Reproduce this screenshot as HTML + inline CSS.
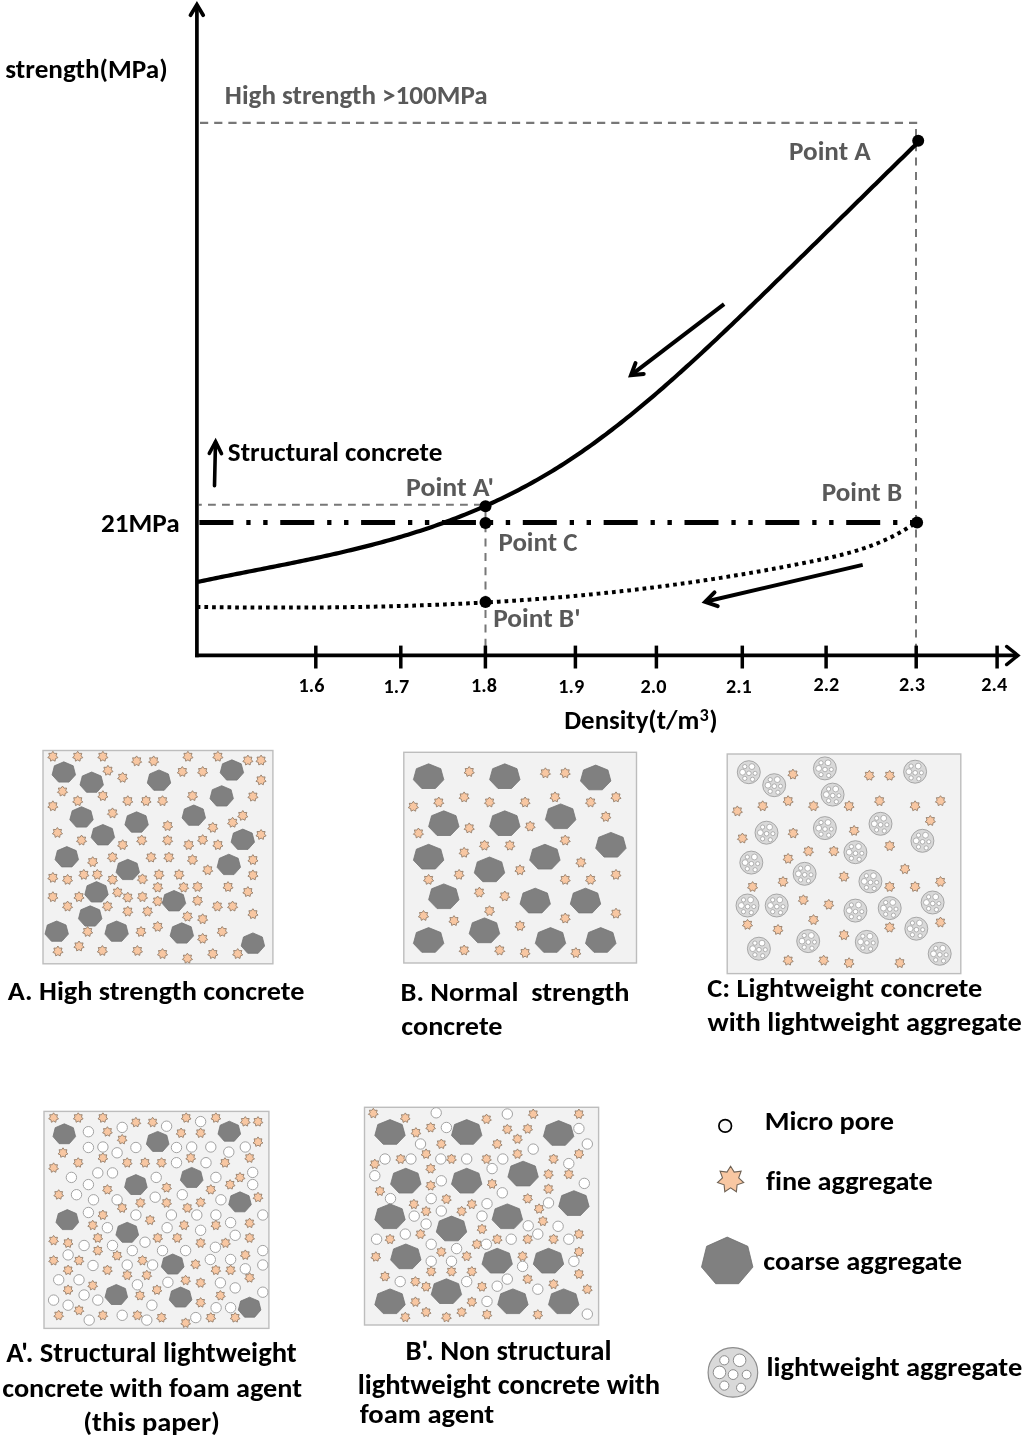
<!DOCTYPE html>
<html><head><meta charset="utf-8"><title>Strength vs density of concrete</title>
<style>
html,body{margin:0;padding:0;background:#fff;}
body{width:1024px;height:1437px;overflow:hidden;}
svg{display:block;}
text{font-variant-ligatures:none;font-feature-settings:'liga' 0,'clig' 0;}
</style></head>
<body>
<svg width="1024" height="1437" viewBox="0 0 1024 1437">
<rect width="1024" height="1437" fill="#fff"/>
<g id="chart">
<line x1="200" y1="122.8" x2="917.5" y2="122.8" stroke="#777777" stroke-width="2.2" stroke-dasharray="8.2 5.98"/>
<line x1="916" y1="129" x2="916" y2="654" stroke="#777777" stroke-width="2" stroke-dasharray="8 6.3"/>
<line x1="485.5" y1="510" x2="485.5" y2="654" stroke="#777777" stroke-width="2" stroke-dasharray="8 6.3"/>
<line x1="198.7" y1="504.7" x2="485" y2="504.7" stroke="#777777" stroke-width="1.9" stroke-dasharray="7.8 6.2" stroke-dashoffset="4.7"/>
<line x1="199.4" y1="522.5" x2="917" y2="522.5" stroke="#000" stroke-width="4.8" stroke-dasharray="34 12.9 4.3 12.6 4.4 12.65"/>
<path d="M197.90,581.84 L200.90,581.21 L203.90,580.58 L206.90,579.96 L209.90,579.34 L212.90,578.73 L215.90,578.12 L218.90,577.51 L221.90,576.91 L224.90,576.30 L227.90,575.70 L230.90,575.11 L233.90,574.51 L236.90,573.92 L239.90,573.33 L242.90,572.74 L245.90,572.15 L248.90,571.56 L251.90,570.97 L254.90,570.38 L257.90,569.79 L260.90,569.20 L263.90,568.61 L266.90,568.02 L269.90,567.43 L272.90,566.83 L275.90,566.24 L278.90,565.64 L281.90,565.04 L284.90,564.44 L287.90,563.84 L290.90,563.23 L293.90,562.62 L296.90,562.01 L299.90,561.39 L302.90,560.77 L305.90,560.14 L308.90,559.52 L311.90,558.88 L314.90,558.24 L317.90,557.60 L320.90,556.95 L323.90,556.30 L326.90,555.64 L329.90,554.97 L332.90,554.30 L335.90,553.62 L338.90,552.93 L341.90,552.24 L344.90,551.54 L347.90,550.83 L350.90,550.11 L353.90,549.39 L356.90,548.65 L359.90,547.91 L362.90,547.16 L365.90,546.40 L368.90,545.64 L371.90,544.86 L374.90,544.07 L377.90,543.27 L380.90,542.46 L383.90,541.64 L386.90,540.81 L389.90,539.97 L392.90,539.12 L395.90,538.26 L398.90,537.38 L401.90,536.49 L404.90,535.59 L407.90,534.68 L410.90,533.76 L413.90,532.82 L416.90,531.87 L419.90,530.90 L422.90,529.92 L425.90,528.93 L428.90,527.92 L431.90,526.90 L434.90,525.86 L437.90,524.81 L440.90,523.74 L443.90,522.66 L446.90,521.56 L449.90,520.44 L452.90,519.31 L455.90,518.16 L458.90,517.00 L461.90,515.82 L464.90,514.62 L467.90,513.40 L470.90,512.17 L473.90,510.91 L476.90,509.64 L479.90,508.35 L482.90,507.04 L485.90,505.72 L488.90,504.37 L491.90,503.00 L494.90,501.62 L497.90,500.21 L500.90,498.78 L503.90,497.34 L506.90,495.87 L509.90,494.38 L512.90,492.87 L515.90,491.34 L518.90,489.78 L521.90,488.21 L524.90,486.61 L527.90,484.99 L530.90,483.35 L533.90,481.68 L536.90,479.99 L539.90,478.28 L542.90,476.54 L545.90,474.78 L548.90,472.99 L551.90,471.18 L554.90,469.35 L557.90,467.49 L560.90,465.60 L563.90,463.69 L566.90,461.75 L569.90,459.79 L572.90,457.80 L575.90,455.79 L578.90,453.75 L581.90,451.68 L584.90,449.59 L587.90,447.48 L590.90,445.34 L593.90,443.18 L596.90,441.00 L599.90,438.79 L602.90,436.56 L605.90,434.31 L608.90,432.03 L611.90,429.74 L614.90,427.42 L617.90,425.09 L620.90,422.73 L623.90,420.35 L626.90,417.95 L629.90,415.54 L632.90,413.10 L635.90,410.65 L638.90,408.18 L641.90,405.69 L644.90,403.18 L647.90,400.66 L650.90,398.11 L653.90,395.56 L656.90,392.98 L659.90,390.39 L662.90,387.79 L665.90,385.17 L668.90,382.53 L671.90,379.88 L674.90,377.22 L677.90,374.54 L680.90,371.85 L683.90,369.15 L686.90,366.43 L689.90,363.71 L692.90,360.97 L695.90,358.21 L698.90,355.45 L701.90,352.68 L704.90,349.89 L707.90,347.10 L710.90,344.30 L713.90,341.48 L716.90,338.66 L719.90,335.83 L722.90,332.99 L725.90,330.14 L728.90,327.29 L731.90,324.42 L734.90,321.56 L737.90,318.68 L740.90,315.80 L743.90,312.91 L746.90,310.02 L749.90,307.12 L752.90,304.21 L755.90,301.30 L758.90,298.39 L761.90,295.48 L764.90,292.56 L767.90,289.63 L770.90,286.71 L773.90,283.78 L776.90,280.85 L779.90,277.92 L782.90,274.99 L785.90,272.05 L788.90,269.12 L791.90,266.18 L794.90,263.24 L797.90,260.30 L800.90,257.36 L803.90,254.42 L806.90,251.48 L809.90,248.53 L812.90,245.59 L815.90,242.64 L818.90,239.70 L821.90,236.75 L824.90,233.81 L827.90,230.86 L830.90,227.91 L833.90,224.96 L836.90,222.01 L839.90,219.06 L842.90,216.11 L845.90,213.16 L848.90,210.21 L851.90,207.26 L854.90,204.31 L857.90,201.36 L860.90,198.41 L863.90,195.46 L866.90,192.51 L869.90,189.56 L872.90,186.61 L875.90,183.66 L878.90,180.71 L881.90,177.77 L884.90,174.82 L887.90,171.87 L890.90,168.93 L893.90,165.98 L896.90,163.04 L899.90,160.09 L902.90,157.15 L905.90,154.21 L908.90,151.27 L911.90,148.33 L914.90,145.39 L917.90,142.45 L918.00,142.35" fill="none" stroke="#000" stroke-width="4.2" stroke-linejoin="round"/>
<path d="M196.70,606.95 L198.70,606.98 L200.70,607.00 L202.70,607.03 L204.70,607.06 L206.70,607.08 L208.70,607.11 L210.70,607.13 L212.70,607.16 L214.70,607.18 L216.70,607.21 L218.70,607.23 L220.70,607.25 L222.70,607.27 L224.70,607.29 L226.70,607.31 L228.70,607.33 L230.70,607.35 L232.70,607.37 L234.70,607.39 L236.70,607.41 L238.70,607.42 L240.70,607.44 L242.70,607.45 L244.70,607.47 L246.70,607.48 L248.70,607.49 L250.70,607.51 L252.70,607.52 L254.70,607.53 L256.70,607.54 L258.70,607.55 L260.70,607.56 L262.70,607.56 L264.70,607.57 L266.70,607.58 L268.70,607.58 L270.70,607.59 L272.70,607.59 L274.70,607.60 L276.70,607.60 L278.70,607.60 L280.70,607.60 L282.70,607.60 L284.70,607.60 L286.70,607.60 L288.70,607.60 L290.70,607.60 L292.70,607.59 L294.70,607.59 L296.70,607.58 L298.70,607.57 L300.70,607.57 L302.70,607.56 L304.70,607.55 L306.70,607.54 L308.70,607.53 L310.70,607.52 L312.70,607.51 L314.70,607.49 L316.70,607.48 L318.70,607.46 L320.70,607.45 L322.70,607.43 L324.70,607.41 L326.70,607.40 L328.70,607.38 L330.70,607.35 L332.70,607.33 L334.70,607.31 L336.70,607.29 L338.70,607.26 L340.70,607.24 L342.70,607.21 L344.70,607.18 L346.70,607.16 L348.70,607.13 L350.70,607.10 L352.70,607.06 L354.70,607.03 L356.70,607.00 L358.70,606.96 L360.70,606.93 L362.70,606.89 L364.70,606.86 L366.70,606.82 L368.70,606.78 L370.70,606.74 L372.70,606.70 L374.70,606.65 L376.70,606.61 L378.70,606.56 L380.70,606.52 L382.70,606.47 L384.70,606.42 L386.70,606.37 L388.70,606.32 L390.70,606.27 L392.70,606.22 L394.70,606.16 L396.70,606.11 L398.70,606.05 L400.70,606.00 L402.70,605.94 L404.70,605.88 L406.70,605.82 L408.70,605.76 L410.70,605.69 L412.70,605.63 L414.70,605.56 L416.70,605.50 L418.70,605.43 L420.70,605.36 L422.70,605.29 L424.70,605.22 L426.70,605.14 L428.70,605.07 L430.70,605.00 L432.70,604.92 L434.70,604.84 L436.70,604.76 L438.70,604.68 L440.70,604.60 L442.70,604.52 L444.70,604.43 L446.70,604.35 L448.70,604.26 L450.70,604.17 L452.70,604.08 L454.70,603.99 L456.70,603.90 L458.70,603.81 L460.70,603.71 L462.70,603.62 L464.70,603.52 L466.70,603.42 L468.70,603.32 L470.70,603.22 L472.70,603.12 L474.70,603.01 L476.70,602.91 L478.70,602.80 L480.70,602.69 L482.70,602.58 L484.70,602.47 L486.70,602.36 L488.70,602.25 L490.70,602.13 L492.70,602.01 L494.70,601.90 L496.70,601.78 L498.70,601.66 L500.70,601.53 L502.70,601.41 L504.70,601.28 L506.70,601.16 L508.70,601.03 L510.70,600.90 L512.70,600.77 L514.70,600.64 L516.70,600.50 L518.70,600.37 L520.70,600.23 L522.70,600.09 L524.70,599.95 L526.70,599.81 L528.70,599.66 L530.70,599.52 L532.70,599.37 L534.70,599.22 L536.70,599.07 L538.70,598.92 L540.70,598.77 L542.70,598.62 L544.70,598.46 L546.70,598.30 L548.70,598.14 L550.70,597.98 L552.70,597.82 L554.70,597.66 L556.70,597.49 L558.70,597.32 L560.70,597.15 L562.70,596.98 L564.70,596.81 L566.70,596.64 L568.70,596.46 L570.70,596.29 L572.70,596.11 L574.70,595.93 L576.70,595.74 L578.70,595.56 L580.70,595.38 L582.70,595.19 L584.70,595.00 L586.70,594.81 L588.70,594.62 L590.70,594.42 L592.70,594.23 L594.70,594.03 L596.70,593.83 L598.70,593.63 L600.70,593.43 L602.70,593.22 L604.70,593.01 L606.70,592.81 L608.70,592.60 L610.70,592.39 L612.70,592.17 L614.70,591.96 L616.70,591.74 L618.70,591.52 L620.70,591.30 L622.70,591.08 L624.70,590.85 L626.70,590.63 L628.70,590.40 L630.70,590.17 L632.70,589.94 L634.70,589.70 L636.70,589.47 L638.70,589.23 L640.70,588.99 L642.70,588.75 L644.70,588.51 L646.70,588.26 L648.70,588.02 L650.70,587.77 L652.70,587.52 L654.70,587.27 L656.70,587.01 L658.70,586.76 L660.70,586.50 L662.70,586.24 L664.70,585.98 L666.70,585.71 L668.70,585.45 L670.70,585.18 L672.70,584.91 L674.70,584.64 L676.70,584.36 L678.70,584.09 L680.70,583.81 L682.70,583.53 L684.70,583.25 L686.70,582.97 L688.70,582.68 L690.70,582.39 L692.70,582.10 L694.70,581.81 L696.70,581.52 L698.70,581.23 L700.70,580.93 L702.70,580.63 L704.70,580.33 L706.70,580.03 L708.70,579.72 L710.70,579.42 L712.70,579.11 L714.70,578.80 L716.70,578.49 L718.70,578.17 L720.70,577.86 L722.70,577.54 L724.70,577.22 L726.70,576.90 L728.70,576.57 L730.70,576.25 L732.70,575.92 L734.70,575.59 L736.70,575.26 L738.70,574.93 L740.70,574.59 L742.70,574.25 L744.70,573.91 L746.70,573.57 L748.70,573.23 L750.70,572.88 L752.70,572.54 L754.70,572.19 L756.70,571.84 L758.70,571.48 L760.70,571.13 L762.70,570.77 L764.70,570.41 L766.70,570.05 L768.70,569.69 L770.70,569.33 L772.70,568.96 L774.70,568.59 L776.70,568.22 L778.70,567.85 L780.70,567.48 L782.70,567.10 L784.70,566.72 L786.70,566.34 L788.70,565.96 L790.70,565.58 L792.70,565.19 L794.70,564.80 L796.70,564.41 L798.70,564.02 L800.70,563.63 L802.70,563.23 L804.70,562.83 L806.70,562.44 L808.70,562.03 L810.70,561.63 L812.70,561.23 L814.70,560.82 L816.70,560.41 L818.70,559.99 L820.70,559.58 L822.70,559.15 L824.70,558.72 L826.70,558.29 L828.70,557.85 L830.70,557.40 L832.70,556.95 L834.70,556.48 L836.70,556.01 L838.70,555.52 L840.70,555.03 L842.70,554.52 L844.70,554.00 L846.70,553.47 L848.70,552.93 L850.70,552.37 L852.70,551.80 L854.70,551.22 L856.70,550.61 L858.70,549.99 L860.70,549.36 L862.70,548.70 L864.70,548.03 L866.70,547.34 L868.70,546.63 L870.70,545.90 L872.70,545.15 L874.70,544.37 L876.70,543.58 L878.70,542.76 L880.70,541.92 L882.70,541.05 L884.70,540.16 L886.70,539.24 L888.70,538.30 L890.70,537.33 L892.70,536.34 L894.70,535.31 L896.70,534.26 L898.70,533.17 L900.70,532.06 L902.70,530.92 L904.70,529.74 L906.70,528.54 L908.70,527.30 L910.70,526.03 L912.70,524.72 L914.70,523.38 L916.00,522.49" fill="none" stroke="#000" stroke-width="4" stroke-dasharray="3.7 4"/>
<line x1="196.9" y1="657.2" x2="196.9" y2="5" stroke="#000" stroke-width="3.7"/>
<polyline points="190.5,15.2 196.9,4.6 203.2,15.2" fill="none" stroke="#000" stroke-width="3.8" stroke-linecap="round" stroke-linejoin="miter"/>
<line x1="195.2" y1="655.4" x2="1017" y2="655.4" stroke="#000" stroke-width="3.7"/>
<polyline points="1006.6,646.4 1018,655.4 1006.6,664.6" fill="none" stroke="#000" stroke-width="3.3" stroke-linecap="round"/>
<line x1="315.8" y1="645.6" x2="315.8" y2="668.5" stroke="#000" stroke-width="3.5"/>
<line x1="400.8" y1="645.6" x2="400.8" y2="668.5" stroke="#000" stroke-width="3.5"/>
<line x1="485.4" y1="645.6" x2="485.4" y2="668.5" stroke="#000" stroke-width="3.5"/>
<line x1="575.4" y1="645.6" x2="575.4" y2="668.5" stroke="#000" stroke-width="3.5"/>
<line x1="656.4" y1="645.6" x2="656.4" y2="668.5" stroke="#000" stroke-width="3.5"/>
<line x1="742.3" y1="645.6" x2="742.3" y2="668.5" stroke="#000" stroke-width="3.5"/>
<line x1="826.1" y1="645.6" x2="826.1" y2="668.5" stroke="#000" stroke-width="3.5"/>
<line x1="916.2" y1="645.6" x2="916.2" y2="668.5" stroke="#000" stroke-width="3.5"/>
<line x1="997.1" y1="645.6" x2="997.1" y2="668.5" stroke="#000" stroke-width="3.5"/>
<circle cx="918.2" cy="140.8" r="6" fill="#000"/>
<circle cx="485.5" cy="506.3" r="6" fill="#000"/>
<circle cx="485.5" cy="523.0" r="6" fill="#000"/>
<circle cx="917.1" cy="522.6" r="6" fill="#000"/>
<circle cx="485.5" cy="602.0" r="6" fill="#000"/>
<line x1="724.1" y1="304.2" x2="631.0" y2="375.1" stroke="#000" stroke-width="4.0"/><polyline points="635.5,363.1 631.0,375.1 643.7,373.9" fill="none" stroke="#000" stroke-width="4.0" stroke-linecap="round" stroke-linejoin="miter"/>
<line x1="862.7" y1="564.9" x2="705.2" y2="601.8" stroke="#000" stroke-width="4.0"/><polyline points="714.5,592.4 705.2,601.8 717.7,606.1" fill="none" stroke="#000" stroke-width="4.0" stroke-linecap="round" stroke-linejoin="miter"/>
<line x1="214.5" y1="485.8" x2="215.5" y2="442" stroke="#000" stroke-width="3.6" stroke-linecap="round"/>
<polyline points="209.3,453.4 215.6,441.6 221.5,453.6" fill="none" stroke="#000" stroke-width="3.6" stroke-linecap="round" stroke-linejoin="miter"/>
</g>
<g id="panels">
<rect x="43.0" y="750.5" width="229.9" height="213.3" fill="#f2f2f2" stroke="#bdbdbd" stroke-width="1.4"/>
<polygon points="52.9,751.3 54.3,753.4 56.9,753.3 56.2,755.7 57.9,757.7 55.5,758.6 55.1,761.2 52.9,759.9 50.6,761.2 50.2,758.6 47.8,757.7 49.5,755.7 48.8,753.3 51.4,753.4" fill="#f8c7a2" stroke="#8a735f" stroke-width="0.8"/>
<polygon points="77.7,751.3 79.2,753.4 81.8,753.3 81.1,755.7 82.8,757.7 80.4,758.6 80.0,761.2 77.7,759.9 75.5,761.2 75.1,758.6 72.7,757.7 74.4,755.7 73.7,753.3 76.2,753.4" fill="#f8c7a2" stroke="#8a735f" stroke-width="0.8"/>
<polygon points="102.9,751.3 104.4,753.4 106.9,753.3 106.2,755.7 107.9,757.7 105.6,758.6 105.1,761.2 102.9,759.9 100.6,761.2 100.2,758.6 97.8,757.7 99.5,755.7 98.8,753.3 101.4,753.4" fill="#f8c7a2" stroke="#8a735f" stroke-width="0.8"/>
<polygon points="136.6,755.9 138.1,758.0 140.7,757.8 140.0,760.3 141.7,762.2 139.3,763.2 138.9,765.8 136.6,764.5 134.4,765.8 134.0,763.2 131.6,762.2 133.3,760.3 132.6,757.8 135.2,758.0" fill="#f8c7a2" stroke="#8a735f" stroke-width="0.8"/>
<polygon points="153.7,755.9 155.1,758.0 157.7,757.8 157.0,760.3 158.7,762.2 156.3,763.2 155.9,765.8 153.7,764.5 151.4,765.8 151.0,763.2 148.6,762.2 150.3,760.3 149.6,757.8 152.2,758.0" fill="#f8c7a2" stroke="#8a735f" stroke-width="0.8"/>
<polygon points="187.9,751.3 189.4,753.4 192.0,753.3 191.3,755.7 193.0,757.7 190.6,758.6 190.2,761.2 187.9,759.9 185.7,761.2 185.2,758.6 182.9,757.7 184.6,755.7 183.9,753.3 186.4,753.4" fill="#f8c7a2" stroke="#8a735f" stroke-width="0.8"/>
<polygon points="217.9,751.3 219.4,753.4 222.0,753.3 221.2,755.7 223.0,757.7 220.6,758.6 220.1,761.2 217.9,759.9 215.6,761.2 215.2,758.6 212.8,757.7 214.5,755.7 213.8,753.3 216.4,753.4" fill="#f8c7a2" stroke="#8a735f" stroke-width="0.8"/>
<polygon points="247.9,755.1 249.3,757.2 251.9,757.1 251.2,759.5 252.9,761.5 250.5,762.5 250.1,765.0 247.9,763.7 245.6,765.0 245.2,762.5 242.8,761.5 244.5,759.5 243.8,757.1 246.4,757.2" fill="#f8c7a2" stroke="#8a735f" stroke-width="0.8"/>
<polygon points="261.1,755.1 262.5,757.2 265.1,757.1 264.4,759.5 266.1,761.5 263.7,762.5 263.3,765.0 261.1,763.7 258.8,765.0 258.4,762.5 256.0,761.5 257.7,759.5 257.0,757.1 259.6,757.2" fill="#f8c7a2" stroke="#8a735f" stroke-width="0.8"/>
<polygon points="107.9,765.3 109.4,767.4 112.0,767.2 111.3,769.7 113.0,771.6 110.6,772.6 110.2,775.2 107.9,773.9 105.7,775.2 105.3,772.6 102.9,771.6 104.6,769.7 103.9,767.2 106.5,767.4" fill="#f8c7a2" stroke="#8a735f" stroke-width="0.8"/>
<polygon points="122.7,772.4 124.2,774.5 126.7,774.3 126.0,776.8 127.7,778.7 125.4,779.7 124.9,782.3 122.7,781.0 120.4,782.3 120.0,779.7 117.6,778.7 119.3,776.8 118.6,774.3 121.2,774.5" fill="#f8c7a2" stroke="#8a735f" stroke-width="0.8"/>
<polygon points="182.3,766.5 183.8,768.6 186.4,768.5 185.7,771.0 187.4,772.9 185.0,773.9 184.6,776.4 182.3,775.2 180.1,776.4 179.7,773.9 177.3,772.9 179.0,771.0 178.3,768.5 180.9,768.6" fill="#f8c7a2" stroke="#8a735f" stroke-width="0.8"/>
<polygon points="202.7,766.5 204.1,768.6 206.7,768.5 206.0,771.0 207.7,772.9 205.3,773.9 204.9,776.4 202.7,775.2 200.4,776.4 200.0,773.9 197.6,772.9 199.3,771.0 198.6,768.5 201.2,768.6" fill="#f8c7a2" stroke="#8a735f" stroke-width="0.8"/>
<polygon points="261.1,774.9 262.5,777.0 265.1,776.9 264.4,779.4 266.1,781.3 263.7,782.3 263.3,784.8 261.1,783.5 258.8,784.8 258.4,782.3 256.0,781.3 257.7,779.4 257.0,776.9 259.6,777.0" fill="#f8c7a2" stroke="#8a735f" stroke-width="0.8"/>
<polygon points="62.5,786.1 64.0,788.2 66.6,788.0 65.8,790.5 67.6,792.4 65.2,793.4 64.8,796.0 62.5,794.7 60.2,796.0 59.8,793.4 57.4,792.4 59.2,790.5 58.4,788.0 61.0,788.2" fill="#f8c7a2" stroke="#8a735f" stroke-width="0.8"/>
<polygon points="77.7,795.7 79.2,797.8 81.8,797.7 81.1,800.2 82.8,802.1 80.4,803.1 80.0,805.6 77.7,804.4 75.5,805.6 75.1,803.1 72.7,802.1 74.4,800.2 73.7,797.7 76.2,797.8" fill="#f8c7a2" stroke="#8a735f" stroke-width="0.8"/>
<polygon points="102.9,790.7 104.4,792.8 106.9,792.6 106.2,795.1 107.9,797.0 105.6,798.0 105.1,800.5 102.9,799.3 100.6,800.5 100.2,798.0 97.8,797.0 99.5,795.1 98.8,792.6 101.4,792.8" fill="#f8c7a2" stroke="#8a735f" stroke-width="0.8"/>
<polygon points="127.8,795.7 129.2,797.8 131.8,797.7 131.1,800.2 132.8,802.1 130.4,803.1 130.0,805.6 127.8,804.4 125.5,805.6 125.1,803.1 122.7,802.1 124.4,800.2 123.7,797.7 126.3,797.8" fill="#f8c7a2" stroke="#8a735f" stroke-width="0.8"/>
<polygon points="146.0,795.7 147.5,797.8 150.1,797.7 149.4,800.2 151.1,802.1 148.7,803.1 148.3,805.6 146.0,804.4 143.8,805.6 143.4,803.1 141.0,802.1 142.7,800.2 142.0,797.7 144.5,797.8" fill="#f8c7a2" stroke="#8a735f" stroke-width="0.8"/>
<polygon points="162.5,795.7 164.0,797.8 166.6,797.7 165.9,800.2 167.6,802.1 165.2,803.1 164.8,805.6 162.5,804.4 160.3,805.6 159.9,803.1 157.5,802.1 159.2,800.2 158.5,797.7 161.0,797.8" fill="#f8c7a2" stroke="#8a735f" stroke-width="0.8"/>
<polygon points="192.5,790.7 194.0,792.8 196.6,792.6 195.8,795.1 197.6,797.0 195.2,798.0 194.8,800.5 192.5,799.3 190.2,800.5 189.8,798.0 187.4,797.0 189.2,795.1 188.4,792.6 191.0,792.8" fill="#f8c7a2" stroke="#8a735f" stroke-width="0.8"/>
<polygon points="252.9,791.2 254.4,793.3 257.0,793.1 256.3,795.6 258.0,797.5 255.6,798.5 255.2,801.1 252.9,799.8 250.7,801.1 250.2,798.5 247.9,797.5 249.6,795.6 248.9,793.1 251.4,793.3" fill="#f8c7a2" stroke="#8a735f" stroke-width="0.8"/>
<polygon points="52.9,800.8 54.3,802.9 56.9,802.8 56.2,805.3 57.9,807.2 55.5,808.2 55.1,810.7 52.9,809.4 50.6,810.7 50.2,808.2 47.8,807.2 49.5,805.3 48.8,802.8 51.4,802.9" fill="#f8c7a2" stroke="#8a735f" stroke-width="0.8"/>
<polygon points="112.5,807.9 114.0,810.0 116.6,809.9 115.9,812.4 117.6,814.3 115.2,815.3 114.8,817.8 112.5,816.6 110.3,817.8 109.8,815.3 107.4,814.3 109.2,812.4 108.5,809.9 111.0,810.0" fill="#f8c7a2" stroke="#8a735f" stroke-width="0.8"/>
<polygon points="242.8,810.5 244.3,812.6 246.8,812.4 246.1,814.9 247.8,816.8 245.5,817.8 245.0,820.3 242.8,819.1 240.5,820.3 240.1,817.8 237.7,816.8 239.4,814.9 238.7,812.4 241.3,812.6" fill="#f8c7a2" stroke="#8a735f" stroke-width="0.8"/>
<polygon points="232.6,817.3 234.1,819.4 236.7,819.3 236.0,821.8 237.7,823.7 235.3,824.7 234.9,827.2 232.6,826.0 230.4,827.2 229.9,824.7 227.5,823.7 229.3,821.8 228.6,819.3 231.1,819.4" fill="#f8c7a2" stroke="#8a735f" stroke-width="0.8"/>
<polygon points="212.8,822.4 214.3,824.5 216.9,824.4 216.2,826.8 217.9,828.8 215.5,829.7 215.1,832.3 212.8,831.0 210.6,832.3 210.1,829.7 207.7,828.8 209.5,826.8 208.7,824.4 211.3,824.5" fill="#f8c7a2" stroke="#8a735f" stroke-width="0.8"/>
<polygon points="167.6,820.6 169.1,822.7 171.7,822.6 171.0,825.1 172.7,827.0 170.3,828.0 169.9,830.5 167.6,829.3 165.4,830.5 164.9,828.0 162.5,827.0 164.3,825.1 163.6,822.6 166.1,822.7" fill="#f8c7a2" stroke="#8a735f" stroke-width="0.8"/>
<polygon points="57.4,827.5 58.9,829.6 61.5,829.4 60.8,831.9 62.5,833.8 60.1,834.8 59.7,837.4 57.4,836.1 55.2,837.4 54.7,834.8 52.4,833.8 54.1,831.9 53.4,829.4 55.9,829.6" fill="#f8c7a2" stroke="#8a735f" stroke-width="0.8"/>
<polygon points="81.5,835.1 83.0,837.2 85.6,837.1 84.9,839.5 86.6,841.5 84.2,842.4 83.8,845.0 81.5,843.7 79.3,845.0 78.9,842.4 76.5,841.5 78.2,839.5 77.5,837.1 80.1,837.2" fill="#f8c7a2" stroke="#8a735f" stroke-width="0.8"/>
<polygon points="122.7,839.7 124.2,841.8 126.7,841.6 126.0,844.1 127.7,846.0 125.4,847.0 124.9,849.5 122.7,848.3 120.4,849.5 120.0,847.0 117.6,846.0 119.3,844.1 118.6,841.6 121.2,841.8" fill="#f8c7a2" stroke="#8a735f" stroke-width="0.8"/>
<polygon points="141.7,835.1 143.2,837.2 145.8,837.1 145.1,839.5 146.8,841.5 144.4,842.4 144.0,845.0 141.7,843.7 139.5,845.0 139.0,842.4 136.6,841.5 138.4,839.5 137.7,837.1 140.2,837.2" fill="#f8c7a2" stroke="#8a735f" stroke-width="0.8"/>
<polygon points="167.6,835.1 169.1,837.2 171.7,837.1 171.0,839.5 172.7,841.5 170.3,842.4 169.9,845.0 167.6,843.7 165.4,845.0 164.9,842.4 162.5,841.5 164.3,839.5 163.6,837.1 166.1,837.2" fill="#f8c7a2" stroke="#8a735f" stroke-width="0.8"/>
<polygon points="188.7,839.7 190.2,841.8 192.8,841.6 192.0,844.1 193.8,846.0 191.4,847.0 190.9,849.5 188.7,848.3 186.4,849.5 186.0,847.0 183.6,846.0 185.3,844.1 184.6,841.6 187.2,841.8" fill="#f8c7a2" stroke="#8a735f" stroke-width="0.8"/>
<polygon points="202.7,834.6 204.1,836.7 206.7,836.5 206.0,839.0 207.7,840.9 205.3,841.9 204.9,844.5 202.7,843.2 200.4,844.5 200.0,841.9 197.6,840.9 199.3,839.0 198.6,836.5 201.2,836.7" fill="#f8c7a2" stroke="#8a735f" stroke-width="0.8"/>
<polygon points="217.9,839.7 219.4,841.8 222.0,841.6 221.2,844.1 223.0,846.0 220.6,847.0 220.1,849.5 217.9,848.3 215.6,849.5 215.2,847.0 212.8,846.0 214.5,844.1 213.8,841.6 216.4,841.8" fill="#f8c7a2" stroke="#8a735f" stroke-width="0.8"/>
<polygon points="261.1,829.5 262.5,831.6 265.1,831.5 264.4,833.9 266.1,835.9 263.7,836.8 263.3,839.4 261.1,838.1 258.8,839.4 258.4,836.8 256.0,835.9 257.7,833.9 257.0,831.5 259.6,831.6" fill="#f8c7a2" stroke="#8a735f" stroke-width="0.8"/>
<polygon points="92.7,856.7 94.2,858.8 96.8,858.6 96.1,861.1 97.8,863.0 95.4,864.0 95.0,866.6 92.7,865.3 90.5,866.6 90.0,864.0 87.6,863.0 89.4,861.1 88.6,858.6 91.2,858.8" fill="#f8c7a2" stroke="#8a735f" stroke-width="0.8"/>
<polygon points="112.5,852.1 114.0,854.2 116.6,854.1 115.9,856.5 117.6,858.5 115.2,859.4 114.8,862.0 112.5,860.7 110.3,862.0 109.8,859.4 107.4,858.5 109.2,856.5 108.5,854.1 111.0,854.2" fill="#f8c7a2" stroke="#8a735f" stroke-width="0.8"/>
<polygon points="151.1,852.1 152.6,854.2 155.2,854.1 154.5,856.5 156.2,858.5 153.8,859.4 153.4,862.0 151.1,860.7 148.9,862.0 148.4,859.4 146.0,858.5 147.8,856.5 147.0,854.1 149.6,854.2" fill="#f8c7a2" stroke="#8a735f" stroke-width="0.8"/>
<polygon points="168.9,852.1 170.4,854.2 173.0,854.1 172.2,856.5 174.0,858.5 171.6,859.4 171.1,862.0 168.9,860.7 166.6,862.0 166.2,859.4 163.8,858.5 165.5,856.5 164.8,854.1 167.4,854.2" fill="#f8c7a2" stroke="#8a735f" stroke-width="0.8"/>
<polygon points="192.5,854.6 194.0,856.8 196.6,856.6 195.8,859.1 197.6,861.0 195.2,862.0 194.8,864.5 192.5,863.3 190.2,864.5 189.8,862.0 187.4,861.0 189.2,859.1 188.4,856.6 191.0,856.8" fill="#f8c7a2" stroke="#8a735f" stroke-width="0.8"/>
<polygon points="207.7,864.8 209.2,866.9 211.8,866.8 211.1,869.2 212.8,871.2 210.4,872.1 210.0,874.7 207.7,873.4 205.5,874.7 205.1,872.1 202.7,871.2 204.4,869.2 203.7,866.8 206.2,866.9" fill="#f8c7a2" stroke="#8a735f" stroke-width="0.8"/>
<polygon points="252.9,854.6 254.4,856.8 257.0,856.6 256.3,859.1 258.0,861.0 255.6,862.0 255.2,864.5 252.9,863.3 250.7,864.5 250.2,862.0 247.9,861.0 249.6,859.1 248.9,856.6 251.4,856.8" fill="#f8c7a2" stroke="#8a735f" stroke-width="0.8"/>
<polygon points="52.9,872.4 54.3,874.5 56.9,874.4 56.2,876.9 57.9,878.8 55.5,879.8 55.1,882.3 52.9,881.0 50.6,882.3 50.2,879.8 47.8,878.8 49.5,876.9 48.8,874.4 51.4,874.5" fill="#f8c7a2" stroke="#8a735f" stroke-width="0.8"/>
<polygon points="67.6,874.4 69.1,876.6 71.6,876.4 70.9,878.9 72.6,880.8 70.3,881.8 69.8,884.3 67.6,883.1 65.3,884.3 64.9,881.8 62.5,880.8 64.2,878.9 63.5,876.4 66.1,876.6" fill="#f8c7a2" stroke="#8a735f" stroke-width="0.8"/>
<polygon points="83.8,869.4 85.3,871.5 87.9,871.3 87.2,873.8 88.9,875.7 86.5,876.7 86.1,879.3 83.8,878.0 81.6,879.3 81.1,876.7 78.8,875.7 80.5,873.8 79.8,871.3 82.3,871.5" fill="#f8c7a2" stroke="#8a735f" stroke-width="0.8"/>
<polygon points="97.3,869.4 98.8,871.5 101.4,871.3 100.6,873.8 102.4,875.7 100.0,876.7 99.5,879.3 97.3,878.0 95.0,879.3 94.6,876.7 92.2,875.7 93.9,873.8 93.2,871.3 95.8,871.5" fill="#f8c7a2" stroke="#8a735f" stroke-width="0.8"/>
<polygon points="112.5,874.4 114.0,876.6 116.6,876.4 115.9,878.9 117.6,880.8 115.2,881.8 114.8,884.3 112.5,883.1 110.3,884.3 109.8,881.8 107.4,880.8 109.2,878.9 108.5,876.4 111.0,876.6" fill="#f8c7a2" stroke="#8a735f" stroke-width="0.8"/>
<polygon points="142.5,873.9 144.0,876.0 146.5,875.9 145.8,878.4 147.6,880.3 145.2,881.3 144.7,883.8 142.5,882.6 140.2,883.8 139.8,881.3 137.4,880.3 139.1,878.4 138.4,875.9 141.0,876.0" fill="#f8c7a2" stroke="#8a735f" stroke-width="0.8"/>
<polygon points="159.0,869.4 160.5,871.5 163.0,871.3 162.3,873.8 164.1,875.7 161.7,876.7 161.2,879.3 159.0,878.0 156.7,879.3 156.3,876.7 153.9,875.7 155.6,873.8 154.9,871.3 157.5,871.5" fill="#f8c7a2" stroke="#8a735f" stroke-width="0.8"/>
<polygon points="179.0,869.4 180.5,871.5 183.1,871.3 182.4,873.8 184.1,875.7 181.7,876.7 181.3,879.3 179.0,878.0 176.8,879.3 176.4,876.7 174.0,875.7 175.7,873.8 175.0,871.3 177.6,871.5" fill="#f8c7a2" stroke="#8a735f" stroke-width="0.8"/>
<polygon points="252.9,869.9 254.4,872.0 257.0,871.8 256.3,874.3 258.0,876.2 255.6,877.2 255.2,879.8 252.9,878.5 250.7,879.8 250.2,877.2 247.9,876.2 249.6,874.3 248.9,871.8 251.4,872.0" fill="#f8c7a2" stroke="#8a735f" stroke-width="0.8"/>
<polygon points="157.7,882.1 159.2,884.2 161.8,884.0 161.1,886.5 162.8,888.4 160.4,889.4 160.0,892.0 157.7,890.7 155.5,892.0 155.0,889.4 152.6,888.4 154.4,886.5 153.6,884.0 156.2,884.2" fill="#f8c7a2" stroke="#8a735f" stroke-width="0.8"/>
<polygon points="183.6,882.1 185.1,884.2 187.7,884.0 187.0,886.5 188.7,888.4 186.3,889.4 185.9,892.0 183.6,890.7 181.4,892.0 180.9,889.4 178.5,888.4 180.3,886.5 179.5,884.0 182.1,884.2" fill="#f8c7a2" stroke="#8a735f" stroke-width="0.8"/>
<polygon points="197.6,881.6 199.1,883.7 201.6,883.5 200.9,886.0 202.6,887.9 200.3,888.9 199.8,891.4 197.6,890.2 195.3,891.4 194.9,888.9 192.5,887.9 194.2,886.0 193.5,883.5 196.1,883.7" fill="#f8c7a2" stroke="#8a735f" stroke-width="0.8"/>
<polygon points="228.0,881.6 229.5,883.7 232.1,883.5 231.4,886.0 233.1,887.9 230.7,888.9 230.3,891.4 228.0,890.2 225.8,891.4 225.4,888.9 223.0,887.9 224.7,886.0 224.0,883.5 226.6,883.7" fill="#f8c7a2" stroke="#8a735f" stroke-width="0.8"/>
<polygon points="247.9,886.6 249.3,888.7 251.9,888.6 251.2,891.1 252.9,893.0 250.5,894.0 250.1,896.5 247.9,895.3 245.6,896.5 245.2,894.0 242.8,893.0 244.5,891.1 243.8,888.6 246.4,888.7" fill="#f8c7a2" stroke="#8a735f" stroke-width="0.8"/>
<polygon points="52.9,891.7 54.3,893.8 56.9,893.7 56.2,896.2 57.9,898.1 55.5,899.1 55.1,901.6 52.9,900.3 50.6,901.6 50.2,899.1 47.8,898.1 49.5,896.2 48.8,893.7 51.4,893.8" fill="#f8c7a2" stroke="#8a735f" stroke-width="0.8"/>
<polygon points="79.0,891.7 80.5,893.8 83.1,893.7 82.3,896.2 84.1,898.1 81.7,899.1 81.3,901.6 79.0,900.3 76.7,901.6 76.3,899.1 73.9,898.1 75.7,896.2 74.9,893.7 77.5,893.8" fill="#f8c7a2" stroke="#8a735f" stroke-width="0.8"/>
<polygon points="117.6,887.1 119.1,889.3 121.7,889.1 120.9,891.6 122.7,893.5 120.3,894.5 119.9,897.0 117.6,895.8 115.3,897.0 114.9,894.5 112.5,893.5 114.3,891.6 113.5,889.1 116.1,889.3" fill="#f8c7a2" stroke="#8a735f" stroke-width="0.8"/>
<polygon points="127.8,892.2 129.2,894.3 131.8,894.2 131.1,896.7 132.8,898.6 130.4,899.6 130.0,902.1 127.8,900.9 125.5,902.1 125.1,899.6 122.7,898.6 124.4,896.7 123.7,894.2 126.3,894.3" fill="#f8c7a2" stroke="#8a735f" stroke-width="0.8"/>
<polygon points="142.5,891.7 144.0,893.8 146.5,893.7 145.8,896.2 147.6,898.1 145.2,899.1 144.7,901.6 142.5,900.3 140.2,901.6 139.8,899.1 137.4,898.1 139.1,896.2 138.4,893.7 141.0,893.8" fill="#f8c7a2" stroke="#8a735f" stroke-width="0.8"/>
<polygon points="157.7,896.0 159.2,898.1 161.8,898.0 161.1,900.5 162.8,902.4 160.4,903.4 160.0,905.9 157.7,904.7 155.5,905.9 155.0,903.4 152.6,902.4 154.4,900.5 153.6,898.0 156.2,898.1" fill="#f8c7a2" stroke="#8a735f" stroke-width="0.8"/>
<polygon points="197.6,895.5 199.1,897.6 201.6,897.5 200.9,900.0 202.6,901.9 200.3,902.9 199.8,905.4 197.6,904.2 195.3,905.4 194.9,902.9 192.5,901.9 194.2,900.0 193.5,897.5 196.1,897.6" fill="#f8c7a2" stroke="#8a735f" stroke-width="0.8"/>
<polygon points="67.6,901.1 69.1,903.2 71.6,903.1 70.9,905.5 72.6,907.5 70.3,908.4 69.8,911.0 67.6,909.7 65.3,911.0 64.9,908.4 62.5,907.5 64.2,905.5 63.5,903.1 66.1,903.2" fill="#f8c7a2" stroke="#8a735f" stroke-width="0.8"/>
<polygon points="107.4,901.1 108.9,903.2 111.5,903.1 110.8,905.5 112.5,907.5 110.1,908.4 109.7,911.0 107.4,909.7 105.2,911.0 104.8,908.4 102.4,907.5 104.1,905.5 103.4,903.1 106.0,903.2" fill="#f8c7a2" stroke="#8a735f" stroke-width="0.8"/>
<polygon points="127.8,906.2 129.2,908.3 131.8,908.1 131.1,910.6 132.8,912.5 130.4,913.5 130.0,916.1 127.8,914.8 125.5,916.1 125.1,913.5 122.7,912.5 124.4,910.6 123.7,908.1 126.3,908.3" fill="#f8c7a2" stroke="#8a735f" stroke-width="0.8"/>
<polygon points="147.6,906.2 149.0,908.3 151.6,908.1 150.9,910.6 152.6,912.5 150.2,913.5 149.8,916.1 147.6,914.8 145.3,916.1 144.9,913.5 142.5,912.5 144.2,910.6 143.5,908.1 146.1,908.3" fill="#f8c7a2" stroke="#8a735f" stroke-width="0.8"/>
<polygon points="217.4,901.1 218.9,903.2 221.4,903.1 220.7,905.5 222.5,907.5 220.1,908.4 219.6,911.0 217.4,909.7 215.1,911.0 214.7,908.4 212.3,907.5 214.0,905.5 213.3,903.1 215.9,903.2" fill="#f8c7a2" stroke="#8a735f" stroke-width="0.8"/>
<polygon points="232.6,901.1 234.1,903.2 236.7,903.1 236.0,905.5 237.7,907.5 235.3,908.4 234.9,911.0 232.6,909.7 230.4,911.0 229.9,908.4 227.5,907.5 229.3,905.5 228.6,903.1 231.1,903.2" fill="#f8c7a2" stroke="#8a735f" stroke-width="0.8"/>
<polygon points="252.9,908.7 254.4,910.8 257.0,910.7 256.3,913.2 258.0,915.1 255.6,916.1 255.2,918.6 252.9,917.4 250.7,918.6 250.2,916.1 247.9,915.1 249.6,913.2 248.9,910.7 251.4,910.8" fill="#f8c7a2" stroke="#8a735f" stroke-width="0.8"/>
<polygon points="187.4,911.3 188.9,913.4 191.5,913.2 190.8,915.7 192.5,917.6 190.1,918.6 189.7,921.1 187.4,919.9 185.2,921.1 184.7,918.6 182.4,917.6 184.1,915.7 183.4,913.2 185.9,913.4" fill="#f8c7a2" stroke="#8a735f" stroke-width="0.8"/>
<polygon points="202.7,913.8 204.1,915.9 206.7,915.8 206.0,918.2 207.7,920.2 205.3,921.1 204.9,923.7 202.7,922.4 200.4,923.7 200.0,921.1 197.6,920.2 199.3,918.2 198.6,915.8 201.2,915.9" fill="#f8c7a2" stroke="#8a735f" stroke-width="0.8"/>
<polygon points="157.7,921.4 159.2,923.5 161.8,923.4 161.1,925.9 162.8,927.8 160.4,928.8 160.0,931.3 157.7,930.1 155.5,931.3 155.0,928.8 152.6,927.8 154.4,925.9 153.6,923.4 156.2,923.5" fill="#f8c7a2" stroke="#8a735f" stroke-width="0.8"/>
<polygon points="87.6,926.5 89.1,928.6 91.7,928.5 91.0,930.9 92.7,932.9 90.3,933.8 89.9,936.4 87.6,935.1 85.4,936.4 85.0,933.8 82.6,932.9 84.3,930.9 83.6,928.5 86.1,928.6" fill="#f8c7a2" stroke="#8a735f" stroke-width="0.8"/>
<polygon points="141.0,926.5 142.4,928.6 145.0,928.5 144.3,930.9 146.0,932.9 143.6,933.8 143.2,936.4 141.0,935.1 138.7,936.4 138.3,933.8 135.9,932.9 137.6,930.9 136.9,928.5 139.5,928.6" fill="#f8c7a2" stroke="#8a735f" stroke-width="0.8"/>
<polygon points="222.2,926.5 223.7,928.6 226.3,928.5 225.6,930.9 227.3,932.9 224.9,933.8 224.5,936.4 222.2,935.1 220.0,936.4 219.5,933.8 217.1,932.9 218.9,930.9 218.1,928.5 220.7,928.6" fill="#f8c7a2" stroke="#8a735f" stroke-width="0.8"/>
<polygon points="202.7,933.4 204.1,935.5 206.7,935.3 206.0,937.8 207.7,939.7 205.3,940.7 204.9,943.2 202.7,942.0 200.4,943.2 200.0,940.7 197.6,939.7 199.3,937.8 198.6,935.3 201.2,935.5" fill="#f8c7a2" stroke="#8a735f" stroke-width="0.8"/>
<polygon points="79.0,941.0 80.5,943.1 83.1,942.9 82.3,945.4 84.1,947.3 81.7,948.3 81.3,950.9 79.0,949.6 76.7,950.9 76.3,948.3 73.9,947.3 75.7,945.4 74.9,942.9 77.5,943.1" fill="#f8c7a2" stroke="#8a735f" stroke-width="0.8"/>
<polygon points="57.9,946.0 59.4,948.2 62.0,948.0 61.3,950.5 63.0,952.4 60.6,953.4 60.2,955.9 57.9,954.7 55.7,955.9 55.2,953.4 52.9,952.4 54.6,950.5 53.9,948.0 56.4,948.2" fill="#f8c7a2" stroke="#8a735f" stroke-width="0.8"/>
<polygon points="102.4,945.5 103.9,947.7 106.4,947.5 105.7,950.0 107.4,951.9 105.0,952.9 104.6,955.4 102.4,954.2 100.1,955.4 99.7,952.9 97.3,951.9 99.0,950.0 98.3,947.5 100.9,947.7" fill="#f8c7a2" stroke="#8a735f" stroke-width="0.8"/>
<polygon points="137.4,945.5 138.9,947.7 141.5,947.5 140.7,950.0 142.5,951.9 140.1,952.9 139.7,955.4 137.4,954.2 135.1,955.4 134.7,952.9 132.3,951.9 134.1,950.0 133.3,947.5 135.9,947.7" fill="#f8c7a2" stroke="#8a735f" stroke-width="0.8"/>
<polygon points="162.5,948.6 164.0,950.7 166.6,950.5 165.9,953.0 167.6,954.9 165.2,955.9 164.8,958.5 162.5,957.2 160.3,958.5 159.9,955.9 157.5,954.9 159.2,953.0 158.5,950.5 161.0,950.7" fill="#f8c7a2" stroke="#8a735f" stroke-width="0.8"/>
<polygon points="187.4,953.2 188.9,955.3 191.5,955.1 190.8,957.6 192.5,959.5 190.1,960.5 189.7,963.0 187.4,961.8 185.2,963.0 184.7,960.5 182.4,959.5 184.1,957.6 183.4,955.1 185.9,955.3" fill="#f8c7a2" stroke="#8a735f" stroke-width="0.8"/>
<polygon points="212.8,948.6 214.3,950.7 216.9,950.5 216.2,953.0 217.9,954.9 215.5,955.9 215.1,958.5 212.8,957.2 210.6,958.5 210.1,955.9 207.7,954.9 209.5,953.0 208.7,950.5 211.3,950.7" fill="#f8c7a2" stroke="#8a735f" stroke-width="0.8"/>
<polygon points="237.7,948.6 239.2,950.7 241.8,950.5 241.0,953.0 242.8,954.9 240.4,955.9 240.0,958.5 237.7,957.2 235.4,958.5 235.0,955.9 232.6,954.9 234.3,953.0 233.6,950.5 236.2,950.7" fill="#f8c7a2" stroke="#8a735f" stroke-width="0.8"/>
<polygon points="63.8,761.8 73.2,765.8 75.5,774.9 69.0,782.1 58.6,782.1 52.1,774.9 54.4,765.8" fill="#808080" stroke="#737373" stroke-width="0.8"/>
<polygon points="91.7,772.0 101.1,776.0 103.4,785.0 96.9,792.3 86.5,792.3 80.0,785.0 82.3,776.0" fill="#808080" stroke="#737373" stroke-width="0.8"/>
<polygon points="159.0,769.9 168.4,774.0 170.7,783.0 164.2,790.3 153.8,790.3 147.3,783.0 149.6,774.0" fill="#808080" stroke="#737373" stroke-width="0.8"/>
<polygon points="231.9,759.8 241.2,763.8 243.6,772.8 237.1,780.1 226.6,780.1 220.2,772.8 222.5,763.8" fill="#808080" stroke="#737373" stroke-width="0.8"/>
<polygon points="221.7,785.7 231.1,789.7 233.4,798.7 226.9,806.0 216.5,806.0 210.0,798.7 212.3,789.7" fill="#808080" stroke="#737373" stroke-width="0.8"/>
<polygon points="81.5,806.7 90.9,810.8 93.2,819.8 86.7,827.1 76.3,827.1 69.8,819.8 72.2,810.8" fill="#808080" stroke="#737373" stroke-width="0.8"/>
<polygon points="136.6,811.8 146.0,815.8 148.3,824.9 141.8,832.2 131.4,832.2 124.9,824.9 127.3,815.8" fill="#808080" stroke="#737373" stroke-width="0.8"/>
<polygon points="193.8,805.0 203.2,809.0 205.5,818.0 199.0,825.3 188.6,825.3 182.1,818.0 184.4,809.0" fill="#808080" stroke="#737373" stroke-width="0.8"/>
<polygon points="102.9,824.5 112.3,828.5 114.6,837.6 108.1,844.9 97.7,844.9 91.2,837.6 93.5,828.5" fill="#808080" stroke="#737373" stroke-width="0.8"/>
<polygon points="242.8,829.1 252.2,833.1 254.5,842.2 248.0,849.4 237.6,849.4 231.1,842.2 233.4,833.1" fill="#808080" stroke="#737373" stroke-width="0.8"/>
<polygon points="66.8,846.6 76.2,850.6 78.5,859.7 72.0,866.9 61.6,866.9 55.1,859.7 57.4,850.6" fill="#808080" stroke="#737373" stroke-width="0.8"/>
<polygon points="127.8,859.3 137.1,863.3 139.5,872.4 133.0,879.6 122.5,879.6 116.1,872.4 118.4,863.3" fill="#808080" stroke="#737373" stroke-width="0.8"/>
<polygon points="228.8,854.2 238.2,858.3 240.5,867.3 234.0,874.6 223.6,874.6 217.1,867.3 219.4,858.3" fill="#808080" stroke="#737373" stroke-width="0.8"/>
<polygon points="96.5,881.6 105.9,885.7 108.2,894.7 101.7,902.0 91.3,902.0 84.8,894.7 87.1,885.7" fill="#808080" stroke="#737373" stroke-width="0.8"/>
<polygon points="174.0,890.5 183.3,894.6 185.7,903.6 179.2,910.9 168.8,910.9 162.3,903.6 164.6,894.6" fill="#808080" stroke="#737373" stroke-width="0.8"/>
<polygon points="90.2,905.8 99.6,909.8 101.9,918.8 95.4,926.1 85.0,926.1 78.5,918.8 80.8,909.8" fill="#808080" stroke="#737373" stroke-width="0.8"/>
<polygon points="56.7,921.0 66.0,925.0 68.4,934.1 61.9,941.3 51.5,941.3 45.0,934.1 47.3,925.0" fill="#808080" stroke="#737373" stroke-width="0.8"/>
<polygon points="116.6,921.0 126.0,925.0 128.3,934.1 121.8,941.3 111.4,941.3 104.9,934.1 107.2,925.0" fill="#808080" stroke="#737373" stroke-width="0.8"/>
<polygon points="181.8,922.8 191.2,926.8 193.5,935.9 187.0,943.1 176.6,943.1 170.1,935.9 172.5,926.8" fill="#808080" stroke="#737373" stroke-width="0.8"/>
<polygon points="252.9,932.9 262.3,937.0 264.6,946.0 258.1,953.3 247.7,953.3 241.2,946.0 243.5,937.0" fill="#808080" stroke="#737373" stroke-width="0.8"/>
<rect x="403.8" y="752.3" width="232.7" height="210.7" fill="#f2f2f2" stroke="#bdbdbd" stroke-width="1.4"/>
<polygon points="469.2,766.5 470.7,768.6 473.3,768.5 472.6,771.0 474.3,772.9 471.9,773.9 471.5,776.4 469.2,775.2 467.0,776.4 466.5,773.9 464.1,772.9 465.9,771.0 465.2,768.5 467.7,768.6" fill="#f8c7a2" stroke="#8a735f" stroke-width="0.8"/>
<polygon points="545.4,767.8 546.9,769.9 549.5,769.8 548.7,772.2 550.5,774.2 548.1,775.1 547.6,777.7 545.4,776.4 543.1,777.7 542.7,775.1 540.3,774.2 542.0,772.2 541.3,769.8 543.9,769.9" fill="#f8c7a2" stroke="#8a735f" stroke-width="0.8"/>
<polygon points="565.2,767.8 566.7,769.9 569.3,769.8 568.5,772.2 570.3,774.2 567.9,775.1 567.5,777.7 565.2,776.4 562.9,777.7 562.5,775.1 560.1,774.2 561.8,772.2 561.1,769.8 563.7,769.9" fill="#f8c7a2" stroke="#8a735f" stroke-width="0.8"/>
<polygon points="413.4,801.3 414.8,803.4 417.4,803.3 416.7,805.8 418.4,807.7 416.0,808.7 415.6,811.2 413.4,810.0 411.1,811.2 410.7,808.7 408.3,807.7 410.0,805.8 409.3,803.3 411.9,803.4" fill="#f8c7a2" stroke="#8a735f" stroke-width="0.8"/>
<polygon points="438.8,797.0 440.2,799.1 442.8,799.0 442.1,801.4 443.8,803.4 441.4,804.3 441.0,806.9 438.8,805.6 436.5,806.9 436.1,804.3 433.7,803.4 435.4,801.4 434.7,799.0 437.3,799.1" fill="#f8c7a2" stroke="#8a735f" stroke-width="0.8"/>
<polygon points="464.1,791.9 465.6,794.0 468.2,793.9 467.5,796.4 469.2,798.3 466.8,799.3 466.4,801.8 464.1,800.6 461.9,801.8 461.5,799.3 459.1,798.3 460.8,796.4 460.1,793.9 462.7,794.0" fill="#f8c7a2" stroke="#8a735f" stroke-width="0.8"/>
<polygon points="489.5,797.0 491.0,799.1 493.6,799.0 492.9,801.4 494.6,803.4 492.2,804.3 491.8,806.9 489.5,805.6 487.3,806.9 486.8,804.3 484.5,803.4 486.2,801.4 485.5,799.0 488.0,799.1" fill="#f8c7a2" stroke="#8a735f" stroke-width="0.8"/>
<polygon points="525.1,797.0 526.6,799.1 529.1,799.0 528.4,801.4 530.1,803.4 527.8,804.3 527.3,806.9 525.1,805.6 522.8,806.9 522.4,804.3 520.0,803.4 521.7,801.4 521.0,799.0 523.6,799.1" fill="#f8c7a2" stroke="#8a735f" stroke-width="0.8"/>
<polygon points="555.0,791.9 556.5,794.0 559.1,793.9 558.4,796.4 560.1,798.3 557.7,799.3 557.3,801.8 555.0,800.6 552.8,801.8 552.4,799.3 550.0,798.3 551.7,796.4 551.0,793.9 553.5,794.0" fill="#f8c7a2" stroke="#8a735f" stroke-width="0.8"/>
<polygon points="590.6,797.0 592.1,799.1 594.7,799.0 593.9,801.4 595.7,803.4 593.3,804.3 592.8,806.9 590.6,805.6 588.3,806.9 587.9,804.3 585.5,803.4 587.2,801.4 586.5,799.0 589.1,799.1" fill="#f8c7a2" stroke="#8a735f" stroke-width="0.8"/>
<polygon points="616.0,791.9 617.5,794.0 620.0,793.9 619.3,796.4 621.0,798.3 618.7,799.3 618.2,801.8 616.0,800.6 613.7,801.8 613.3,799.3 610.9,798.3 612.6,796.4 611.9,793.9 614.5,794.0" fill="#f8c7a2" stroke="#8a735f" stroke-width="0.8"/>
<polygon points="605.8,811.5 607.3,813.6 609.9,813.4 609.2,815.9 610.9,817.8 608.5,818.8 608.1,821.4 605.8,820.1 603.6,821.4 603.1,818.8 600.8,817.8 602.5,815.9 601.8,813.4 604.3,813.6" fill="#f8c7a2" stroke="#8a735f" stroke-width="0.8"/>
<polygon points="418.4,828.0 419.9,830.1 422.5,829.9 421.8,832.4 423.5,834.3 421.1,835.3 420.7,837.9 418.4,836.6 416.2,837.9 415.8,835.3 413.4,834.3 415.1,832.4 414.4,829.9 416.9,830.1" fill="#f8c7a2" stroke="#8a735f" stroke-width="0.8"/>
<polygon points="469.2,822.9 470.7,825.0 473.3,824.9 472.6,827.3 474.3,829.3 471.9,830.2 471.5,832.8 469.2,831.5 467.0,832.8 466.5,830.2 464.1,829.3 465.9,827.3 465.2,824.9 467.7,825.0" fill="#f8c7a2" stroke="#8a735f" stroke-width="0.8"/>
<polygon points="530.2,821.1 531.6,823.2 534.2,823.1 533.5,825.6 535.2,827.5 532.8,828.5 532.4,831.0 530.2,829.8 527.9,831.0 527.5,828.5 525.1,827.5 526.8,825.6 526.1,823.1 528.7,823.2" fill="#f8c7a2" stroke="#8a735f" stroke-width="0.8"/>
<polygon points="565.2,835.1 566.7,837.2 569.3,837.1 568.5,839.5 570.3,841.5 567.9,842.4 567.5,845.0 565.2,843.7 562.9,845.0 562.5,842.4 560.1,841.5 561.8,839.5 561.1,837.1 563.7,837.2" fill="#f8c7a2" stroke="#8a735f" stroke-width="0.8"/>
<polygon points="484.5,840.2 485.9,842.3 488.5,842.1 487.8,844.6 489.5,846.5 487.1,847.5 486.7,850.1 484.5,848.8 482.2,850.1 481.8,847.5 479.4,846.5 481.1,844.6 480.4,842.1 483.0,842.3" fill="#f8c7a2" stroke="#8a735f" stroke-width="0.8"/>
<polygon points="509.8,840.2 511.3,842.3 513.9,842.1 513.2,844.6 514.9,846.5 512.5,847.5 512.1,850.1 509.8,848.8 507.6,850.1 507.2,847.5 504.8,846.5 506.5,844.6 505.8,842.1 508.4,842.3" fill="#f8c7a2" stroke="#8a735f" stroke-width="0.8"/>
<polygon points="464.1,847.3 465.6,849.4 468.2,849.2 467.5,851.7 469.2,853.6 466.8,854.6 466.4,857.2 464.1,855.9 461.9,857.2 461.5,854.6 459.1,853.6 460.8,851.7 460.1,849.2 462.7,849.4" fill="#f8c7a2" stroke="#8a735f" stroke-width="0.8"/>
<polygon points="580.9,857.2 582.4,859.3 585.0,859.1 584.3,861.6 586.0,863.5 583.6,864.5 583.2,867.1 580.9,865.8 578.7,867.1 578.3,864.5 575.9,863.5 577.6,861.6 576.9,859.1 579.4,859.3" fill="#f8c7a2" stroke="#8a735f" stroke-width="0.8"/>
<polygon points="520.0,864.8 521.5,866.9 524.1,866.8 523.3,869.2 525.1,871.2 522.7,872.1 522.3,874.7 520.0,873.4 517.7,874.7 517.3,872.1 514.9,871.2 516.7,869.2 515.9,866.8 518.5,866.9" fill="#f8c7a2" stroke="#8a735f" stroke-width="0.8"/>
<polygon points="459.1,869.4 460.6,871.5 463.1,871.3 462.4,873.8 464.1,875.7 461.7,876.7 461.3,879.3 459.1,878.0 456.8,879.3 456.4,876.7 454.0,875.7 455.7,873.8 455.0,871.3 457.6,871.5" fill="#f8c7a2" stroke="#8a735f" stroke-width="0.8"/>
<polygon points="428.6,874.4 430.1,876.6 432.7,876.4 431.9,878.9 433.7,880.8 431.3,881.8 430.8,884.3 428.6,883.1 426.3,884.3 425.9,881.8 423.5,880.8 425.2,878.9 424.5,876.4 427.1,876.6" fill="#f8c7a2" stroke="#8a735f" stroke-width="0.8"/>
<polygon points="565.2,874.4 566.7,876.6 569.3,876.4 568.5,878.9 570.3,880.8 567.9,881.8 567.5,884.3 565.2,883.1 562.9,884.3 562.5,881.8 560.1,880.8 561.8,878.9 561.1,876.4 563.7,876.6" fill="#f8c7a2" stroke="#8a735f" stroke-width="0.8"/>
<polygon points="590.6,874.4 592.1,876.6 594.7,876.4 593.9,878.9 595.7,880.8 593.3,881.8 592.8,884.3 590.6,883.1 588.3,884.3 587.9,881.8 585.5,880.8 587.2,878.9 586.5,876.4 589.1,876.6" fill="#f8c7a2" stroke="#8a735f" stroke-width="0.8"/>
<polygon points="616.0,869.4 617.5,871.5 620.0,871.3 619.3,873.8 621.0,875.7 618.7,876.7 618.2,879.3 616.0,878.0 613.7,879.3 613.3,876.7 610.9,875.7 612.6,873.8 611.9,871.3 614.5,871.5" fill="#f8c7a2" stroke="#8a735f" stroke-width="0.8"/>
<polygon points="479.4,887.1 480.9,889.3 483.4,889.1 482.7,891.6 484.4,893.5 482.1,894.5 481.6,897.0 479.4,895.8 477.1,897.0 476.7,894.5 474.3,893.5 476.0,891.6 475.3,889.1 477.9,889.3" fill="#f8c7a2" stroke="#8a735f" stroke-width="0.8"/>
<polygon points="504.8,891.0 506.3,893.1 508.8,892.9 508.1,895.4 509.8,897.3 507.4,898.3 507.0,900.8 504.8,899.6 502.5,900.8 502.1,898.3 499.7,897.3 501.4,895.4 500.7,892.9 503.3,893.1" fill="#f8c7a2" stroke="#8a735f" stroke-width="0.8"/>
<polygon points="489.5,905.7 491.0,907.8 493.6,907.6 492.9,910.1 494.6,912.0 492.2,913.0 491.8,915.6 489.5,914.3 487.3,915.6 486.8,913.0 484.5,912.0 486.2,910.1 485.5,907.6 488.0,907.8" fill="#f8c7a2" stroke="#8a735f" stroke-width="0.8"/>
<polygon points="423.5,910.5 425.0,912.6 427.6,912.5 426.9,914.9 428.6,916.9 426.2,917.8 425.8,920.4 423.5,919.1 421.3,920.4 420.8,917.8 418.4,916.9 420.2,914.9 419.5,912.5 422.0,912.6" fill="#f8c7a2" stroke="#8a735f" stroke-width="0.8"/>
<polygon points="454.0,915.6 455.5,917.7 458.0,917.5 457.3,920.0 459.1,921.9 456.7,922.9 456.2,925.5 454.0,924.2 451.7,925.5 451.3,922.9 448.9,921.9 450.6,920.0 449.9,917.5 452.5,917.7" fill="#f8c7a2" stroke="#8a735f" stroke-width="0.8"/>
<polygon points="520.0,920.7 521.5,922.8 524.1,922.6 523.3,925.1 525.1,927.0 522.7,928.0 522.3,930.5 520.0,929.3 517.7,930.5 517.3,928.0 514.9,927.0 516.7,925.1 515.9,922.6 518.5,922.8" fill="#f8c7a2" stroke="#8a735f" stroke-width="0.8"/>
<polygon points="565.2,913.0 566.7,915.2 569.3,915.0 568.5,917.5 570.3,919.4 567.9,920.4 567.5,922.9 565.2,921.7 562.9,922.9 562.5,920.4 560.1,919.4 561.8,917.5 561.1,915.0 563.7,915.2" fill="#f8c7a2" stroke="#8a735f" stroke-width="0.8"/>
<polygon points="616.0,908.2 617.5,910.3 620.0,910.2 619.3,912.7 621.0,914.6 618.7,915.6 618.2,918.1 616.0,916.8 613.7,918.1 613.3,915.6 610.9,914.6 612.6,912.7 611.9,910.2 614.5,910.3" fill="#f8c7a2" stroke="#8a735f" stroke-width="0.8"/>
<polygon points="464.1,945.0 465.6,947.1 468.2,947.0 467.5,949.5 469.2,951.4 466.8,952.4 466.4,954.9 464.1,953.7 461.9,954.9 461.5,952.4 459.1,951.4 460.8,949.5 460.1,947.0 462.7,947.1" fill="#f8c7a2" stroke="#8a735f" stroke-width="0.8"/>
<polygon points="499.7,945.0 501.2,947.1 503.8,947.0 503.0,949.5 504.8,951.4 502.4,952.4 501.9,954.9 499.7,953.7 497.4,954.9 497.0,952.4 494.6,951.4 496.3,949.5 495.6,947.0 498.2,947.1" fill="#f8c7a2" stroke="#8a735f" stroke-width="0.8"/>
<polygon points="525.1,947.6 526.6,949.7 529.1,949.5 528.4,952.0 530.1,953.9 527.8,954.9 527.3,957.5 525.1,956.2 522.8,957.5 522.4,954.9 520.0,953.9 521.7,952.0 521.0,949.5 523.6,949.7" fill="#f8c7a2" stroke="#8a735f" stroke-width="0.8"/>
<polygon points="575.9,947.6 577.3,949.7 579.9,949.5 579.2,952.0 580.9,953.9 578.5,954.9 578.1,957.5 575.9,956.2 573.6,957.5 573.2,954.9 570.8,953.9 572.5,952.0 571.8,949.5 574.4,949.7" fill="#f8c7a2" stroke="#8a735f" stroke-width="0.8"/>
<polygon points="428.6,763.8 440.8,768.7 443.8,779.7 435.4,788.5 421.8,788.5 413.4,779.7 416.4,768.7" fill="#808080" stroke="#737373" stroke-width="0.8"/>
<polygon points="504.8,763.8 517.0,768.7 520.0,779.7 511.5,788.5 498.0,788.5 489.6,779.7 492.6,768.7" fill="#808080" stroke="#737373" stroke-width="0.8"/>
<polygon points="595.7,765.1 607.9,770.0 610.9,781.0 602.4,789.8 588.9,789.8 580.5,781.0 583.5,770.0" fill="#808080" stroke="#737373" stroke-width="0.8"/>
<polygon points="443.8,810.8 456.0,815.7 459.0,826.7 450.6,835.5 437.1,835.5 428.6,826.7 431.6,815.7" fill="#808080" stroke="#737373" stroke-width="0.8"/>
<polygon points="504.8,810.8 517.0,815.7 520.0,826.7 511.5,835.5 498.0,835.5 489.6,826.7 492.6,815.7" fill="#808080" stroke="#737373" stroke-width="0.8"/>
<polygon points="560.6,803.9 572.8,808.8 575.8,819.8 567.4,828.6 553.9,828.6 545.4,819.8 548.4,808.8" fill="#808080" stroke="#737373" stroke-width="0.8"/>
<polygon points="610.9,832.4 623.1,837.3 626.1,848.3 617.7,857.1 604.1,857.1 595.7,848.3 598.7,837.3" fill="#808080" stroke="#737373" stroke-width="0.8"/>
<polygon points="428.6,844.3 440.8,849.2 443.8,860.2 435.4,869.0 421.8,869.0 413.4,860.2 416.4,849.2" fill="#808080" stroke="#737373" stroke-width="0.8"/>
<polygon points="544.9,844.3 557.1,849.2 560.1,860.2 551.7,869.0 538.1,869.0 529.7,860.2 532.7,849.2" fill="#808080" stroke="#737373" stroke-width="0.8"/>
<polygon points="489.5,857.0 501.7,861.9 504.7,872.9 496.3,881.7 482.8,881.7 474.3,872.9 477.3,861.9" fill="#808080" stroke="#737373" stroke-width="0.8"/>
<polygon points="443.8,883.9 456.0,888.8 459.0,899.8 450.6,908.6 437.1,908.6 428.6,899.8 431.6,888.8" fill="#808080" stroke="#737373" stroke-width="0.8"/>
<polygon points="535.2,888.2 547.4,893.1 550.4,904.1 542.0,912.9 528.5,912.9 520.0,904.1 523.0,893.1" fill="#808080" stroke="#737373" stroke-width="0.8"/>
<polygon points="585.5,888.2 597.7,893.1 600.7,904.1 592.3,912.9 578.7,912.9 570.3,904.1 573.3,893.1" fill="#808080" stroke="#737373" stroke-width="0.8"/>
<polygon points="484.5,917.9 496.6,922.8 499.7,933.8 491.2,942.7 477.7,942.7 469.2,933.8 472.3,922.8" fill="#808080" stroke="#737373" stroke-width="0.8"/>
<polygon points="428.6,927.6 440.8,932.5 443.8,943.5 435.4,952.3 421.8,952.3 413.4,943.5 416.4,932.5" fill="#808080" stroke="#737373" stroke-width="0.8"/>
<polygon points="550.5,927.6 562.7,932.5 565.7,943.5 557.2,952.3 543.7,952.3 535.3,943.5 538.3,932.5" fill="#808080" stroke="#737373" stroke-width="0.8"/>
<polygon points="600.7,927.6 612.9,932.5 616.0,943.5 607.5,952.3 594.0,952.3 585.5,943.5 588.5,932.5" fill="#808080" stroke="#737373" stroke-width="0.8"/>
<rect x="727.2" y="754.0" width="233.6" height="219.6" fill="#f2f2f2" stroke="#bdbdbd" stroke-width="1.4"/>
<polygon points="792.9,769.1 794.4,771.2 797.0,771.0 796.3,773.5 798.0,775.4 795.6,776.4 795.2,779.0 792.9,777.7 790.7,779.0 790.3,776.4 787.9,775.4 789.6,773.5 788.9,771.0 791.5,771.2" fill="#f8c7a2" stroke="#8a735f" stroke-width="0.8"/>
<polygon points="869.4,770.3 870.9,772.5 873.4,772.3 872.7,774.8 874.4,776.7 872.1,777.7 871.6,780.2 869.4,779.0 867.1,780.2 866.7,777.7 864.3,776.7 866.0,774.8 865.3,772.3 867.9,772.5" fill="#f8c7a2" stroke="#8a735f" stroke-width="0.8"/>
<polygon points="889.7,770.3 891.2,772.5 893.8,772.3 893.0,774.8 894.8,776.7 892.4,777.7 891.9,780.2 889.7,779.0 887.4,780.2 887.0,777.7 884.6,776.7 886.3,774.8 885.6,772.3 888.2,772.5" fill="#f8c7a2" stroke="#8a735f" stroke-width="0.8"/>
<polygon points="737.3,805.9 738.8,808.0 741.4,807.9 740.7,810.3 742.4,812.3 740.0,813.2 739.6,815.8 737.3,814.5 735.1,815.8 734.7,813.2 732.3,812.3 734.0,810.3 733.3,807.9 735.9,808.0" fill="#f8c7a2" stroke="#8a735f" stroke-width="0.8"/>
<polygon points="762.7,800.8 764.2,802.9 766.8,802.8 766.1,805.3 767.8,807.2 765.4,808.2 765.0,810.7 762.7,809.4 760.5,810.7 760.1,808.2 757.7,807.2 759.4,805.3 758.7,802.8 761.2,802.9" fill="#f8c7a2" stroke="#8a735f" stroke-width="0.8"/>
<polygon points="788.1,795.7 789.6,797.8 792.2,797.7 791.5,800.2 793.2,802.1 790.8,803.1 790.4,805.6 788.1,804.4 785.9,805.6 785.4,803.1 783.1,802.1 784.8,800.2 784.1,797.7 786.6,797.8" fill="#f8c7a2" stroke="#8a735f" stroke-width="0.8"/>
<polygon points="813.5,800.8 815.0,802.9 817.6,802.8 816.9,805.3 818.6,807.2 816.2,808.2 815.8,810.7 813.5,809.4 811.3,810.7 810.8,808.2 808.4,807.2 810.2,805.3 809.5,802.8 812.0,802.9" fill="#f8c7a2" stroke="#8a735f" stroke-width="0.8"/>
<polygon points="849.1,800.8 850.6,802.9 853.1,802.8 852.4,805.3 854.1,807.2 851.7,808.2 851.3,810.7 849.1,809.4 846.8,810.7 846.4,808.2 844.0,807.2 845.7,805.3 845.0,802.8 847.6,802.9" fill="#f8c7a2" stroke="#8a735f" stroke-width="0.8"/>
<polygon points="879.5,795.7 881.0,797.8 883.6,797.7 882.9,800.2 884.6,802.1 882.2,803.1 881.8,805.6 879.5,804.4 877.3,805.6 876.8,803.1 874.5,802.1 876.2,800.2 875.5,797.7 878.0,797.8" fill="#f8c7a2" stroke="#8a735f" stroke-width="0.8"/>
<polygon points="915.1,800.8 916.6,802.9 919.1,802.8 918.4,805.3 920.1,807.2 917.8,808.2 917.3,810.7 915.1,809.4 912.8,810.7 912.4,808.2 910.0,807.2 911.7,805.3 911.0,802.8 913.6,802.9" fill="#f8c7a2" stroke="#8a735f" stroke-width="0.8"/>
<polygon points="940.5,795.7 942.0,797.8 944.5,797.7 943.8,800.2 945.5,802.1 943.2,803.1 942.7,805.6 940.5,804.4 938.2,805.6 937.8,803.1 935.4,802.1 937.1,800.2 936.4,797.7 939.0,797.8" fill="#f8c7a2" stroke="#8a735f" stroke-width="0.8"/>
<polygon points="930.3,815.5 931.8,817.7 934.4,817.5 933.7,820.0 935.4,821.9 933.0,822.9 932.6,825.4 930.3,824.2 928.1,825.4 927.6,822.9 925.2,821.9 927.0,820.0 926.2,817.5 928.8,817.7" fill="#f8c7a2" stroke="#8a735f" stroke-width="0.8"/>
<polygon points="742.4,833.1 743.9,835.2 746.5,835.0 745.8,837.5 747.5,839.4 745.1,840.4 744.7,842.9 742.4,841.7 740.2,842.9 739.7,840.4 737.4,839.4 739.1,837.5 738.4,835.0 740.9,835.2" fill="#f8c7a2" stroke="#8a735f" stroke-width="0.8"/>
<polygon points="793.2,828.0 794.7,830.1 797.3,829.9 796.5,832.4 798.3,834.3 795.9,835.3 795.5,837.9 793.2,836.6 790.9,837.9 790.5,835.3 788.1,834.3 789.9,832.4 789.1,829.9 791.7,830.1" fill="#f8c7a2" stroke="#8a735f" stroke-width="0.8"/>
<polygon points="854.1,825.4 855.6,827.6 858.2,827.4 857.5,829.9 859.2,831.8 856.8,832.8 856.4,835.3 854.1,834.1 851.9,835.3 851.5,832.8 849.1,831.8 850.8,829.9 850.1,827.4 852.7,827.6" fill="#f8c7a2" stroke="#8a735f" stroke-width="0.8"/>
<polygon points="889.7,840.7 891.2,842.8 893.8,842.6 893.0,845.1 894.8,847.0 892.4,848.0 891.9,850.6 889.7,849.3 887.4,850.6 887.0,848.0 884.6,847.0 886.3,845.1 885.6,842.6 888.2,842.8" fill="#f8c7a2" stroke="#8a735f" stroke-width="0.8"/>
<polygon points="808.4,846.0 809.9,848.1 812.5,848.0 811.8,850.4 813.5,852.4 811.1,853.4 810.7,855.9 808.4,854.6 806.2,855.9 805.8,853.4 803.4,852.4 805.1,850.4 804.4,848.0 806.9,848.1" fill="#f8c7a2" stroke="#8a735f" stroke-width="0.8"/>
<polygon points="833.8,846.0 835.3,848.1 837.9,848.0 837.2,850.4 838.9,852.4 836.5,853.4 836.1,855.9 833.8,854.6 831.6,855.9 831.1,853.4 828.8,852.4 830.5,850.4 829.8,848.0 832.3,848.1" fill="#f8c7a2" stroke="#8a735f" stroke-width="0.8"/>
<polygon points="788.1,853.4 789.6,855.5 792.2,855.3 791.5,857.8 793.2,859.7 790.8,860.7 790.4,863.3 788.1,862.0 785.9,863.3 785.4,860.7 783.1,859.7 784.8,857.8 784.1,855.3 786.6,855.5" fill="#f8c7a2" stroke="#8a735f" stroke-width="0.8"/>
<polygon points="904.9,863.8 906.4,865.9 909.0,865.7 908.3,868.2 910.0,870.1 907.6,871.1 907.2,873.7 904.9,872.4 902.7,873.7 902.2,871.1 899.9,870.1 901.6,868.2 900.9,865.7 903.4,865.9" fill="#f8c7a2" stroke="#8a735f" stroke-width="0.8"/>
<polygon points="844.0,871.4 845.5,873.5 848.0,873.4 847.3,875.8 849.1,877.8 846.7,878.7 846.2,881.3 844.0,880.0 841.7,881.3 841.3,878.7 838.9,877.8 840.6,875.8 839.9,873.4 842.5,873.5" fill="#f8c7a2" stroke="#8a735f" stroke-width="0.8"/>
<polygon points="783.0,876.5 784.5,878.6 787.1,878.4 786.4,880.9 788.1,882.8 785.7,883.8 785.3,886.4 783.0,885.1 780.8,886.4 780.4,883.8 778.0,882.8 779.7,880.9 779.0,878.4 781.6,878.6" fill="#f8c7a2" stroke="#8a735f" stroke-width="0.8"/>
<polygon points="752.6,881.6 754.1,883.7 756.6,883.5 755.9,886.0 757.6,887.9 755.3,888.9 754.8,891.4 752.6,890.2 750.3,891.4 749.9,888.9 747.5,887.9 749.2,886.0 748.5,883.5 751.1,883.7" fill="#f8c7a2" stroke="#8a735f" stroke-width="0.8"/>
<polygon points="889.7,881.6 891.2,883.7 893.8,883.5 893.0,886.0 894.8,887.9 892.4,888.9 891.9,891.4 889.7,890.2 887.4,891.4 887.0,888.9 884.6,887.9 886.3,886.0 885.6,883.5 888.2,883.7" fill="#f8c7a2" stroke="#8a735f" stroke-width="0.8"/>
<polygon points="915.1,881.6 916.6,883.7 919.1,883.5 918.4,886.0 920.1,887.9 917.8,888.9 917.3,891.4 915.1,890.2 912.8,891.4 912.4,888.9 910.0,887.9 911.7,886.0 911.0,883.5 913.6,883.7" fill="#f8c7a2" stroke="#8a735f" stroke-width="0.8"/>
<polygon points="940.5,876.5 942.0,878.6 944.5,878.4 943.8,880.9 945.5,882.8 943.2,883.8 942.7,886.4 940.5,885.1 938.2,886.4 937.8,883.8 935.4,882.8 937.1,880.9 936.4,878.4 939.0,878.6" fill="#f8c7a2" stroke="#8a735f" stroke-width="0.8"/>
<polygon points="803.4,894.8 804.8,896.9 807.4,896.7 806.7,899.2 808.4,901.1 806.0,902.1 805.6,904.6 803.4,903.4 801.1,904.6 800.7,902.1 798.3,901.1 800.0,899.2 799.3,896.7 801.9,896.9" fill="#f8c7a2" stroke="#8a735f" stroke-width="0.8"/>
<polygon points="828.8,899.3 830.2,901.4 832.8,901.3 832.1,903.8 833.8,905.7 831.4,906.7 831.0,909.2 828.8,908.0 826.5,909.2 826.1,906.7 823.7,905.7 825.4,903.8 824.7,901.3 827.3,901.4" fill="#f8c7a2" stroke="#8a735f" stroke-width="0.8"/>
<polygon points="813.5,914.6 815.0,916.7 817.6,916.5 816.9,919.0 818.6,920.9 816.2,921.9 815.8,924.5 813.5,923.2 811.3,924.5 810.8,921.9 808.4,920.9 810.2,919.0 809.5,916.5 812.0,916.7" fill="#f8c7a2" stroke="#8a735f" stroke-width="0.8"/>
<polygon points="747.5,919.4 749.0,921.5 751.6,921.3 750.8,923.8 752.6,925.7 750.2,926.7 749.8,929.3 747.5,928.0 745.2,929.3 744.8,926.7 742.4,925.7 744.2,923.8 743.4,921.3 746.0,921.5" fill="#f8c7a2" stroke="#8a735f" stroke-width="0.8"/>
<polygon points="778.0,924.5 779.5,926.6 782.0,926.4 781.3,928.9 783.0,930.8 780.7,931.8 780.2,934.4 778.0,933.1 775.7,934.4 775.3,931.8 772.9,930.8 774.6,928.9 773.9,926.4 776.5,926.6" fill="#f8c7a2" stroke="#8a735f" stroke-width="0.8"/>
<polygon points="844.0,929.8 845.5,931.9 848.0,931.8 847.3,934.2 849.1,936.2 846.7,937.1 846.2,939.7 844.0,938.4 841.7,939.7 841.3,937.1 838.9,936.2 840.6,934.2 839.9,931.8 842.5,931.9" fill="#f8c7a2" stroke="#8a735f" stroke-width="0.8"/>
<polygon points="889.7,922.2 891.2,924.3 893.8,924.1 893.0,926.6 894.8,928.5 892.4,929.5 891.9,932.1 889.7,930.8 887.4,932.1 887.0,929.5 884.6,928.5 886.3,926.6 885.6,924.1 888.2,924.3" fill="#f8c7a2" stroke="#8a735f" stroke-width="0.8"/>
<polygon points="940.5,917.1 942.0,919.2 944.5,919.1 943.8,921.5 945.5,923.5 943.2,924.4 942.7,927.0 940.5,925.7 938.2,927.0 937.8,924.4 935.4,923.5 937.1,921.5 936.4,919.1 939.0,919.2" fill="#f8c7a2" stroke="#8a735f" stroke-width="0.8"/>
<polygon points="788.1,955.2 789.6,957.3 792.2,957.1 791.5,959.6 793.2,961.5 790.8,962.5 790.4,965.1 788.1,963.8 785.9,965.1 785.4,962.5 783.1,961.5 784.8,959.6 784.1,957.1 786.6,957.3" fill="#f8c7a2" stroke="#8a735f" stroke-width="0.8"/>
<polygon points="823.7,955.2 825.2,957.3 827.7,957.1 827.0,959.6 828.7,961.5 826.4,962.5 825.9,965.1 823.7,963.8 821.4,965.1 821.0,962.5 818.6,961.5 820.3,959.6 819.6,957.1 822.2,957.3" fill="#f8c7a2" stroke="#8a735f" stroke-width="0.8"/>
<polygon points="849.1,957.7 850.6,959.8 853.1,959.7 852.4,962.2 854.1,964.1 851.7,965.1 851.3,967.6 849.1,966.4 846.8,967.6 846.4,965.1 844.0,964.1 845.7,962.2 845.0,959.7 847.6,959.8" fill="#f8c7a2" stroke="#8a735f" stroke-width="0.8"/>
<polygon points="899.8,957.7 901.3,959.8 903.9,959.7 903.2,962.2 904.9,964.1 902.5,965.1 902.1,967.6 899.8,966.4 897.6,967.6 897.2,965.1 894.8,964.1 896.5,962.2 895.8,959.7 898.4,959.8" fill="#f8c7a2" stroke="#8a735f" stroke-width="0.8"/>
<circle cx="748.8" cy="772.2" r="11.5" fill="#d9d9d9" stroke="#8c8c8c" stroke-width="0.7"/><circle cx="744.8" cy="766.6" r="2.1" fill="#ffffff" stroke="#8c8c8c" stroke-width="0.6"/><circle cx="751.9" cy="766.6" r="2.9" fill="#ffffff" stroke="#8c8c8c" stroke-width="0.6"/><circle cx="742.6" cy="772.2" r="2.9" fill="#ffffff" stroke="#8c8c8c" stroke-width="0.6"/><circle cx="748.9" cy="773.3" r="2.3" fill="#ffffff" stroke="#8c8c8c" stroke-width="0.6"/><circle cx="755.1" cy="773.3" r="2.0" fill="#ffffff" stroke="#8c8c8c" stroke-width="0.6"/><circle cx="744.8" cy="778.4" r="2.1" fill="#ffffff" stroke="#8c8c8c" stroke-width="0.6"/><circle cx="752.5" cy="779.3" r="2.1" fill="#ffffff" stroke="#8c8c8c" stroke-width="0.6"/>
<circle cx="774.2" cy="785.2" r="11.5" fill="#d9d9d9" stroke="#8c8c8c" stroke-width="0.7"/><circle cx="770.2" cy="779.6" r="2.1" fill="#ffffff" stroke="#8c8c8c" stroke-width="0.6"/><circle cx="777.3" cy="779.6" r="2.9" fill="#ffffff" stroke="#8c8c8c" stroke-width="0.6"/><circle cx="768.0" cy="785.2" r="2.9" fill="#ffffff" stroke="#8c8c8c" stroke-width="0.6"/><circle cx="774.3" cy="786.2" r="2.3" fill="#ffffff" stroke="#8c8c8c" stroke-width="0.6"/><circle cx="780.5" cy="786.2" r="2.0" fill="#ffffff" stroke="#8c8c8c" stroke-width="0.6"/><circle cx="770.2" cy="791.3" r="2.1" fill="#ffffff" stroke="#8c8c8c" stroke-width="0.6"/><circle cx="777.9" cy="792.3" r="2.1" fill="#ffffff" stroke="#8c8c8c" stroke-width="0.6"/>
<circle cx="824.9" cy="768.4" r="11.5" fill="#d9d9d9" stroke="#8c8c8c" stroke-width="0.7"/><circle cx="821.0" cy="762.8" r="2.1" fill="#ffffff" stroke="#8c8c8c" stroke-width="0.6"/><circle cx="828.0" cy="762.8" r="2.9" fill="#ffffff" stroke="#8c8c8c" stroke-width="0.6"/><circle cx="818.7" cy="768.4" r="2.9" fill="#ffffff" stroke="#8c8c8c" stroke-width="0.6"/><circle cx="825.0" cy="769.5" r="2.3" fill="#ffffff" stroke="#8c8c8c" stroke-width="0.6"/><circle cx="831.3" cy="769.5" r="2.0" fill="#ffffff" stroke="#8c8c8c" stroke-width="0.6"/><circle cx="821.0" cy="774.6" r="2.1" fill="#ffffff" stroke="#8c8c8c" stroke-width="0.6"/><circle cx="828.7" cy="775.5" r="2.1" fill="#ffffff" stroke="#8c8c8c" stroke-width="0.6"/>
<circle cx="832.6" cy="794.6" r="11.5" fill="#d9d9d9" stroke="#8c8c8c" stroke-width="0.7"/><circle cx="828.6" cy="789.0" r="2.1" fill="#ffffff" stroke="#8c8c8c" stroke-width="0.6"/><circle cx="835.7" cy="789.0" r="2.9" fill="#ffffff" stroke="#8c8c8c" stroke-width="0.6"/><circle cx="826.3" cy="794.6" r="2.9" fill="#ffffff" stroke="#8c8c8c" stroke-width="0.6"/><circle cx="832.7" cy="795.6" r="2.3" fill="#ffffff" stroke="#8c8c8c" stroke-width="0.6"/><circle cx="838.9" cy="795.6" r="2.0" fill="#ffffff" stroke="#8c8c8c" stroke-width="0.6"/><circle cx="828.6" cy="800.7" r="2.1" fill="#ffffff" stroke="#8c8c8c" stroke-width="0.6"/><circle cx="836.3" cy="801.7" r="2.1" fill="#ffffff" stroke="#8c8c8c" stroke-width="0.6"/>
<circle cx="915.1" cy="771.7" r="11.5" fill="#d9d9d9" stroke="#8c8c8c" stroke-width="0.7"/><circle cx="911.1" cy="766.1" r="2.1" fill="#ffffff" stroke="#8c8c8c" stroke-width="0.6"/><circle cx="918.2" cy="766.1" r="2.9" fill="#ffffff" stroke="#8c8c8c" stroke-width="0.6"/><circle cx="908.9" cy="771.7" r="2.9" fill="#ffffff" stroke="#8c8c8c" stroke-width="0.6"/><circle cx="915.2" cy="772.8" r="2.3" fill="#ffffff" stroke="#8c8c8c" stroke-width="0.6"/><circle cx="921.4" cy="772.8" r="2.0" fill="#ffffff" stroke="#8c8c8c" stroke-width="0.6"/><circle cx="911.1" cy="777.9" r="2.1" fill="#ffffff" stroke="#8c8c8c" stroke-width="0.6"/><circle cx="918.8" cy="778.8" r="2.1" fill="#ffffff" stroke="#8c8c8c" stroke-width="0.6"/>
<circle cx="766.5" cy="832.7" r="11.5" fill="#d9d9d9" stroke="#8c8c8c" stroke-width="0.7"/><circle cx="762.6" cy="827.1" r="2.1" fill="#ffffff" stroke="#8c8c8c" stroke-width="0.6"/><circle cx="769.6" cy="827.1" r="2.9" fill="#ffffff" stroke="#8c8c8c" stroke-width="0.6"/><circle cx="760.3" cy="832.7" r="2.9" fill="#ffffff" stroke="#8c8c8c" stroke-width="0.6"/><circle cx="766.6" cy="833.7" r="2.3" fill="#ffffff" stroke="#8c8c8c" stroke-width="0.6"/><circle cx="772.9" cy="833.7" r="2.0" fill="#ffffff" stroke="#8c8c8c" stroke-width="0.6"/><circle cx="762.6" cy="838.8" r="2.1" fill="#ffffff" stroke="#8c8c8c" stroke-width="0.6"/><circle cx="770.3" cy="839.8" r="2.1" fill="#ffffff" stroke="#8c8c8c" stroke-width="0.6"/>
<circle cx="824.9" cy="828.1" r="11.5" fill="#d9d9d9" stroke="#8c8c8c" stroke-width="0.7"/><circle cx="821.0" cy="822.5" r="2.1" fill="#ffffff" stroke="#8c8c8c" stroke-width="0.6"/><circle cx="828.0" cy="822.5" r="2.9" fill="#ffffff" stroke="#8c8c8c" stroke-width="0.6"/><circle cx="818.7" cy="828.1" r="2.9" fill="#ffffff" stroke="#8c8c8c" stroke-width="0.6"/><circle cx="825.0" cy="829.1" r="2.3" fill="#ffffff" stroke="#8c8c8c" stroke-width="0.6"/><circle cx="831.3" cy="829.1" r="2.0" fill="#ffffff" stroke="#8c8c8c" stroke-width="0.6"/><circle cx="821.0" cy="834.2" r="2.1" fill="#ffffff" stroke="#8c8c8c" stroke-width="0.6"/><circle cx="828.7" cy="835.2" r="2.1" fill="#ffffff" stroke="#8c8c8c" stroke-width="0.6"/>
<circle cx="880.5" cy="823.8" r="11.5" fill="#d9d9d9" stroke="#8c8c8c" stroke-width="0.7"/><circle cx="876.6" cy="818.2" r="2.1" fill="#ffffff" stroke="#8c8c8c" stroke-width="0.6"/><circle cx="883.7" cy="818.2" r="2.9" fill="#ffffff" stroke="#8c8c8c" stroke-width="0.6"/><circle cx="874.3" cy="823.8" r="2.9" fill="#ffffff" stroke="#8c8c8c" stroke-width="0.6"/><circle cx="880.6" cy="824.8" r="2.3" fill="#ffffff" stroke="#8c8c8c" stroke-width="0.6"/><circle cx="886.9" cy="824.8" r="2.0" fill="#ffffff" stroke="#8c8c8c" stroke-width="0.6"/><circle cx="876.6" cy="829.9" r="2.1" fill="#ffffff" stroke="#8c8c8c" stroke-width="0.6"/><circle cx="884.3" cy="830.9" r="2.1" fill="#ffffff" stroke="#8c8c8c" stroke-width="0.6"/>
<circle cx="922.4" cy="840.8" r="11.5" fill="#d9d9d9" stroke="#8c8c8c" stroke-width="0.7"/><circle cx="918.5" cy="835.2" r="2.1" fill="#ffffff" stroke="#8c8c8c" stroke-width="0.6"/><circle cx="925.5" cy="835.2" r="2.9" fill="#ffffff" stroke="#8c8c8c" stroke-width="0.6"/><circle cx="916.2" cy="840.8" r="2.9" fill="#ffffff" stroke="#8c8c8c" stroke-width="0.6"/><circle cx="922.5" cy="841.8" r="2.3" fill="#ffffff" stroke="#8c8c8c" stroke-width="0.6"/><circle cx="928.8" cy="841.8" r="2.0" fill="#ffffff" stroke="#8c8c8c" stroke-width="0.6"/><circle cx="918.5" cy="846.9" r="2.1" fill="#ffffff" stroke="#8c8c8c" stroke-width="0.6"/><circle cx="926.2" cy="847.9" r="2.1" fill="#ffffff" stroke="#8c8c8c" stroke-width="0.6"/>
<circle cx="751.3" cy="862.6" r="11.5" fill="#d9d9d9" stroke="#8c8c8c" stroke-width="0.7"/><circle cx="747.3" cy="857.0" r="2.1" fill="#ffffff" stroke="#8c8c8c" stroke-width="0.6"/><circle cx="754.4" cy="857.0" r="2.9" fill="#ffffff" stroke="#8c8c8c" stroke-width="0.6"/><circle cx="745.1" cy="862.6" r="2.9" fill="#ffffff" stroke="#8c8c8c" stroke-width="0.6"/><circle cx="751.4" cy="863.7" r="2.3" fill="#ffffff" stroke="#8c8c8c" stroke-width="0.6"/><circle cx="757.7" cy="863.7" r="2.0" fill="#ffffff" stroke="#8c8c8c" stroke-width="0.6"/><circle cx="747.3" cy="868.8" r="2.1" fill="#ffffff" stroke="#8c8c8c" stroke-width="0.6"/><circle cx="755.1" cy="869.7" r="2.1" fill="#ffffff" stroke="#8c8c8c" stroke-width="0.6"/>
<circle cx="855.4" cy="852.2" r="11.5" fill="#d9d9d9" stroke="#8c8c8c" stroke-width="0.7"/><circle cx="851.4" cy="846.6" r="2.1" fill="#ffffff" stroke="#8c8c8c" stroke-width="0.6"/><circle cx="858.5" cy="846.6" r="2.9" fill="#ffffff" stroke="#8c8c8c" stroke-width="0.6"/><circle cx="849.2" cy="852.2" r="2.9" fill="#ffffff" stroke="#8c8c8c" stroke-width="0.6"/><circle cx="855.5" cy="853.3" r="2.3" fill="#ffffff" stroke="#8c8c8c" stroke-width="0.6"/><circle cx="861.8" cy="853.3" r="2.0" fill="#ffffff" stroke="#8c8c8c" stroke-width="0.6"/><circle cx="851.4" cy="858.3" r="2.1" fill="#ffffff" stroke="#8c8c8c" stroke-width="0.6"/><circle cx="859.2" cy="859.3" r="2.1" fill="#ffffff" stroke="#8c8c8c" stroke-width="0.6"/>
<circle cx="804.6" cy="873.8" r="11.5" fill="#d9d9d9" stroke="#8c8c8c" stroke-width="0.7"/><circle cx="800.6" cy="868.2" r="2.1" fill="#ffffff" stroke="#8c8c8c" stroke-width="0.6"/><circle cx="807.7" cy="868.2" r="2.9" fill="#ffffff" stroke="#8c8c8c" stroke-width="0.6"/><circle cx="798.4" cy="873.8" r="2.9" fill="#ffffff" stroke="#8c8c8c" stroke-width="0.6"/><circle cx="804.7" cy="874.8" r="2.3" fill="#ffffff" stroke="#8c8c8c" stroke-width="0.6"/><circle cx="811.0" cy="874.8" r="2.0" fill="#ffffff" stroke="#8c8c8c" stroke-width="0.6"/><circle cx="800.6" cy="879.9" r="2.1" fill="#ffffff" stroke="#8c8c8c" stroke-width="0.6"/><circle cx="808.4" cy="880.9" r="2.1" fill="#ffffff" stroke="#8c8c8c" stroke-width="0.6"/>
<circle cx="870.4" cy="881.4" r="11.5" fill="#d9d9d9" stroke="#8c8c8c" stroke-width="0.7"/><circle cx="866.4" cy="875.8" r="2.1" fill="#ffffff" stroke="#8c8c8c" stroke-width="0.6"/><circle cx="873.5" cy="875.8" r="2.9" fill="#ffffff" stroke="#8c8c8c" stroke-width="0.6"/><circle cx="864.2" cy="881.4" r="2.9" fill="#ffffff" stroke="#8c8c8c" stroke-width="0.6"/><circle cx="870.5" cy="882.4" r="2.3" fill="#ffffff" stroke="#8c8c8c" stroke-width="0.6"/><circle cx="876.7" cy="882.4" r="2.0" fill="#ffffff" stroke="#8c8c8c" stroke-width="0.6"/><circle cx="866.4" cy="887.5" r="2.1" fill="#ffffff" stroke="#8c8c8c" stroke-width="0.6"/><circle cx="874.2" cy="888.5" r="2.1" fill="#ffffff" stroke="#8c8c8c" stroke-width="0.6"/>
<circle cx="747.5" cy="905.5" r="11.5" fill="#d9d9d9" stroke="#8c8c8c" stroke-width="0.7"/><circle cx="743.5" cy="899.9" r="2.1" fill="#ffffff" stroke="#8c8c8c" stroke-width="0.6"/><circle cx="750.6" cy="899.9" r="2.9" fill="#ffffff" stroke="#8c8c8c" stroke-width="0.6"/><circle cx="741.3" cy="905.5" r="2.9" fill="#ffffff" stroke="#8c8c8c" stroke-width="0.6"/><circle cx="747.6" cy="906.6" r="2.3" fill="#ffffff" stroke="#8c8c8c" stroke-width="0.6"/><circle cx="753.8" cy="906.6" r="2.0" fill="#ffffff" stroke="#8c8c8c" stroke-width="0.6"/><circle cx="743.5" cy="911.7" r="2.1" fill="#ffffff" stroke="#8c8c8c" stroke-width="0.6"/><circle cx="751.3" cy="912.6" r="2.1" fill="#ffffff" stroke="#8c8c8c" stroke-width="0.6"/>
<circle cx="776.7" cy="905.5" r="11.5" fill="#d9d9d9" stroke="#8c8c8c" stroke-width="0.7"/><circle cx="772.7" cy="899.9" r="2.1" fill="#ffffff" stroke="#8c8c8c" stroke-width="0.6"/><circle cx="779.8" cy="899.9" r="2.9" fill="#ffffff" stroke="#8c8c8c" stroke-width="0.6"/><circle cx="770.5" cy="905.5" r="2.9" fill="#ffffff" stroke="#8c8c8c" stroke-width="0.6"/><circle cx="776.8" cy="906.6" r="2.3" fill="#ffffff" stroke="#8c8c8c" stroke-width="0.6"/><circle cx="783.0" cy="906.6" r="2.0" fill="#ffffff" stroke="#8c8c8c" stroke-width="0.6"/><circle cx="772.7" cy="911.7" r="2.1" fill="#ffffff" stroke="#8c8c8c" stroke-width="0.6"/><circle cx="780.5" cy="912.6" r="2.1" fill="#ffffff" stroke="#8c8c8c" stroke-width="0.6"/>
<circle cx="855.4" cy="910.6" r="11.5" fill="#d9d9d9" stroke="#8c8c8c" stroke-width="0.7"/><circle cx="851.4" cy="905.0" r="2.1" fill="#ffffff" stroke="#8c8c8c" stroke-width="0.6"/><circle cx="858.5" cy="905.0" r="2.9" fill="#ffffff" stroke="#8c8c8c" stroke-width="0.6"/><circle cx="849.2" cy="910.6" r="2.9" fill="#ffffff" stroke="#8c8c8c" stroke-width="0.6"/><circle cx="855.5" cy="911.6" r="2.3" fill="#ffffff" stroke="#8c8c8c" stroke-width="0.6"/><circle cx="861.8" cy="911.6" r="2.0" fill="#ffffff" stroke="#8c8c8c" stroke-width="0.6"/><circle cx="851.4" cy="916.7" r="2.1" fill="#ffffff" stroke="#8c8c8c" stroke-width="0.6"/><circle cx="859.2" cy="917.7" r="2.1" fill="#ffffff" stroke="#8c8c8c" stroke-width="0.6"/>
<circle cx="889.7" cy="908.1" r="11.5" fill="#d9d9d9" stroke="#8c8c8c" stroke-width="0.7"/><circle cx="885.7" cy="902.5" r="2.1" fill="#ffffff" stroke="#8c8c8c" stroke-width="0.6"/><circle cx="892.8" cy="902.5" r="2.9" fill="#ffffff" stroke="#8c8c8c" stroke-width="0.6"/><circle cx="883.5" cy="908.1" r="2.9" fill="#ffffff" stroke="#8c8c8c" stroke-width="0.6"/><circle cx="889.8" cy="909.1" r="2.3" fill="#ffffff" stroke="#8c8c8c" stroke-width="0.6"/><circle cx="896.0" cy="909.1" r="2.0" fill="#ffffff" stroke="#8c8c8c" stroke-width="0.6"/><circle cx="885.7" cy="914.2" r="2.1" fill="#ffffff" stroke="#8c8c8c" stroke-width="0.6"/><circle cx="893.4" cy="915.2" r="2.1" fill="#ffffff" stroke="#8c8c8c" stroke-width="0.6"/>
<circle cx="932.6" cy="902.5" r="11.5" fill="#d9d9d9" stroke="#8c8c8c" stroke-width="0.7"/><circle cx="928.6" cy="896.9" r="2.1" fill="#ffffff" stroke="#8c8c8c" stroke-width="0.6"/><circle cx="935.7" cy="896.9" r="2.9" fill="#ffffff" stroke="#8c8c8c" stroke-width="0.6"/><circle cx="926.4" cy="902.5" r="2.9" fill="#ffffff" stroke="#8c8c8c" stroke-width="0.6"/><circle cx="932.7" cy="903.5" r="2.3" fill="#ffffff" stroke="#8c8c8c" stroke-width="0.6"/><circle cx="938.9" cy="903.5" r="2.0" fill="#ffffff" stroke="#8c8c8c" stroke-width="0.6"/><circle cx="928.6" cy="908.6" r="2.1" fill="#ffffff" stroke="#8c8c8c" stroke-width="0.6"/><circle cx="936.4" cy="909.6" r="2.1" fill="#ffffff" stroke="#8c8c8c" stroke-width="0.6"/>
<circle cx="916.3" cy="928.7" r="11.5" fill="#d9d9d9" stroke="#8c8c8c" stroke-width="0.7"/><circle cx="912.4" cy="923.0" r="2.1" fill="#ffffff" stroke="#8c8c8c" stroke-width="0.6"/><circle cx="919.5" cy="923.0" r="2.9" fill="#ffffff" stroke="#8c8c8c" stroke-width="0.6"/><circle cx="910.1" cy="928.7" r="2.9" fill="#ffffff" stroke="#8c8c8c" stroke-width="0.6"/><circle cx="916.4" cy="929.7" r="2.3" fill="#ffffff" stroke="#8c8c8c" stroke-width="0.6"/><circle cx="922.7" cy="929.7" r="2.0" fill="#ffffff" stroke="#8c8c8c" stroke-width="0.6"/><circle cx="912.4" cy="934.8" r="2.1" fill="#ffffff" stroke="#8c8c8c" stroke-width="0.6"/><circle cx="920.1" cy="935.7" r="2.1" fill="#ffffff" stroke="#8c8c8c" stroke-width="0.6"/>
<circle cx="758.9" cy="948.7" r="11.5" fill="#d9d9d9" stroke="#8c8c8c" stroke-width="0.7"/><circle cx="754.9" cy="943.1" r="2.1" fill="#ffffff" stroke="#8c8c8c" stroke-width="0.6"/><circle cx="762.0" cy="943.1" r="2.9" fill="#ffffff" stroke="#8c8c8c" stroke-width="0.6"/><circle cx="752.7" cy="948.7" r="2.9" fill="#ffffff" stroke="#8c8c8c" stroke-width="0.6"/><circle cx="759.0" cy="949.7" r="2.3" fill="#ffffff" stroke="#8c8c8c" stroke-width="0.6"/><circle cx="765.3" cy="949.7" r="2.0" fill="#ffffff" stroke="#8c8c8c" stroke-width="0.6"/><circle cx="754.9" cy="954.8" r="2.1" fill="#ffffff" stroke="#8c8c8c" stroke-width="0.6"/><circle cx="762.7" cy="955.8" r="2.1" fill="#ffffff" stroke="#8c8c8c" stroke-width="0.6"/>
<circle cx="808.2" cy="941.1" r="11.5" fill="#d9d9d9" stroke="#8c8c8c" stroke-width="0.7"/><circle cx="804.2" cy="935.5" r="2.1" fill="#ffffff" stroke="#8c8c8c" stroke-width="0.6"/><circle cx="811.3" cy="935.5" r="2.9" fill="#ffffff" stroke="#8c8c8c" stroke-width="0.6"/><circle cx="802.0" cy="941.1" r="2.9" fill="#ffffff" stroke="#8c8c8c" stroke-width="0.6"/><circle cx="808.3" cy="942.1" r="2.3" fill="#ffffff" stroke="#8c8c8c" stroke-width="0.6"/><circle cx="814.5" cy="942.1" r="2.0" fill="#ffffff" stroke="#8c8c8c" stroke-width="0.6"/><circle cx="804.2" cy="947.2" r="2.1" fill="#ffffff" stroke="#8c8c8c" stroke-width="0.6"/><circle cx="811.9" cy="948.2" r="2.1" fill="#ffffff" stroke="#8c8c8c" stroke-width="0.6"/>
<circle cx="866.8" cy="941.9" r="11.5" fill="#d9d9d9" stroke="#8c8c8c" stroke-width="0.7"/><circle cx="862.8" cy="936.2" r="2.1" fill="#ffffff" stroke="#8c8c8c" stroke-width="0.6"/><circle cx="869.9" cy="936.2" r="2.9" fill="#ffffff" stroke="#8c8c8c" stroke-width="0.6"/><circle cx="860.6" cy="941.9" r="2.9" fill="#ffffff" stroke="#8c8c8c" stroke-width="0.6"/><circle cx="866.9" cy="942.9" r="2.3" fill="#ffffff" stroke="#8c8c8c" stroke-width="0.6"/><circle cx="873.2" cy="942.9" r="2.0" fill="#ffffff" stroke="#8c8c8c" stroke-width="0.6"/><circle cx="862.8" cy="948.0" r="2.1" fill="#ffffff" stroke="#8c8c8c" stroke-width="0.6"/><circle cx="870.6" cy="949.0" r="2.1" fill="#ffffff" stroke="#8c8c8c" stroke-width="0.6"/>
<circle cx="939.7" cy="953.8" r="11.5" fill="#d9d9d9" stroke="#8c8c8c" stroke-width="0.7"/><circle cx="935.7" cy="948.2" r="2.1" fill="#ffffff" stroke="#8c8c8c" stroke-width="0.6"/><circle cx="942.8" cy="948.2" r="2.9" fill="#ffffff" stroke="#8c8c8c" stroke-width="0.6"/><circle cx="933.5" cy="953.8" r="2.9" fill="#ffffff" stroke="#8c8c8c" stroke-width="0.6"/><circle cx="939.8" cy="954.8" r="2.3" fill="#ffffff" stroke="#8c8c8c" stroke-width="0.6"/><circle cx="946.1" cy="954.8" r="2.0" fill="#ffffff" stroke="#8c8c8c" stroke-width="0.6"/><circle cx="935.7" cy="959.9" r="2.1" fill="#ffffff" stroke="#8c8c8c" stroke-width="0.6"/><circle cx="943.5" cy="960.9" r="2.1" fill="#ffffff" stroke="#8c8c8c" stroke-width="0.6"/>
<rect x="44.0" y="1111.4" width="224.9" height="217.0" fill="#f2f2f2" stroke="#bdbdbd" stroke-width="1.4"/>
<circle cx="88.4" cy="1131.7" r="5.2" fill="#ffffff" stroke="#a3a3a3" stroke-width="1.0"/>
<circle cx="122.2" cy="1127.4" r="5.2" fill="#ffffff" stroke="#a3a3a3" stroke-width="1.0"/>
<circle cx="166.6" cy="1126.2" r="5.2" fill="#ffffff" stroke="#a3a3a3" stroke-width="1.0"/>
<circle cx="200.6" cy="1121.6" r="5.2" fill="#ffffff" stroke="#a3a3a3" stroke-width="1.0"/>
<circle cx="88.4" cy="1147.5" r="5.2" fill="#ffffff" stroke="#a3a3a3" stroke-width="1.0"/>
<circle cx="102.9" cy="1147.0" r="5.2" fill="#ffffff" stroke="#a3a3a3" stroke-width="1.0"/>
<circle cx="117.1" cy="1152.8" r="5.2" fill="#ffffff" stroke="#a3a3a3" stroke-width="1.0"/>
<circle cx="135.9" cy="1147.5" r="5.2" fill="#ffffff" stroke="#a3a3a3" stroke-width="1.0"/>
<circle cx="176.5" cy="1147.5" r="5.2" fill="#ffffff" stroke="#a3a3a3" stroke-width="1.0"/>
<circle cx="191.7" cy="1147.0" r="5.2" fill="#ffffff" stroke="#a3a3a3" stroke-width="1.0"/>
<circle cx="210.8" cy="1147.0" r="5.2" fill="#ffffff" stroke="#a3a3a3" stroke-width="1.0"/>
<circle cx="228.8" cy="1152.1" r="5.2" fill="#ffffff" stroke="#a3a3a3" stroke-width="1.0"/>
<circle cx="245.3" cy="1147.0" r="5.2" fill="#ffffff" stroke="#a3a3a3" stroke-width="1.0"/>
<circle cx="176.5" cy="1162.7" r="5.2" fill="#ffffff" stroke="#a3a3a3" stroke-width="1.0"/>
<circle cx="206.0" cy="1162.7" r="5.2" fill="#ffffff" stroke="#a3a3a3" stroke-width="1.0"/>
<circle cx="71.4" cy="1177.4" r="5.2" fill="#ffffff" stroke="#a3a3a3" stroke-width="1.0"/>
<circle cx="97.8" cy="1172.9" r="5.2" fill="#ffffff" stroke="#a3a3a3" stroke-width="1.0"/>
<circle cx="112.5" cy="1172.9" r="5.2" fill="#ffffff" stroke="#a3a3a3" stroke-width="1.0"/>
<circle cx="156.2" cy="1177.4" r="5.2" fill="#ffffff" stroke="#a3a3a3" stroke-width="1.0"/>
<circle cx="215.9" cy="1177.4" r="5.2" fill="#ffffff" stroke="#a3a3a3" stroke-width="1.0"/>
<circle cx="252.7" cy="1172.4" r="5.2" fill="#ffffff" stroke="#a3a3a3" stroke-width="1.0"/>
<circle cx="252.7" cy="1184.6" r="5.2" fill="#ffffff" stroke="#a3a3a3" stroke-width="1.0"/>
<circle cx="88.4" cy="1184.6" r="5.2" fill="#ffffff" stroke="#a3a3a3" stroke-width="1.0"/>
<circle cx="76.5" cy="1194.7" r="5.2" fill="#ffffff" stroke="#a3a3a3" stroke-width="1.0"/>
<circle cx="93.5" cy="1199.8" r="5.2" fill="#ffffff" stroke="#a3a3a3" stroke-width="1.0"/>
<circle cx="117.1" cy="1199.8" r="5.2" fill="#ffffff" stroke="#a3a3a3" stroke-width="1.0"/>
<circle cx="155.2" cy="1197.2" r="5.2" fill="#ffffff" stroke="#a3a3a3" stroke-width="1.0"/>
<circle cx="182.3" cy="1194.7" r="5.2" fill="#ffffff" stroke="#a3a3a3" stroke-width="1.0"/>
<circle cx="220.9" cy="1199.8" r="5.2" fill="#ffffff" stroke="#a3a3a3" stroke-width="1.0"/>
<circle cx="88.4" cy="1212.5" r="5.2" fill="#ffffff" stroke="#a3a3a3" stroke-width="1.0"/>
<circle cx="135.9" cy="1215.0" r="5.2" fill="#ffffff" stroke="#a3a3a3" stroke-width="1.0"/>
<circle cx="171.4" cy="1215.0" r="5.2" fill="#ffffff" stroke="#a3a3a3" stroke-width="1.0"/>
<circle cx="196.8" cy="1215.0" r="5.2" fill="#ffffff" stroke="#a3a3a3" stroke-width="1.0"/>
<circle cx="215.9" cy="1215.0" r="5.2" fill="#ffffff" stroke="#a3a3a3" stroke-width="1.0"/>
<circle cx="262.8" cy="1215.0" r="5.2" fill="#ffffff" stroke="#a3a3a3" stroke-width="1.0"/>
<circle cx="107.4" cy="1227.7" r="5.2" fill="#ffffff" stroke="#a3a3a3" stroke-width="1.0"/>
<circle cx="167.1" cy="1227.7" r="5.2" fill="#ffffff" stroke="#a3a3a3" stroke-width="1.0"/>
<circle cx="200.6" cy="1230.3" r="5.2" fill="#ffffff" stroke="#a3a3a3" stroke-width="1.0"/>
<circle cx="230.6" cy="1222.6" r="5.2" fill="#ffffff" stroke="#a3a3a3" stroke-width="1.0"/>
<circle cx="235.2" cy="1235.3" r="5.2" fill="#ffffff" stroke="#a3a3a3" stroke-width="1.0"/>
<circle cx="84.1" cy="1245.5" r="5.2" fill="#ffffff" stroke="#a3a3a3" stroke-width="1.0"/>
<circle cx="112.5" cy="1245.5" r="5.2" fill="#ffffff" stroke="#a3a3a3" stroke-width="1.0"/>
<circle cx="145.0" cy="1242.2" r="5.2" fill="#ffffff" stroke="#a3a3a3" stroke-width="1.0"/>
<circle cx="132.3" cy="1250.6" r="5.2" fill="#ffffff" stroke="#a3a3a3" stroke-width="1.0"/>
<circle cx="162.5" cy="1250.6" r="5.2" fill="#ffffff" stroke="#a3a3a3" stroke-width="1.0"/>
<circle cx="185.6" cy="1250.6" r="5.2" fill="#ffffff" stroke="#a3a3a3" stroke-width="1.0"/>
<circle cx="215.4" cy="1247.3" r="5.2" fill="#ffffff" stroke="#a3a3a3" stroke-width="1.0"/>
<circle cx="262.8" cy="1250.6" r="5.2" fill="#ffffff" stroke="#a3a3a3" stroke-width="1.0"/>
<circle cx="68.1" cy="1254.9" r="5.2" fill="#ffffff" stroke="#a3a3a3" stroke-width="1.0"/>
<circle cx="93.0" cy="1265.5" r="5.2" fill="#ffffff" stroke="#a3a3a3" stroke-width="1.0"/>
<circle cx="127.2" cy="1265.0" r="5.2" fill="#ffffff" stroke="#a3a3a3" stroke-width="1.0"/>
<circle cx="152.6" cy="1265.0" r="5.2" fill="#ffffff" stroke="#a3a3a3" stroke-width="1.0"/>
<circle cx="210.3" cy="1259.5" r="5.2" fill="#ffffff" stroke="#a3a3a3" stroke-width="1.0"/>
<circle cx="230.6" cy="1259.5" r="5.2" fill="#ffffff" stroke="#a3a3a3" stroke-width="1.0"/>
<circle cx="245.3" cy="1268.8" r="5.2" fill="#ffffff" stroke="#a3a3a3" stroke-width="1.0"/>
<circle cx="262.8" cy="1265.0" r="5.2" fill="#ffffff" stroke="#a3a3a3" stroke-width="1.0"/>
<circle cx="58.7" cy="1279.8" r="5.2" fill="#ffffff" stroke="#a3a3a3" stroke-width="1.0"/>
<circle cx="79.0" cy="1279.8" r="5.2" fill="#ffffff" stroke="#a3a3a3" stroke-width="1.0"/>
<circle cx="137.4" cy="1284.8" r="5.2" fill="#ffffff" stroke="#a3a3a3" stroke-width="1.0"/>
<circle cx="167.9" cy="1282.3" r="5.2" fill="#ffffff" stroke="#a3a3a3" stroke-width="1.0"/>
<circle cx="220.4" cy="1282.8" r="5.2" fill="#ffffff" stroke="#a3a3a3" stroke-width="1.0"/>
<circle cx="235.2" cy="1287.9" r="5.2" fill="#ffffff" stroke="#a3a3a3" stroke-width="1.0"/>
<circle cx="262.8" cy="1292.2" r="5.2" fill="#ffffff" stroke="#a3a3a3" stroke-width="1.0"/>
<circle cx="53.6" cy="1300.1" r="5.2" fill="#ffffff" stroke="#a3a3a3" stroke-width="1.0"/>
<circle cx="68.1" cy="1305.2" r="5.2" fill="#ffffff" stroke="#a3a3a3" stroke-width="1.0"/>
<circle cx="84.1" cy="1295.0" r="5.2" fill="#ffffff" stroke="#a3a3a3" stroke-width="1.0"/>
<circle cx="97.8" cy="1300.1" r="5.2" fill="#ffffff" stroke="#a3a3a3" stroke-width="1.0"/>
<circle cx="151.9" cy="1305.2" r="5.2" fill="#ffffff" stroke="#a3a3a3" stroke-width="1.0"/>
<circle cx="216.1" cy="1307.7" r="5.2" fill="#ffffff" stroke="#a3a3a3" stroke-width="1.0"/>
<circle cx="230.6" cy="1307.7" r="5.2" fill="#ffffff" stroke="#a3a3a3" stroke-width="1.0"/>
<circle cx="89.2" cy="1320.1" r="5.2" fill="#ffffff" stroke="#a3a3a3" stroke-width="1.0"/>
<circle cx="122.2" cy="1315.3" r="5.2" fill="#ffffff" stroke="#a3a3a3" stroke-width="1.0"/>
<circle cx="146.8" cy="1320.1" r="5.2" fill="#ffffff" stroke="#a3a3a3" stroke-width="1.0"/>
<circle cx="195.8" cy="1317.6" r="5.2" fill="#ffffff" stroke="#a3a3a3" stroke-width="1.0"/>
<polygon points="53.6,1112.8 55.0,1114.8 57.5,1114.7 56.8,1117.0 58.5,1118.9 56.2,1119.8 55.8,1122.3 53.6,1121.1 51.4,1122.3 51.0,1119.8 48.7,1118.9 50.4,1117.0 49.7,1114.7 52.2,1114.8" fill="#f8c7a2" stroke="#8a735f" stroke-width="0.8"/>
<polygon points="78.2,1112.8 79.7,1114.8 82.2,1114.7 81.5,1117.0 83.1,1118.9 80.8,1119.8 80.4,1122.3 78.2,1121.1 76.1,1122.3 75.7,1119.8 73.4,1118.9 75.0,1117.0 74.3,1114.7 76.8,1114.8" fill="#f8c7a2" stroke="#8a735f" stroke-width="0.8"/>
<polygon points="102.9,1112.8 104.3,1114.8 106.8,1114.7 106.1,1117.0 107.7,1118.9 105.5,1119.8 105.0,1122.3 102.9,1121.1 100.7,1122.3 100.3,1119.8 98.0,1118.9 99.7,1117.0 99.0,1114.7 101.4,1114.8" fill="#f8c7a2" stroke="#8a735f" stroke-width="0.8"/>
<polygon points="135.9,1117.3 137.3,1119.4 139.8,1119.2 139.1,1121.6 140.8,1123.5 138.5,1124.4 138.0,1126.8 135.9,1125.6 133.7,1126.8 133.3,1124.4 131.0,1123.5 132.7,1121.6 132.0,1119.2 134.4,1119.4" fill="#f8c7a2" stroke="#8a735f" stroke-width="0.8"/>
<polygon points="152.6,1117.3 154.1,1119.4 156.5,1119.2 155.9,1121.6 157.5,1123.5 155.2,1124.4 154.8,1126.8 152.6,1125.6 150.5,1126.8 150.1,1124.4 147.8,1123.5 149.4,1121.6 148.7,1119.2 151.2,1119.4" fill="#f8c7a2" stroke="#8a735f" stroke-width="0.8"/>
<polygon points="186.2,1112.8 187.6,1114.8 190.1,1114.7 189.4,1117.0 191.0,1118.9 188.7,1119.8 188.3,1122.3 186.2,1121.1 184.0,1122.3 183.6,1119.8 181.3,1118.9 182.9,1117.0 182.2,1114.7 184.7,1114.8" fill="#f8c7a2" stroke="#8a735f" stroke-width="0.8"/>
<polygon points="215.9,1112.8 217.3,1114.8 219.8,1114.7 219.1,1117.0 220.7,1118.9 218.4,1119.8 218.0,1122.3 215.9,1121.1 213.7,1122.3 213.3,1119.8 211.0,1118.9 212.6,1117.0 212.0,1114.7 214.4,1114.8" fill="#f8c7a2" stroke="#8a735f" stroke-width="0.8"/>
<polygon points="245.3,1116.6 246.7,1118.6 249.2,1118.5 248.5,1120.8 250.2,1122.7 247.9,1123.6 247.5,1126.1 245.3,1124.9 243.1,1126.1 242.7,1123.6 240.4,1122.7 242.1,1120.8 241.4,1118.5 243.9,1118.6" fill="#f8c7a2" stroke="#8a735f" stroke-width="0.8"/>
<polygon points="258.0,1116.6 259.4,1118.6 261.9,1118.5 261.2,1120.8 262.9,1122.7 260.6,1123.6 260.2,1126.1 258.0,1124.9 255.8,1126.1 255.4,1123.6 253.1,1122.7 254.8,1120.8 254.1,1118.5 256.6,1118.6" fill="#f8c7a2" stroke="#8a735f" stroke-width="0.8"/>
<polygon points="107.4,1126.7 108.9,1128.8 111.4,1128.6 110.7,1131.0 112.3,1132.9 110.0,1133.8 109.6,1136.2 107.4,1135.0 105.3,1136.2 104.9,1133.8 102.6,1132.9 104.2,1131.0 103.5,1128.6 106.0,1128.8" fill="#f8c7a2" stroke="#8a735f" stroke-width="0.8"/>
<polygon points="122.2,1134.4 123.6,1136.4 126.1,1136.2 125.4,1138.6 127.0,1140.5 124.7,1141.4 124.3,1143.9 122.2,1142.7 120.0,1143.9 119.6,1141.4 117.3,1140.5 119.0,1138.6 118.3,1136.2 120.7,1136.4" fill="#f8c7a2" stroke="#8a735f" stroke-width="0.8"/>
<polygon points="181.1,1128.0 182.5,1130.0 185.0,1129.9 184.3,1132.3 185.9,1134.1 183.7,1135.1 183.2,1137.5 181.1,1136.3 178.9,1137.5 178.5,1135.1 176.2,1134.1 177.9,1132.3 177.2,1129.9 179.6,1130.0" fill="#f8c7a2" stroke="#8a735f" stroke-width="0.8"/>
<polygon points="200.6,1128.0 202.1,1130.0 204.5,1129.9 203.8,1132.3 205.5,1134.1 203.2,1135.1 202.8,1137.5 200.6,1136.3 198.5,1137.5 198.0,1135.1 195.8,1134.1 197.4,1132.3 196.7,1129.9 199.2,1130.0" fill="#f8c7a2" stroke="#8a735f" stroke-width="0.8"/>
<polygon points="258.0,1136.9 259.4,1138.9 261.9,1138.8 261.2,1141.2 262.9,1143.0 260.6,1144.0 260.2,1146.4 258.0,1145.2 255.8,1146.4 255.4,1144.0 253.1,1143.0 254.8,1141.2 254.1,1138.8 256.6,1138.9" fill="#f8c7a2" stroke="#8a735f" stroke-width="0.8"/>
<polygon points="63.0,1147.8 64.4,1149.8 66.9,1149.7 66.2,1152.1 67.9,1153.9 65.6,1154.9 65.2,1157.3 63.0,1156.1 60.8,1157.3 60.4,1154.9 58.1,1153.9 59.8,1152.1 59.1,1149.7 61.6,1149.8" fill="#f8c7a2" stroke="#8a735f" stroke-width="0.8"/>
<polygon points="78.2,1157.7 79.7,1159.7 82.2,1159.6 81.5,1162.0 83.1,1163.8 80.8,1164.8 80.4,1167.2 78.2,1166.0 76.1,1167.2 75.7,1164.8 73.4,1163.8 75.0,1162.0 74.3,1159.6 76.8,1159.7" fill="#f8c7a2" stroke="#8a735f" stroke-width="0.8"/>
<polygon points="102.9,1152.9 104.3,1154.9 106.8,1154.8 106.1,1157.2 107.7,1159.0 105.5,1159.9 105.0,1162.4 102.9,1161.2 100.7,1162.4 100.3,1159.9 98.0,1159.0 99.7,1157.2 99.0,1154.8 101.4,1154.9" fill="#f8c7a2" stroke="#8a735f" stroke-width="0.8"/>
<polygon points="127.2,1157.7 128.7,1159.7 131.2,1159.6 130.5,1162.0 132.1,1163.8 129.8,1164.8 129.4,1167.2 127.2,1166.0 125.1,1167.2 124.7,1164.8 122.4,1163.8 124.0,1162.0 123.3,1159.6 125.8,1159.7" fill="#f8c7a2" stroke="#8a735f" stroke-width="0.8"/>
<polygon points="145.0,1157.7 146.5,1159.7 148.9,1159.6 148.2,1162.0 149.9,1163.8 147.6,1164.8 147.2,1167.2 145.0,1166.0 142.9,1167.2 142.4,1164.8 140.1,1163.8 141.8,1162.0 141.1,1159.6 143.6,1159.7" fill="#f8c7a2" stroke="#8a735f" stroke-width="0.8"/>
<polygon points="161.5,1157.7 163.0,1159.7 165.4,1159.6 164.7,1162.0 166.4,1163.8 164.1,1164.8 163.7,1167.2 161.5,1166.0 159.4,1167.2 158.9,1164.8 156.6,1163.8 158.3,1162.0 157.6,1159.6 160.1,1159.7" fill="#f8c7a2" stroke="#8a735f" stroke-width="0.8"/>
<polygon points="190.7,1152.9 192.2,1154.9 194.6,1154.8 193.9,1157.2 195.6,1159.0 193.3,1159.9 192.9,1162.4 190.7,1161.2 188.6,1162.4 188.1,1159.9 185.8,1159.0 187.5,1157.2 186.8,1154.8 189.3,1154.9" fill="#f8c7a2" stroke="#8a735f" stroke-width="0.8"/>
<polygon points="225.0,1157.7 226.4,1159.7 228.9,1159.6 228.2,1162.0 229.9,1163.8 227.6,1164.8 227.2,1167.2 225.0,1166.0 222.8,1167.2 222.4,1164.8 220.1,1163.8 221.8,1162.0 221.1,1159.6 223.6,1159.7" fill="#f8c7a2" stroke="#8a735f" stroke-width="0.8"/>
<polygon points="249.6,1152.9 251.1,1154.9 253.5,1154.8 252.8,1157.2 254.5,1159.0 252.2,1159.9 251.8,1162.4 249.6,1161.2 247.5,1162.4 247.0,1159.9 244.8,1159.0 246.4,1157.2 245.7,1154.8 248.2,1154.9" fill="#f8c7a2" stroke="#8a735f" stroke-width="0.8"/>
<polygon points="53.6,1162.8 55.0,1164.8 57.5,1164.7 56.8,1167.1 58.5,1168.9 56.2,1169.9 55.8,1172.3 53.6,1171.1 51.4,1172.3 51.0,1169.9 48.7,1168.9 50.4,1167.1 49.7,1164.7 52.2,1164.8" fill="#f8c7a2" stroke="#8a735f" stroke-width="0.8"/>
<polygon points="240.0,1172.4 241.4,1174.5 243.9,1174.3 243.2,1176.7 244.9,1178.6 242.6,1179.5 242.1,1181.9 240.0,1180.7 237.8,1181.9 237.4,1179.5 235.1,1178.6 236.8,1176.7 236.1,1174.3 238.5,1174.5" fill="#f8c7a2" stroke="#8a735f" stroke-width="0.8"/>
<polygon points="230.1,1179.6 231.5,1181.6 234.0,1181.4 233.3,1183.8 235.0,1185.7 232.7,1186.6 232.2,1189.1 230.1,1187.9 227.9,1189.1 227.5,1186.6 225.2,1185.7 226.9,1183.8 226.2,1181.4 228.6,1181.6" fill="#f8c7a2" stroke="#8a735f" stroke-width="0.8"/>
<polygon points="210.8,1184.6 212.2,1186.7 214.7,1186.5 214.0,1188.9 215.7,1190.7 213.4,1191.7 213.0,1194.1 210.8,1192.9 208.6,1194.1 208.2,1191.7 205.9,1190.7 207.6,1188.9 206.9,1186.5 209.3,1186.7" fill="#f8c7a2" stroke="#8a735f" stroke-width="0.8"/>
<polygon points="166.6,1182.6 168.0,1184.6 170.5,1184.5 169.8,1186.9 171.5,1188.7 169.2,1189.7 168.8,1192.1 166.6,1190.9 164.4,1192.1 164.0,1189.7 161.7,1188.7 163.4,1186.9 162.7,1184.5 165.2,1184.6" fill="#f8c7a2" stroke="#8a735f" stroke-width="0.8"/>
<polygon points="58.7,1189.7 60.1,1191.7 62.6,1191.6 61.9,1194.0 63.6,1195.8 61.3,1196.8 60.9,1199.2 58.7,1198.0 56.5,1199.2 56.1,1196.8 53.8,1195.8 55.5,1194.0 54.8,1191.6 57.3,1191.7" fill="#f8c7a2" stroke="#8a735f" stroke-width="0.8"/>
<polygon points="107.4,1184.6 108.9,1186.7 111.4,1186.5 110.7,1188.9 112.3,1190.7 110.0,1191.7 109.6,1194.1 107.4,1192.9 105.3,1194.1 104.9,1191.7 102.6,1190.7 104.2,1188.9 103.5,1186.5 106.0,1186.7" fill="#f8c7a2" stroke="#8a735f" stroke-width="0.8"/>
<polygon points="122.2,1202.9 123.6,1204.9 126.1,1204.8 125.4,1207.2 127.0,1209.0 124.7,1210.0 124.3,1212.4 122.2,1211.2 120.0,1212.4 119.6,1210.0 117.3,1209.0 119.0,1207.2 118.3,1204.8 120.7,1204.9" fill="#f8c7a2" stroke="#8a735f" stroke-width="0.8"/>
<polygon points="140.4,1197.8 141.9,1199.9 144.4,1199.7 143.7,1202.1 145.3,1203.9 143.0,1204.9 142.6,1207.3 140.4,1206.1 138.3,1207.3 137.9,1204.9 135.6,1203.9 137.2,1202.1 136.5,1199.7 139.0,1199.9" fill="#f8c7a2" stroke="#8a735f" stroke-width="0.8"/>
<polygon points="166.6,1197.8 168.0,1199.9 170.5,1199.7 169.8,1202.1 171.5,1203.9 169.2,1204.9 168.8,1207.3 166.6,1206.1 164.4,1207.3 164.0,1204.9 161.7,1203.9 163.4,1202.1 162.7,1199.7 165.2,1199.9" fill="#f8c7a2" stroke="#8a735f" stroke-width="0.8"/>
<polygon points="187.4,1202.9 188.9,1204.9 191.3,1204.8 190.6,1207.2 192.3,1209.0 190.0,1210.0 189.6,1212.4 187.4,1211.2 185.3,1212.4 184.8,1210.0 182.5,1209.0 184.2,1207.2 183.5,1204.8 186.0,1204.9" fill="#f8c7a2" stroke="#8a735f" stroke-width="0.8"/>
<polygon points="200.6,1197.3 202.1,1199.4 204.5,1199.2 203.8,1201.6 205.5,1203.4 203.2,1204.4 202.8,1206.8 200.6,1205.6 198.5,1206.8 198.0,1204.4 195.8,1203.4 197.4,1201.6 196.7,1199.2 199.2,1199.4" fill="#f8c7a2" stroke="#8a735f" stroke-width="0.8"/>
<polygon points="258.0,1192.2 259.4,1194.3 261.9,1194.1 261.2,1196.5 262.9,1198.4 260.6,1199.3 260.2,1201.8 258.0,1200.5 255.8,1201.8 255.4,1199.3 253.1,1198.4 254.8,1196.5 254.1,1194.1 256.6,1194.3" fill="#f8c7a2" stroke="#8a735f" stroke-width="0.8"/>
<polygon points="102.9,1210.0 104.3,1212.0 106.8,1211.9 106.1,1214.3 107.7,1216.1 105.5,1217.1 105.0,1219.5 102.9,1218.3 100.7,1219.5 100.3,1217.1 98.0,1216.1 99.7,1214.3 99.0,1211.9 101.4,1212.0" fill="#f8c7a2" stroke="#8a735f" stroke-width="0.8"/>
<polygon points="92.7,1220.2 94.1,1222.2 96.6,1222.1 95.9,1224.4 97.6,1226.3 95.3,1227.2 94.9,1229.7 92.7,1228.5 90.5,1229.7 90.1,1227.2 87.8,1226.3 89.5,1224.4 88.8,1222.1 91.3,1222.2" fill="#f8c7a2" stroke="#8a735f" stroke-width="0.8"/>
<polygon points="150.1,1215.1 151.5,1217.1 154.0,1217.0 153.3,1219.4 155.0,1221.2 152.7,1222.2 152.3,1224.6 150.1,1223.4 147.9,1224.6 147.5,1222.2 145.2,1221.2 146.9,1219.4 146.2,1217.0 148.7,1217.1" fill="#f8c7a2" stroke="#8a735f" stroke-width="0.8"/>
<polygon points="184.1,1220.2 185.6,1222.2 188.0,1222.1 187.3,1224.4 189.0,1226.3 186.7,1227.2 186.3,1229.7 184.1,1228.5 182.0,1229.7 181.5,1227.2 179.2,1226.3 180.9,1224.4 180.2,1222.1 182.7,1222.2" fill="#f8c7a2" stroke="#8a735f" stroke-width="0.8"/>
<polygon points="215.9,1220.2 217.3,1222.2 219.8,1222.1 219.1,1224.4 220.7,1226.3 218.4,1227.2 218.0,1229.7 215.9,1228.5 213.7,1229.7 213.3,1227.2 211.0,1226.3 212.6,1224.4 212.0,1222.1 214.4,1222.2" fill="#f8c7a2" stroke="#8a735f" stroke-width="0.8"/>
<polygon points="249.6,1218.1 251.1,1220.2 253.5,1220.0 252.8,1222.4 254.5,1224.3 252.2,1225.2 251.8,1227.6 249.6,1226.4 247.5,1227.6 247.0,1225.2 244.8,1224.3 246.4,1222.4 245.7,1220.0 248.2,1220.2" fill="#f8c7a2" stroke="#8a735f" stroke-width="0.8"/>
<polygon points="53.6,1235.4 55.0,1237.4 57.5,1237.3 56.8,1239.7 58.5,1241.5 56.2,1242.5 55.8,1244.9 53.6,1243.7 51.4,1244.9 51.0,1242.5 48.7,1241.5 50.4,1239.7 49.7,1237.3 52.2,1237.4" fill="#f8c7a2" stroke="#8a735f" stroke-width="0.8"/>
<polygon points="68.1,1237.9 69.5,1240.0 72.0,1239.8 71.3,1242.2 73.0,1244.1 70.7,1245.0 70.3,1247.5 68.1,1246.2 65.9,1247.5 65.5,1245.0 63.2,1244.1 64.9,1242.2 64.2,1239.8 66.7,1240.0" fill="#f8c7a2" stroke="#8a735f" stroke-width="0.8"/>
<polygon points="97.8,1232.9 99.2,1234.9 101.7,1234.8 101.0,1237.1 102.7,1239.0 100.4,1239.9 100.0,1242.4 97.8,1241.2 95.6,1242.4 95.2,1239.9 92.9,1239.0 94.6,1237.1 93.9,1234.8 96.4,1234.9" fill="#f8c7a2" stroke="#8a735f" stroke-width="0.8"/>
<polygon points="157.7,1232.9 159.1,1234.9 161.6,1234.8 160.9,1237.1 162.6,1239.0 160.3,1239.9 159.9,1242.4 157.7,1241.2 155.5,1242.4 155.1,1239.9 152.8,1239.0 154.5,1237.1 153.8,1234.8 156.3,1234.9" fill="#f8c7a2" stroke="#8a735f" stroke-width="0.8"/>
<polygon points="177.3,1232.9 178.7,1234.9 181.2,1234.8 180.5,1237.1 182.1,1239.0 179.8,1239.9 179.4,1242.4 177.3,1241.2 175.1,1242.4 174.7,1239.9 172.4,1239.0 174.0,1237.1 173.4,1234.8 175.8,1234.9" fill="#f8c7a2" stroke="#8a735f" stroke-width="0.8"/>
<polygon points="200.6,1237.9 202.1,1240.0 204.5,1239.8 203.8,1242.2 205.5,1244.1 203.2,1245.0 202.8,1247.5 200.6,1246.2 198.5,1247.5 198.0,1245.0 195.8,1244.1 197.4,1242.2 196.7,1239.8 199.2,1240.0" fill="#f8c7a2" stroke="#8a735f" stroke-width="0.8"/>
<polygon points="225.5,1237.9 226.9,1240.0 229.4,1239.8 228.7,1242.2 230.4,1244.1 228.1,1245.0 227.7,1247.5 225.5,1246.2 223.3,1247.5 222.9,1245.0 220.6,1244.1 222.3,1242.2 221.6,1239.8 224.1,1240.0" fill="#f8c7a2" stroke="#8a735f" stroke-width="0.8"/>
<polygon points="249.6,1232.9 251.1,1234.9 253.5,1234.8 252.8,1237.1 254.5,1239.0 252.2,1239.9 251.8,1242.4 249.6,1241.2 247.5,1242.4 247.0,1239.9 244.8,1239.0 246.4,1237.1 245.7,1234.8 248.2,1234.9" fill="#f8c7a2" stroke="#8a735f" stroke-width="0.8"/>
<polygon points="97.8,1245.6 99.2,1247.6 101.7,1247.4 101.0,1249.8 102.7,1251.7 100.4,1252.6 100.0,1255.1 97.8,1253.9 95.6,1255.1 95.2,1252.6 92.9,1251.7 94.6,1249.8 93.9,1247.4 96.4,1247.6" fill="#f8c7a2" stroke="#8a735f" stroke-width="0.8"/>
<polygon points="117.1,1250.6 118.5,1252.7 121.0,1252.5 120.3,1254.9 122.0,1256.8 119.7,1257.7 119.3,1260.1 117.1,1258.9 114.9,1260.1 114.5,1257.7 112.2,1256.8 113.9,1254.9 113.2,1252.5 115.7,1252.7" fill="#f8c7a2" stroke="#8a735f" stroke-width="0.8"/>
<polygon points="53.6,1255.5 55.0,1257.5 57.5,1257.4 56.8,1259.7 58.5,1261.6 56.2,1262.5 55.8,1265.0 53.6,1263.8 51.4,1265.0 51.0,1262.5 48.7,1261.6 50.4,1259.7 49.7,1257.4 52.2,1257.5" fill="#f8c7a2" stroke="#8a735f" stroke-width="0.8"/>
<polygon points="79.0,1255.5 80.4,1257.5 82.9,1257.4 82.2,1259.7 83.9,1261.6 81.6,1262.5 81.2,1265.0 79.0,1263.8 76.8,1265.0 76.4,1262.5 74.1,1261.6 75.8,1259.7 75.1,1257.4 77.6,1257.5" fill="#f8c7a2" stroke="#8a735f" stroke-width="0.8"/>
<polygon points="142.5,1255.5 143.9,1257.5 146.4,1257.4 145.7,1259.7 147.4,1261.6 145.1,1262.5 144.6,1265.0 142.5,1263.8 140.3,1265.0 139.9,1262.5 137.6,1261.6 139.3,1259.7 138.6,1257.4 141.0,1257.5" fill="#f8c7a2" stroke="#8a735f" stroke-width="0.8"/>
<polygon points="195.5,1259.3 197.0,1261.3 199.5,1261.2 198.8,1263.5 200.4,1265.4 198.1,1266.3 197.7,1268.8 195.5,1267.6 193.4,1268.8 193.0,1266.3 190.7,1265.4 192.3,1263.5 191.6,1261.2 194.1,1261.3" fill="#f8c7a2" stroke="#8a735f" stroke-width="0.8"/>
<polygon points="245.3,1249.9 246.7,1251.9 249.2,1251.8 248.5,1254.1 250.2,1256.0 247.9,1256.9 247.5,1259.4 245.3,1258.2 243.1,1259.4 242.7,1256.9 240.4,1256.0 242.1,1254.1 241.4,1251.8 243.9,1251.9" fill="#f8c7a2" stroke="#8a735f" stroke-width="0.8"/>
<polygon points="68.1,1265.1 69.5,1267.1 72.0,1267.0 71.3,1269.4 73.0,1271.2 70.7,1272.2 70.3,1274.6 68.1,1273.4 65.9,1274.6 65.5,1272.2 63.2,1271.2 64.9,1269.4 64.2,1267.0 66.7,1267.1" fill="#f8c7a2" stroke="#8a735f" stroke-width="0.8"/>
<polygon points="107.4,1265.1 108.9,1267.1 111.4,1267.0 110.7,1269.4 112.3,1271.2 110.0,1272.2 109.6,1274.6 107.4,1273.4 105.3,1274.6 104.9,1272.2 102.6,1271.2 104.2,1269.4 103.5,1267.0 106.0,1267.1" fill="#f8c7a2" stroke="#8a735f" stroke-width="0.8"/>
<polygon points="127.2,1270.2 128.7,1272.2 131.2,1272.1 130.5,1274.5 132.1,1276.3 129.8,1277.3 129.4,1279.7 127.2,1278.5 125.1,1279.7 124.7,1277.3 122.4,1276.3 124.0,1274.5 123.3,1272.1 125.8,1272.2" fill="#f8c7a2" stroke="#8a735f" stroke-width="0.8"/>
<polygon points="146.8,1270.2 148.2,1272.2 150.7,1272.1 150.0,1274.5 151.7,1276.3 149.4,1277.3 149.0,1279.7 146.8,1278.5 144.6,1279.7 144.2,1277.3 141.9,1276.3 143.6,1274.5 142.9,1272.1 145.4,1272.2" fill="#f8c7a2" stroke="#8a735f" stroke-width="0.8"/>
<polygon points="185.6,1275.3 187.1,1277.3 189.6,1277.2 188.9,1279.5 190.5,1281.4 188.2,1282.3 187.8,1284.8 185.6,1283.6 183.5,1284.8 183.1,1282.3 180.8,1281.4 182.4,1279.5 181.7,1277.2 184.2,1277.3" fill="#f8c7a2" stroke="#8a735f" stroke-width="0.8"/>
<polygon points="200.6,1277.8 202.1,1279.8 204.5,1279.7 203.8,1282.1 205.5,1283.9 203.2,1284.9 202.8,1287.3 200.6,1286.1 198.5,1287.3 198.0,1284.9 195.8,1283.9 197.4,1282.1 196.7,1279.7 199.2,1279.8" fill="#f8c7a2" stroke="#8a735f" stroke-width="0.8"/>
<polygon points="215.9,1265.1 217.3,1267.1 219.8,1267.0 219.1,1269.4 220.7,1271.2 218.4,1272.2 218.0,1274.6 215.9,1273.4 213.7,1274.6 213.3,1272.2 211.0,1271.2 212.6,1269.4 212.0,1267.0 214.4,1267.1" fill="#f8c7a2" stroke="#8a735f" stroke-width="0.8"/>
<polygon points="230.6,1265.1 232.0,1267.1 234.5,1267.0 233.8,1269.4 235.5,1271.2 233.2,1272.2 232.8,1274.6 230.6,1273.4 228.4,1274.6 228.0,1272.2 225.7,1271.2 227.4,1269.4 226.7,1267.0 229.2,1267.1" fill="#f8c7a2" stroke="#8a735f" stroke-width="0.8"/>
<polygon points="249.6,1272.7 251.1,1274.8 253.5,1274.6 252.8,1277.0 254.5,1278.8 252.2,1279.8 251.8,1282.2 249.6,1281.0 247.5,1282.2 247.0,1279.8 244.8,1278.8 246.4,1277.0 245.7,1274.6 248.2,1274.8" fill="#f8c7a2" stroke="#8a735f" stroke-width="0.8"/>
<polygon points="68.1,1284.9 69.5,1286.9 72.0,1286.8 71.3,1289.2 73.0,1291.0 70.7,1292.0 70.3,1294.4 68.1,1293.2 65.9,1294.4 65.5,1292.0 63.2,1291.0 64.9,1289.2 64.2,1286.8 66.7,1286.9" fill="#f8c7a2" stroke="#8a735f" stroke-width="0.8"/>
<polygon points="92.7,1280.4 94.1,1282.4 96.6,1282.2 95.9,1284.6 97.6,1286.5 95.3,1287.4 94.9,1289.9 92.7,1288.7 90.5,1289.9 90.1,1287.4 87.8,1286.5 89.5,1284.6 88.8,1282.2 91.3,1282.4" fill="#f8c7a2" stroke="#8a735f" stroke-width="0.8"/>
<polygon points="157.0,1284.9 158.4,1286.9 160.9,1286.8 160.2,1289.2 161.8,1291.0 159.5,1292.0 159.1,1294.4 157.0,1293.2 154.8,1294.4 154.4,1292.0 152.1,1291.0 153.7,1289.2 153.0,1286.8 155.5,1286.9" fill="#f8c7a2" stroke="#8a735f" stroke-width="0.8"/>
<polygon points="139.9,1290.5 141.4,1292.5 143.9,1292.4 143.2,1294.8 144.8,1296.6 142.5,1297.6 142.1,1300.0 139.9,1298.8 137.8,1300.0 137.4,1297.6 135.1,1296.6 136.7,1294.8 136.0,1292.4 138.5,1292.5" fill="#f8c7a2" stroke="#8a735f" stroke-width="0.8"/>
<polygon points="220.4,1290.5 221.9,1292.5 224.3,1292.4 223.6,1294.8 225.3,1296.6 223.0,1297.6 222.6,1300.0 220.4,1298.8 218.3,1300.0 217.8,1297.6 215.6,1296.6 217.2,1294.8 216.5,1292.4 219.0,1292.5" fill="#f8c7a2" stroke="#8a735f" stroke-width="0.8"/>
<polygon points="200.6,1297.6 202.1,1299.6 204.5,1299.5 203.8,1301.9 205.5,1303.7 203.2,1304.7 202.8,1307.1 200.6,1305.9 198.5,1307.1 198.0,1304.7 195.8,1303.7 197.4,1301.9 196.7,1299.5 199.2,1299.6" fill="#f8c7a2" stroke="#8a735f" stroke-width="0.8"/>
<polygon points="58.7,1310.3 60.1,1312.3 62.6,1312.2 61.9,1314.6 63.6,1316.4 61.3,1317.4 60.9,1319.8 58.7,1318.6 56.5,1319.8 56.1,1317.4 53.8,1316.4 55.5,1314.6 54.8,1312.2 57.3,1312.3" fill="#f8c7a2" stroke="#8a735f" stroke-width="0.8"/>
<polygon points="79.0,1305.2 80.4,1307.3 82.9,1307.1 82.2,1309.5 83.9,1311.3 81.6,1312.3 81.2,1314.7 79.0,1313.5 76.8,1314.7 76.4,1312.3 74.1,1311.3 75.8,1309.5 75.1,1307.1 77.6,1307.3" fill="#f8c7a2" stroke="#8a735f" stroke-width="0.8"/>
<polygon points="102.9,1310.3 104.3,1312.3 106.8,1312.2 106.1,1314.6 107.7,1316.4 105.5,1317.4 105.0,1319.8 102.9,1318.6 100.7,1319.8 100.3,1317.4 98.0,1316.4 99.7,1314.6 99.0,1312.2 101.4,1312.3" fill="#f8c7a2" stroke="#8a735f" stroke-width="0.8"/>
<polygon points="137.4,1310.3 138.8,1312.3 141.3,1312.2 140.6,1314.6 142.3,1316.4 140.0,1317.4 139.6,1319.8 137.4,1318.6 135.2,1319.8 134.8,1317.4 132.5,1316.4 134.2,1314.6 133.5,1312.2 136.0,1312.3" fill="#f8c7a2" stroke="#8a735f" stroke-width="0.8"/>
<polygon points="161.5,1312.6 163.0,1314.6 165.4,1314.5 164.7,1316.9 166.4,1318.7 164.1,1319.7 163.7,1322.1 161.5,1320.9 159.4,1322.1 158.9,1319.7 156.6,1318.7 158.3,1316.9 157.6,1314.5 160.1,1314.6" fill="#f8c7a2" stroke="#8a735f" stroke-width="0.8"/>
<polygon points="185.6,1317.9 187.1,1320.0 189.6,1319.8 188.9,1322.2 190.5,1324.0 188.2,1325.0 187.8,1327.4 185.6,1326.2 183.5,1327.4 183.1,1325.0 180.8,1324.0 182.4,1322.2 181.7,1319.8 184.2,1320.0" fill="#f8c7a2" stroke="#8a735f" stroke-width="0.8"/>
<polygon points="210.8,1312.6 212.2,1314.6 214.7,1314.5 214.0,1316.9 215.7,1318.7 213.4,1319.7 213.0,1322.1 210.8,1320.9 208.6,1322.1 208.2,1319.7 205.9,1318.7 207.6,1316.9 206.9,1314.5 209.3,1314.6" fill="#f8c7a2" stroke="#8a735f" stroke-width="0.8"/>
<polygon points="235.2,1312.6 236.6,1314.6 239.1,1314.5 238.4,1316.9 240.0,1318.7 237.7,1319.7 237.3,1322.1 235.2,1320.9 233.0,1322.1 232.6,1319.7 230.3,1318.7 231.9,1316.9 231.2,1314.5 233.7,1314.6" fill="#f8c7a2" stroke="#8a735f" stroke-width="0.8"/>
<polygon points="64.3,1123.8 73.3,1127.7 75.6,1136.6 69.3,1143.7 59.2,1143.7 53.0,1136.6 55.2,1127.7" fill="#808080" stroke="#737373" stroke-width="0.8"/>
<polygon points="157.7,1131.4 166.8,1135.3 169.0,1144.2 162.7,1151.4 152.7,1151.4 146.4,1144.2 148.6,1135.3" fill="#808080" stroke="#737373" stroke-width="0.8"/>
<polygon points="229.3,1121.2 238.4,1125.2 240.6,1134.1 234.3,1141.2 224.3,1141.2 218.0,1134.1 220.2,1125.2" fill="#808080" stroke="#737373" stroke-width="0.8"/>
<polygon points="135.9,1174.6 144.9,1178.5 147.2,1187.4 140.9,1194.5 130.8,1194.5 124.6,1187.4 126.8,1178.5" fill="#808080" stroke="#737373" stroke-width="0.8"/>
<polygon points="191.7,1167.4 200.8,1171.4 203.0,1180.3 196.8,1187.4 186.7,1187.4 180.4,1180.3 182.7,1171.4" fill="#808080" stroke="#737373" stroke-width="0.8"/>
<polygon points="240.0,1191.8 249.0,1195.8 251.3,1204.7 245.0,1211.8 234.9,1211.8 228.7,1204.7 230.9,1195.8" fill="#808080" stroke="#737373" stroke-width="0.8"/>
<polygon points="67.3,1209.6 76.4,1213.6 78.6,1222.4 72.4,1229.6 62.3,1229.6 56.0,1222.4 58.3,1213.6" fill="#808080" stroke="#737373" stroke-width="0.8"/>
<polygon points="127.2,1222.3 136.3,1226.2 138.6,1235.1 132.3,1242.3 122.2,1242.3 115.9,1235.1 118.2,1226.2" fill="#808080" stroke="#737373" stroke-width="0.8"/>
<polygon points="172.7,1254.0 181.8,1258.0 184.0,1266.9 177.7,1274.0 167.7,1274.0 161.4,1266.9 163.6,1258.0" fill="#808080" stroke="#737373" stroke-width="0.8"/>
<polygon points="116.3,1284.5 125.4,1288.5 127.6,1297.3 121.4,1304.5 111.3,1304.5 105.0,1297.3 107.3,1288.5" fill="#808080" stroke="#737373" stroke-width="0.8"/>
<polygon points="180.6,1287.0 189.6,1291.0 191.9,1299.9 185.6,1307.0 175.5,1307.0 169.3,1299.9 171.5,1291.0" fill="#808080" stroke="#737373" stroke-width="0.8"/>
<polygon points="249.6,1297.2 258.7,1301.1 260.9,1310.0 254.7,1317.2 244.6,1317.2 238.3,1310.0 240.6,1301.1" fill="#808080" stroke="#737373" stroke-width="0.8"/>
<rect x="364.5" y="1107.3" width="234.1" height="217.7" fill="#f2f2f2" stroke="#bdbdbd" stroke-width="1.4"/>
<circle cx="436.2" cy="1112.8" r="5.2" fill="#ffffff" stroke="#a3a3a3" stroke-width="1.0"/>
<circle cx="507.3" cy="1114.0" r="5.2" fill="#ffffff" stroke="#a3a3a3" stroke-width="1.0"/>
<circle cx="446.4" cy="1127.5" r="5.2" fill="#ffffff" stroke="#a3a3a3" stroke-width="1.0"/>
<circle cx="578.9" cy="1128.5" r="5.2" fill="#ffffff" stroke="#a3a3a3" stroke-width="1.0"/>
<circle cx="420.5" cy="1144.0" r="5.2" fill="#ffffff" stroke="#a3a3a3" stroke-width="1.0"/>
<circle cx="533.2" cy="1149.1" r="5.2" fill="#ffffff" stroke="#a3a3a3" stroke-width="1.0"/>
<circle cx="587.3" cy="1144.0" r="5.2" fill="#ffffff" stroke="#a3a3a3" stroke-width="1.0"/>
<circle cx="385.0" cy="1159.0" r="5.2" fill="#ffffff" stroke="#a3a3a3" stroke-width="1.0"/>
<circle cx="410.9" cy="1159.0" r="5.2" fill="#ffffff" stroke="#a3a3a3" stroke-width="1.0"/>
<circle cx="440.8" cy="1159.0" r="5.2" fill="#ffffff" stroke="#a3a3a3" stroke-width="1.0"/>
<circle cx="466.7" cy="1159.0" r="5.2" fill="#ffffff" stroke="#a3a3a3" stroke-width="1.0"/>
<circle cx="502.8" cy="1159.0" r="5.2" fill="#ffffff" stroke="#a3a3a3" stroke-width="1.0"/>
<circle cx="568.8" cy="1163.6" r="5.2" fill="#ffffff" stroke="#a3a3a3" stroke-width="1.0"/>
<circle cx="492.1" cy="1168.6" r="5.2" fill="#ffffff" stroke="#a3a3a3" stroke-width="1.0"/>
<circle cx="374.8" cy="1175.7" r="5.2" fill="#ffffff" stroke="#a3a3a3" stroke-width="1.0"/>
<circle cx="441.3" cy="1180.8" r="5.2" fill="#ffffff" stroke="#a3a3a3" stroke-width="1.0"/>
<circle cx="584.3" cy="1183.4" r="5.2" fill="#ffffff" stroke="#a3a3a3" stroke-width="1.0"/>
<circle cx="502.3" cy="1192.8" r="5.2" fill="#ffffff" stroke="#a3a3a3" stroke-width="1.0"/>
<circle cx="390.5" cy="1198.6" r="5.2" fill="#ffffff" stroke="#a3a3a3" stroke-width="1.0"/>
<circle cx="431.2" cy="1198.6" r="5.2" fill="#ffffff" stroke="#a3a3a3" stroke-width="1.0"/>
<circle cx="487.0" cy="1203.7" r="5.2" fill="#ffffff" stroke="#a3a3a3" stroke-width="1.0"/>
<circle cx="548.5" cy="1202.9" r="5.2" fill="#ffffff" stroke="#a3a3a3" stroke-width="1.0"/>
<circle cx="414.2" cy="1216.1" r="5.2" fill="#ffffff" stroke="#a3a3a3" stroke-width="1.0"/>
<circle cx="441.3" cy="1211.0" r="5.2" fill="#ffffff" stroke="#a3a3a3" stroke-width="1.0"/>
<circle cx="482.0" cy="1216.1" r="5.2" fill="#ffffff" stroke="#a3a3a3" stroke-width="1.0"/>
<circle cx="426.1" cy="1224.0" r="5.2" fill="#ffffff" stroke="#a3a3a3" stroke-width="1.0"/>
<circle cx="528.2" cy="1225.8" r="5.2" fill="#ffffff" stroke="#a3a3a3" stroke-width="1.0"/>
<circle cx="558.1" cy="1226.3" r="5.2" fill="#ffffff" stroke="#a3a3a3" stroke-width="1.0"/>
<circle cx="405.3" cy="1234.1" r="5.2" fill="#ffffff" stroke="#a3a3a3" stroke-width="1.0"/>
<circle cx="537.8" cy="1234.1" r="5.2" fill="#ffffff" stroke="#a3a3a3" stroke-width="1.0"/>
<circle cx="376.6" cy="1239.2" r="5.2" fill="#ffffff" stroke="#a3a3a3" stroke-width="1.0"/>
<circle cx="511.2" cy="1239.2" r="5.2" fill="#ffffff" stroke="#a3a3a3" stroke-width="1.0"/>
<circle cx="568.8" cy="1239.2" r="5.2" fill="#ffffff" stroke="#a3a3a3" stroke-width="1.0"/>
<circle cx="431.2" cy="1244.3" r="5.2" fill="#ffffff" stroke="#a3a3a3" stroke-width="1.0"/>
<circle cx="486.3" cy="1244.3" r="5.2" fill="#ffffff" stroke="#a3a3a3" stroke-width="1.0"/>
<circle cx="456.6" cy="1248.6" r="5.2" fill="#ffffff" stroke="#a3a3a3" stroke-width="1.0"/>
<circle cx="431.2" cy="1261.3" r="5.2" fill="#ffffff" stroke="#a3a3a3" stroke-width="1.0"/>
<circle cx="451.5" cy="1261.3" r="5.2" fill="#ffffff" stroke="#a3a3a3" stroke-width="1.0"/>
<circle cx="522.6" cy="1266.4" r="5.2" fill="#ffffff" stroke="#a3a3a3" stroke-width="1.0"/>
<circle cx="573.9" cy="1261.3" r="5.2" fill="#ffffff" stroke="#a3a3a3" stroke-width="1.0"/>
<circle cx="400.2" cy="1281.6" r="5.2" fill="#ffffff" stroke="#a3a3a3" stroke-width="1.0"/>
<circle cx="466.7" cy="1281.6" r="5.2" fill="#ffffff" stroke="#a3a3a3" stroke-width="1.0"/>
<circle cx="507.3" cy="1279.1" r="5.2" fill="#ffffff" stroke="#a3a3a3" stroke-width="1.0"/>
<circle cx="497.2" cy="1286.2" r="5.2" fill="#ffffff" stroke="#a3a3a3" stroke-width="1.0"/>
<circle cx="537.8" cy="1289.2" r="5.2" fill="#ffffff" stroke="#a3a3a3" stroke-width="1.0"/>
<circle cx="487.0" cy="1301.4" r="5.2" fill="#ffffff" stroke="#a3a3a3" stroke-width="1.0"/>
<circle cx="587.3" cy="1314.1" r="5.2" fill="#ffffff" stroke="#a3a3a3" stroke-width="1.0"/>
<polygon points="373.3,1108.3 374.7,1110.3 377.2,1110.2 376.5,1112.5 378.2,1114.4 375.9,1115.3 375.5,1117.8 373.3,1116.6 371.1,1117.8 370.7,1115.3 368.4,1114.4 370.1,1112.5 369.4,1110.2 371.8,1110.3" fill="#f8c7a2" stroke="#8a735f" stroke-width="0.8"/>
<polygon points="405.3,1112.9 406.7,1114.9 409.2,1114.7 408.5,1117.1 410.1,1119.0 407.9,1119.9 407.4,1122.4 405.3,1121.2 403.1,1122.4 402.7,1119.9 400.4,1119.0 402.1,1117.1 401.4,1114.7 403.8,1114.9" fill="#f8c7a2" stroke="#8a735f" stroke-width="0.8"/>
<polygon points="486.5,1114.1 488.0,1116.1 490.4,1116.0 489.7,1118.4 491.4,1120.2 489.1,1121.2 488.7,1123.6 486.5,1122.4 484.4,1123.6 483.9,1121.2 481.6,1120.2 483.3,1118.4 482.6,1116.0 485.1,1116.1" fill="#f8c7a2" stroke="#8a735f" stroke-width="0.8"/>
<polygon points="533.2,1109.0 534.7,1111.1 537.2,1110.9 536.5,1113.3 538.1,1115.2 535.8,1116.1 535.4,1118.5 533.2,1117.3 531.1,1118.5 530.7,1116.1 528.4,1115.2 530.0,1113.3 529.3,1110.9 531.8,1111.1" fill="#f8c7a2" stroke="#8a735f" stroke-width="0.8"/>
<polygon points="578.9,1109.0 580.4,1111.1 582.9,1110.9 582.2,1113.3 583.8,1115.2 581.5,1116.1 581.1,1118.5 578.9,1117.3 576.8,1118.5 576.4,1116.1 574.1,1115.2 575.7,1113.3 575.0,1110.9 577.5,1111.1" fill="#f8c7a2" stroke="#8a735f" stroke-width="0.8"/>
<polygon points="430.7,1122.5 432.1,1124.5 434.6,1124.4 433.9,1126.8 435.5,1128.6 433.2,1129.6 432.8,1132.0 430.7,1130.8 428.5,1132.0 428.1,1129.6 425.8,1128.6 427.4,1126.8 426.8,1124.4 429.2,1124.5" fill="#f8c7a2" stroke="#8a735f" stroke-width="0.8"/>
<polygon points="415.9,1127.6 417.4,1129.6 419.8,1129.5 419.2,1131.8 420.8,1133.7 418.5,1134.6 418.1,1137.1 415.9,1135.9 413.8,1137.1 413.4,1134.6 411.1,1133.7 412.7,1131.8 412.0,1129.5 414.5,1129.6" fill="#f8c7a2" stroke="#8a735f" stroke-width="0.8"/>
<polygon points="507.3,1124.3 508.8,1126.3 511.3,1126.2 510.6,1128.5 512.2,1130.4 509.9,1131.3 509.5,1133.8 507.3,1132.6 505.2,1133.8 504.8,1131.3 502.5,1130.4 504.1,1128.5 503.4,1126.2 505.9,1126.3" fill="#f8c7a2" stroke="#8a735f" stroke-width="0.8"/>
<polygon points="527.7,1123.8 529.1,1125.8 531.6,1125.7 530.9,1128.0 532.5,1129.9 530.2,1130.8 529.8,1133.3 527.7,1132.1 525.5,1133.3 525.1,1130.8 522.8,1129.9 524.4,1128.0 523.7,1125.7 526.2,1125.8" fill="#f8c7a2" stroke="#8a735f" stroke-width="0.8"/>
<polygon points="517.5,1133.9 518.9,1136.0 521.4,1135.8 520.7,1138.2 522.4,1140.0 520.1,1141.0 519.7,1143.4 517.5,1142.2 515.3,1143.4 514.9,1141.0 512.6,1140.0 514.3,1138.2 513.6,1135.8 516.1,1136.0" fill="#f8c7a2" stroke="#8a735f" stroke-width="0.8"/>
<polygon points="441.3,1139.0 442.8,1141.0 445.2,1140.9 444.5,1143.3 446.2,1145.1 443.9,1146.1 443.5,1148.5 441.3,1147.3 439.2,1148.5 438.7,1146.1 436.5,1145.1 438.1,1143.3 437.4,1140.9 439.9,1141.0" fill="#f8c7a2" stroke="#8a735f" stroke-width="0.8"/>
<polygon points="497.2,1139.0 498.6,1141.0 501.1,1140.9 500.4,1143.3 502.1,1145.1 499.8,1146.1 499.4,1148.5 497.2,1147.3 495.0,1148.5 494.6,1146.1 492.3,1145.1 494.0,1143.3 493.3,1140.9 495.8,1141.0" fill="#f8c7a2" stroke="#8a735f" stroke-width="0.8"/>
<polygon points="426.1,1148.9 427.5,1150.9 430.0,1150.8 429.3,1153.2 431.0,1155.0 428.7,1156.0 428.3,1158.4 426.1,1157.2 423.9,1158.4 423.5,1156.0 421.2,1155.0 422.9,1153.2 422.2,1150.8 424.7,1150.9" fill="#f8c7a2" stroke="#8a735f" stroke-width="0.8"/>
<polygon points="400.7,1154.0 402.1,1156.0 404.6,1155.9 403.9,1158.3 405.6,1160.1 403.3,1161.0 402.9,1163.5 400.7,1162.3 398.5,1163.5 398.1,1161.0 395.8,1160.1 397.5,1158.3 396.8,1155.9 399.3,1156.0" fill="#f8c7a2" stroke="#8a735f" stroke-width="0.8"/>
<polygon points="451.5,1154.0 452.9,1156.0 455.4,1155.9 454.7,1158.3 456.4,1160.1 454.1,1161.0 453.7,1163.5 451.5,1162.3 449.3,1163.5 448.9,1161.0 446.6,1160.1 448.3,1158.3 447.6,1155.9 450.1,1156.0" fill="#f8c7a2" stroke="#8a735f" stroke-width="0.8"/>
<polygon points="486.5,1154.0 488.0,1156.0 490.4,1155.9 489.7,1158.3 491.4,1160.1 489.1,1161.0 488.7,1163.5 486.5,1162.3 484.4,1163.5 483.9,1161.0 481.6,1160.1 483.3,1158.3 482.6,1155.9 485.1,1156.0" fill="#f8c7a2" stroke="#8a735f" stroke-width="0.8"/>
<polygon points="517.5,1148.9 518.9,1150.9 521.4,1150.8 520.7,1153.2 522.4,1155.0 520.1,1156.0 519.7,1158.4 517.5,1157.2 515.3,1158.4 514.9,1156.0 512.6,1155.0 514.3,1153.2 513.6,1150.8 516.1,1150.9" fill="#f8c7a2" stroke="#8a735f" stroke-width="0.8"/>
<polygon points="553.6,1154.0 555.0,1156.0 557.5,1155.9 556.8,1158.3 558.4,1160.1 556.1,1161.0 555.7,1163.5 553.6,1162.3 551.4,1163.5 551.0,1161.0 548.7,1160.1 550.3,1158.3 549.6,1155.9 552.1,1156.0" fill="#f8c7a2" stroke="#8a735f" stroke-width="0.8"/>
<polygon points="578.9,1148.9 580.4,1150.9 582.9,1150.8 582.2,1153.2 583.8,1155.0 581.5,1156.0 581.1,1158.4 578.9,1157.2 576.8,1158.4 576.4,1156.0 574.1,1155.0 575.7,1153.2 575.0,1150.8 577.5,1150.9" fill="#f8c7a2" stroke="#8a735f" stroke-width="0.8"/>
<polygon points="374.8,1159.1 376.2,1161.1 378.7,1160.9 378.0,1163.3 379.7,1165.2 377.4,1166.1 377.0,1168.6 374.8,1167.4 372.6,1168.6 372.2,1166.1 369.9,1165.2 371.6,1163.3 370.9,1160.9 373.4,1161.1" fill="#f8c7a2" stroke="#8a735f" stroke-width="0.8"/>
<polygon points="430.7,1163.6 432.1,1165.7 434.6,1165.5 433.9,1167.9 435.5,1169.7 433.2,1170.7 432.8,1173.1 430.7,1171.9 428.5,1173.1 428.1,1170.7 425.8,1169.7 427.4,1167.9 426.8,1165.5 429.2,1165.7" fill="#f8c7a2" stroke="#8a735f" stroke-width="0.8"/>
<polygon points="548.5,1169.2 549.9,1171.2 552.4,1171.1 551.7,1173.5 553.4,1175.3 551.1,1176.3 550.6,1178.7 548.5,1177.5 546.3,1178.7 545.9,1176.3 543.6,1175.3 545.3,1173.5 544.6,1171.1 547.0,1171.2" fill="#f8c7a2" stroke="#8a735f" stroke-width="0.8"/>
<polygon points="568.8,1169.2 570.2,1171.2 572.7,1171.1 572.0,1173.5 573.7,1175.3 571.4,1176.3 571.0,1178.7 568.8,1177.5 566.6,1178.7 566.2,1176.3 563.9,1175.3 565.6,1173.5 564.9,1171.1 567.4,1171.2" fill="#f8c7a2" stroke="#8a735f" stroke-width="0.8"/>
<polygon points="430.7,1180.6 432.1,1182.7 434.6,1182.5 433.9,1184.9 435.5,1186.8 433.2,1187.7 432.8,1190.1 430.7,1188.9 428.5,1190.1 428.1,1187.7 425.8,1186.8 427.4,1184.9 426.8,1182.5 429.2,1182.7" fill="#f8c7a2" stroke="#8a735f" stroke-width="0.8"/>
<polygon points="492.1,1178.9 493.5,1180.9 496.0,1180.7 495.3,1183.1 497.0,1185.0 494.7,1185.9 494.3,1188.4 492.1,1187.2 489.9,1188.4 489.5,1185.9 487.2,1185.0 488.9,1183.1 488.2,1180.7 490.7,1180.9" fill="#f8c7a2" stroke="#8a735f" stroke-width="0.8"/>
<polygon points="379.9,1186.0 381.3,1188.0 383.8,1187.9 383.1,1190.2 384.8,1192.1 382.5,1193.0 382.1,1195.5 379.9,1194.3 377.7,1195.5 377.3,1193.0 375.0,1192.1 376.7,1190.2 376.0,1187.9 378.5,1188.0" fill="#f8c7a2" stroke="#8a735f" stroke-width="0.8"/>
<polygon points="548.5,1183.9 549.9,1186.0 552.4,1185.8 551.7,1188.2 553.4,1190.1 551.1,1191.0 550.6,1193.5 548.5,1192.2 546.3,1193.5 545.9,1191.0 543.6,1190.1 545.3,1188.2 544.6,1185.8 547.0,1186.0" fill="#f8c7a2" stroke="#8a735f" stroke-width="0.8"/>
<polygon points="446.4,1194.1 447.8,1196.1 450.3,1196.0 449.6,1198.4 451.3,1200.2 449.0,1201.2 448.6,1203.6 446.4,1202.4 444.2,1203.6 443.8,1201.2 441.5,1200.2 443.2,1198.4 442.5,1196.0 445.0,1196.1" fill="#f8c7a2" stroke="#8a735f" stroke-width="0.8"/>
<polygon points="527.7,1193.6 529.1,1195.6 531.6,1195.5 530.9,1197.9 532.5,1199.7 530.2,1200.7 529.8,1203.1 527.7,1201.9 525.5,1203.1 525.1,1200.7 522.8,1199.7 524.4,1197.9 523.7,1195.5 526.2,1195.6" fill="#f8c7a2" stroke="#8a735f" stroke-width="0.8"/>
<polygon points="413.9,1199.2 415.3,1201.2 417.8,1201.1 417.1,1203.4 418.8,1205.3 416.5,1206.2 416.1,1208.7 413.9,1207.5 411.7,1208.7 411.3,1206.2 409.0,1205.3 410.7,1203.4 410.0,1201.1 412.5,1201.2" fill="#f8c7a2" stroke="#8a735f" stroke-width="0.8"/>
<polygon points="471.8,1199.2 473.2,1201.2 475.7,1201.1 475.0,1203.4 476.7,1205.3 474.4,1206.2 474.0,1208.7 471.8,1207.5 469.6,1208.7 469.2,1206.2 466.9,1205.3 468.6,1203.4 467.9,1201.1 470.4,1201.2" fill="#f8c7a2" stroke="#8a735f" stroke-width="0.8"/>
<polygon points="539.1,1203.8 540.5,1205.8 543.0,1205.6 542.3,1208.0 544.0,1209.9 541.7,1210.8 541.3,1213.3 539.1,1212.0 536.9,1213.3 536.5,1210.8 534.2,1209.9 535.9,1208.0 535.2,1205.6 537.7,1205.8" fill="#f8c7a2" stroke="#8a735f" stroke-width="0.8"/>
<polygon points="426.1,1206.3 427.5,1208.3 430.0,1208.2 429.3,1210.6 431.0,1212.4 428.7,1213.3 428.3,1215.8 426.1,1214.6 423.9,1215.8 423.5,1213.3 421.2,1212.4 422.9,1210.6 422.2,1208.2 424.7,1208.3" fill="#f8c7a2" stroke="#8a735f" stroke-width="0.8"/>
<polygon points="461.6,1206.3 463.1,1208.3 465.5,1208.2 464.9,1210.6 466.5,1212.4 464.2,1213.3 463.8,1215.8 461.6,1214.6 459.5,1215.8 459.1,1213.3 456.8,1212.4 458.4,1210.6 457.7,1208.2 460.2,1208.3" fill="#f8c7a2" stroke="#8a735f" stroke-width="0.8"/>
<polygon points="542.9,1216.2 544.3,1218.2 546.8,1218.1 546.1,1220.5 547.8,1222.3 545.5,1223.2 545.1,1225.7 542.9,1224.5 540.7,1225.7 540.3,1223.2 538.0,1222.3 539.7,1220.5 539.0,1218.1 541.5,1218.2" fill="#f8c7a2" stroke="#8a735f" stroke-width="0.8"/>
<polygon points="482.0,1224.1 483.4,1226.1 485.9,1225.9 485.2,1228.3 486.8,1230.2 484.5,1231.1 484.1,1233.6 482.0,1232.4 479.8,1233.6 479.4,1231.1 477.1,1230.2 478.7,1228.3 478.0,1225.9 480.5,1226.1" fill="#f8c7a2" stroke="#8a735f" stroke-width="0.8"/>
<polygon points="420.5,1229.1 421.9,1231.2 424.4,1231.0 423.7,1233.4 425.4,1235.3 423.1,1236.2 422.7,1238.6 420.5,1237.4 418.3,1238.6 417.9,1236.2 415.6,1235.3 417.3,1233.4 416.6,1231.0 419.1,1231.2" fill="#f8c7a2" stroke="#8a735f" stroke-width="0.8"/>
<polygon points="390.0,1234.2 391.5,1236.2 393.9,1236.1 393.3,1238.5 394.9,1240.3 392.6,1241.3 392.2,1243.7 390.0,1242.5 387.9,1243.7 387.5,1241.3 385.2,1240.3 386.8,1238.5 386.1,1236.1 388.6,1236.2" fill="#f8c7a2" stroke="#8a735f" stroke-width="0.8"/>
<polygon points="476.9,1239.3 478.3,1241.3 480.8,1241.2 480.1,1243.6 481.7,1245.4 479.5,1246.4 479.0,1248.8 476.9,1247.6 474.7,1248.8 474.3,1246.4 472.0,1245.4 473.7,1243.6 473.0,1241.2 475.4,1241.3" fill="#f8c7a2" stroke="#8a735f" stroke-width="0.8"/>
<polygon points="497.2,1234.2 498.6,1236.2 501.1,1236.1 500.4,1238.5 502.1,1240.3 499.8,1241.3 499.4,1243.7 497.2,1242.5 495.0,1243.7 494.6,1241.3 492.3,1240.3 494.0,1238.5 493.3,1236.1 495.8,1236.2" fill="#f8c7a2" stroke="#8a735f" stroke-width="0.8"/>
<polygon points="527.7,1234.2 529.1,1236.2 531.6,1236.1 530.9,1238.5 532.5,1240.3 530.2,1241.3 529.8,1243.7 527.7,1242.5 525.5,1243.7 525.1,1241.3 522.8,1240.3 524.4,1238.5 523.7,1236.1 526.2,1236.2" fill="#f8c7a2" stroke="#8a735f" stroke-width="0.8"/>
<polygon points="553.6,1234.2 555.0,1236.2 557.5,1236.1 556.8,1238.5 558.4,1240.3 556.1,1241.3 555.7,1243.7 553.6,1242.5 551.4,1243.7 551.0,1241.3 548.7,1240.3 550.3,1238.5 549.6,1236.1 552.1,1236.2" fill="#f8c7a2" stroke="#8a735f" stroke-width="0.8"/>
<polygon points="578.9,1229.1 580.4,1231.2 582.9,1231.0 582.2,1233.4 583.8,1235.3 581.5,1236.2 581.1,1238.6 578.9,1237.4 576.8,1238.6 576.4,1236.2 574.1,1235.3 575.7,1233.4 575.0,1231.0 577.5,1231.2" fill="#f8c7a2" stroke="#8a735f" stroke-width="0.8"/>
<polygon points="375.8,1251.7 377.3,1253.8 379.7,1253.6 379.0,1256.0 380.7,1257.9 378.4,1258.8 378.0,1261.2 375.8,1260.0 373.7,1261.2 373.2,1258.8 370.9,1257.9 372.6,1256.0 371.9,1253.6 374.4,1253.8" fill="#f8c7a2" stroke="#8a735f" stroke-width="0.8"/>
<polygon points="441.3,1246.9 442.8,1248.9 445.2,1248.8 444.5,1251.2 446.2,1253.0 443.9,1254.0 443.5,1256.4 441.3,1255.2 439.2,1256.4 438.7,1254.0 436.5,1253.0 438.1,1251.2 437.4,1248.8 439.9,1248.9" fill="#f8c7a2" stroke="#8a735f" stroke-width="0.8"/>
<polygon points="466.7,1251.2 468.2,1253.3 470.6,1253.1 469.9,1255.5 471.6,1257.3 469.3,1258.3 468.9,1260.7 466.7,1259.5 464.5,1260.7 464.1,1258.3 461.8,1257.3 463.5,1255.5 462.8,1253.1 465.3,1253.3" fill="#f8c7a2" stroke="#8a735f" stroke-width="0.8"/>
<polygon points="522.6,1251.2 524.0,1253.3 526.5,1253.1 525.8,1255.5 527.5,1257.3 525.2,1258.3 524.7,1260.7 522.6,1259.5 520.4,1260.7 520.0,1258.3 517.7,1257.3 519.4,1255.5 518.7,1253.1 521.1,1253.3" fill="#f8c7a2" stroke="#8a735f" stroke-width="0.8"/>
<polygon points="578.9,1246.9 580.4,1248.9 582.9,1248.8 582.2,1251.2 583.8,1253.0 581.5,1254.0 581.1,1256.4 578.9,1255.2 576.8,1256.4 576.4,1254.0 574.1,1253.0 575.7,1251.2 575.0,1248.8 577.5,1248.9" fill="#f8c7a2" stroke="#8a735f" stroke-width="0.8"/>
<polygon points="431.2,1266.5 432.6,1268.5 435.1,1268.3 434.4,1270.7 436.0,1272.6 433.8,1273.5 433.3,1276.0 431.2,1274.8 429.0,1276.0 428.6,1273.5 426.3,1272.6 428.0,1270.7 427.3,1268.3 429.7,1268.5" fill="#f8c7a2" stroke="#8a735f" stroke-width="0.8"/>
<polygon points="451.5,1266.5 452.9,1268.5 455.4,1268.3 454.7,1270.7 456.4,1272.6 454.1,1273.5 453.7,1276.0 451.5,1274.8 449.3,1276.0 448.9,1273.5 446.6,1272.6 448.3,1270.7 447.6,1268.3 450.1,1268.5" fill="#f8c7a2" stroke="#8a735f" stroke-width="0.8"/>
<polygon points="471.8,1266.5 473.2,1268.5 475.7,1268.3 475.0,1270.7 476.7,1272.6 474.4,1273.5 474.0,1276.0 471.8,1274.8 469.6,1276.0 469.2,1273.5 466.9,1272.6 468.6,1270.7 467.9,1268.3 470.4,1268.5" fill="#f8c7a2" stroke="#8a735f" stroke-width="0.8"/>
<polygon points="385.0,1271.5 386.4,1273.6 388.9,1273.4 388.2,1275.8 389.8,1277.7 387.5,1278.6 387.1,1281.0 385.0,1279.8 382.8,1281.0 382.4,1278.6 380.1,1277.7 381.7,1275.8 381.1,1273.4 383.5,1273.6" fill="#f8c7a2" stroke="#8a735f" stroke-width="0.8"/>
<polygon points="527.7,1274.1 529.1,1276.1 531.6,1276.0 530.9,1278.3 532.5,1280.2 530.2,1281.1 529.8,1283.6 527.7,1282.4 525.5,1283.6 525.1,1281.1 522.8,1280.2 524.4,1278.3 523.7,1276.0 526.2,1276.1" fill="#f8c7a2" stroke="#8a735f" stroke-width="0.8"/>
<polygon points="578.9,1269.0 580.4,1271.0 582.9,1270.9 582.2,1273.3 583.8,1275.1 581.5,1276.1 581.1,1278.5 578.9,1277.3 576.8,1278.5 576.4,1276.1 574.1,1275.1 575.7,1273.3 575.0,1270.9 577.5,1271.0" fill="#f8c7a2" stroke="#8a735f" stroke-width="0.8"/>
<polygon points="415.4,1276.6 416.9,1278.6 419.3,1278.5 418.6,1280.9 420.3,1282.7 418.0,1283.7 417.6,1286.1 415.4,1284.9 413.3,1286.1 412.8,1283.7 410.6,1282.7 412.2,1280.9 411.5,1278.5 414.0,1278.6" fill="#f8c7a2" stroke="#8a735f" stroke-width="0.8"/>
<polygon points="426.1,1281.7 427.5,1283.7 430.0,1283.6 429.3,1286.0 431.0,1287.8 428.7,1288.8 428.3,1291.2 426.1,1290.0 423.9,1291.2 423.5,1288.8 421.2,1287.8 422.9,1286.0 422.2,1283.6 424.7,1283.7" fill="#f8c7a2" stroke="#8a735f" stroke-width="0.8"/>
<polygon points="482.0,1281.7 483.4,1283.7 485.9,1283.6 485.2,1286.0 486.8,1287.8 484.5,1288.8 484.1,1291.2 482.0,1290.0 479.8,1291.2 479.4,1288.8 477.1,1287.8 478.7,1286.0 478.0,1283.6 480.5,1283.7" fill="#f8c7a2" stroke="#8a735f" stroke-width="0.8"/>
<polygon points="553.6,1279.2 555.0,1281.2 557.5,1281.0 556.8,1283.4 558.4,1285.3 556.1,1286.2 555.7,1288.7 553.6,1287.5 551.4,1288.7 551.0,1286.2 548.7,1285.3 550.3,1283.4 549.6,1281.0 552.1,1281.2" fill="#f8c7a2" stroke="#8a735f" stroke-width="0.8"/>
<polygon points="587.3,1284.2 588.8,1286.3 591.2,1286.1 590.5,1288.5 592.2,1290.4 589.9,1291.3 589.5,1293.7 587.3,1292.5 585.2,1293.7 584.7,1291.3 582.4,1290.4 584.1,1288.5 583.4,1286.1 585.9,1286.3" fill="#f8c7a2" stroke="#8a735f" stroke-width="0.8"/>
<polygon points="415.4,1296.9 416.9,1299.0 419.3,1298.8 418.6,1301.2 420.3,1303.0 418.0,1304.0 417.6,1306.4 415.4,1305.2 413.3,1306.4 412.8,1304.0 410.6,1303.0 412.2,1301.2 411.5,1298.8 414.0,1299.0" fill="#f8c7a2" stroke="#8a735f" stroke-width="0.8"/>
<polygon points="471.8,1296.9 473.2,1299.0 475.7,1298.8 475.0,1301.2 476.7,1303.0 474.4,1304.0 474.0,1306.4 471.8,1305.2 469.6,1306.4 469.2,1304.0 466.9,1303.0 468.6,1301.2 467.9,1298.8 470.4,1299.0" fill="#f8c7a2" stroke="#8a735f" stroke-width="0.8"/>
<polygon points="426.1,1307.1 427.5,1309.1 430.0,1309.0 429.3,1311.4 431.0,1313.2 428.7,1314.1 428.3,1316.6 426.1,1315.4 423.9,1316.6 423.5,1314.1 421.2,1313.2 422.9,1311.4 422.2,1309.0 424.7,1309.1" fill="#f8c7a2" stroke="#8a735f" stroke-width="0.8"/>
<polygon points="461.6,1307.1 463.1,1309.1 465.5,1309.0 464.9,1311.4 466.5,1313.2 464.2,1314.1 463.8,1316.6 461.6,1315.4 459.5,1316.6 459.1,1314.1 456.8,1313.2 458.4,1311.4 457.7,1309.0 460.2,1309.1" fill="#f8c7a2" stroke="#8a735f" stroke-width="0.8"/>
<polygon points="405.3,1312.2 406.7,1314.2 409.2,1314.1 408.5,1316.4 410.1,1318.3 407.9,1319.2 407.4,1321.7 405.3,1320.5 403.1,1321.7 402.7,1319.2 400.4,1318.3 402.1,1316.4 401.4,1314.1 403.8,1314.2" fill="#f8c7a2" stroke="#8a735f" stroke-width="0.8"/>
<polygon points="446.4,1312.2 447.8,1314.2 450.3,1314.1 449.6,1316.4 451.3,1318.3 449.0,1319.2 448.6,1321.7 446.4,1320.5 444.2,1321.7 443.8,1319.2 441.5,1318.3 443.2,1316.4 442.5,1314.1 445.0,1314.2" fill="#f8c7a2" stroke="#8a735f" stroke-width="0.8"/>
<polygon points="487.0,1309.6 488.5,1311.7 490.9,1311.5 490.2,1313.9 491.9,1315.7 489.6,1316.7 489.2,1319.1 487.0,1317.9 484.9,1319.1 484.5,1316.7 482.2,1315.7 483.8,1313.9 483.1,1311.5 485.6,1311.7" fill="#f8c7a2" stroke="#8a735f" stroke-width="0.8"/>
<polygon points="537.8,1309.6 539.2,1311.7 541.7,1311.5 541.0,1313.9 542.7,1315.7 540.4,1316.7 540.0,1319.1 537.8,1317.9 535.6,1319.1 535.2,1316.7 532.9,1315.7 534.6,1313.9 533.9,1311.5 536.4,1311.7" fill="#f8c7a2" stroke="#8a735f" stroke-width="0.8"/>
<polygon points="390.0,1119.6 402.2,1124.5 405.2,1135.5 396.8,1144.3 383.3,1144.3 374.8,1135.5 377.8,1124.5" fill="#808080" stroke="#737373" stroke-width="0.8"/>
<polygon points="466.7,1119.6 478.9,1124.5 481.9,1135.5 473.5,1144.3 460.0,1144.3 451.5,1135.5 454.5,1124.5" fill="#808080" stroke="#737373" stroke-width="0.8"/>
<polygon points="558.6,1120.6 570.8,1125.5 573.8,1136.5 565.4,1145.3 551.9,1145.3 543.4,1136.5 546.4,1125.5" fill="#808080" stroke="#737373" stroke-width="0.8"/>
<polygon points="405.8,1168.3 418.0,1173.2 421.0,1184.2 412.5,1193.0 399.0,1193.0 390.6,1184.2 393.6,1173.2" fill="#808080" stroke="#737373" stroke-width="0.8"/>
<polygon points="466.7,1168.3 478.9,1173.2 481.9,1184.2 473.5,1193.0 460.0,1193.0 451.5,1184.2 454.5,1173.2" fill="#808080" stroke="#737373" stroke-width="0.8"/>
<polygon points="523.1,1161.2 535.3,1166.1 538.3,1177.1 529.9,1185.9 516.3,1185.9 507.9,1177.1 510.9,1166.1" fill="#808080" stroke="#737373" stroke-width="0.8"/>
<polygon points="573.9,1190.7 586.1,1195.6 589.1,1206.6 580.6,1215.4 567.1,1215.4 558.7,1206.6 561.7,1195.6" fill="#808080" stroke="#737373" stroke-width="0.8"/>
<polygon points="390.0,1203.9 402.2,1208.8 405.2,1219.8 396.8,1228.6 383.3,1228.6 374.8,1219.8 377.8,1208.8" fill="#808080" stroke="#737373" stroke-width="0.8"/>
<polygon points="507.3,1203.9 519.5,1208.8 522.6,1219.8 514.1,1228.6 500.6,1228.6 492.1,1219.8 495.1,1208.8" fill="#808080" stroke="#737373" stroke-width="0.8"/>
<polygon points="451.5,1216.1 463.7,1221.0 466.7,1232.0 458.3,1240.8 444.7,1240.8 436.3,1232.0 439.3,1221.0" fill="#808080" stroke="#737373" stroke-width="0.8"/>
<polygon points="405.8,1244.0 418.0,1248.9 421.0,1259.9 412.5,1268.7 399.0,1268.7 390.6,1259.9 393.6,1248.9" fill="#808080" stroke="#737373" stroke-width="0.8"/>
<polygon points="497.2,1248.3 509.4,1253.2 512.4,1264.2 504.0,1273.0 490.4,1273.0 482.0,1264.2 485.0,1253.2" fill="#808080" stroke="#737373" stroke-width="0.8"/>
<polygon points="548.5,1248.3 560.7,1253.2 563.7,1264.2 555.2,1273.0 541.7,1273.0 533.3,1264.2 536.3,1253.2" fill="#808080" stroke="#737373" stroke-width="0.8"/>
<polygon points="446.4,1278.8 458.6,1283.7 461.6,1294.7 453.2,1303.5 439.6,1303.5 431.2,1294.7 434.2,1283.7" fill="#808080" stroke="#737373" stroke-width="0.8"/>
<polygon points="390.0,1288.9 402.2,1293.8 405.2,1304.8 396.8,1313.6 383.3,1313.6 374.8,1304.8 377.8,1293.8" fill="#808080" stroke="#737373" stroke-width="0.8"/>
<polygon points="512.9,1288.9 525.1,1293.8 528.1,1304.8 519.7,1313.6 506.2,1313.6 497.7,1304.8 500.7,1293.8" fill="#808080" stroke="#737373" stroke-width="0.8"/>
<polygon points="563.7,1288.9 575.9,1293.8 578.9,1304.8 570.5,1313.6 556.9,1313.6 548.5,1304.8 551.5,1293.8" fill="#808080" stroke="#737373" stroke-width="0.8"/>
<circle cx="725.2" cy="1125.9" r="6.3" fill="#fafafa" stroke="#000" stroke-width="1.7"/>
<polygon points="730.6,1166.2 734.2,1172.1 741.1,1171.2 738.7,1177.8 743.7,1182.6 737.1,1184.8 736.4,1191.7 730.6,1187.9 724.8,1191.7 724.1,1184.8 717.5,1182.6 722.5,1177.8 720.1,1171.2 727.0,1172.1" fill="#f8c7a2" stroke="#6f6255" stroke-width="1.1"/>
<polygon points="727.2,1237.1 747.8,1246.3 752.9,1267.1 738.7,1283.7 715.7,1283.7 701.5,1267.1 706.6,1246.3" fill="#808080" stroke="#6e6e6e" stroke-width="0.8"/>
<circle cx="732.9" cy="1372.4" r="24.8" fill="#d9d9d9" stroke="#8c8c8c" stroke-width="1.2"/><circle cx="724.3" cy="1360.3" r="4.6" fill="#ffffff" stroke="#8c8c8c" stroke-width="1.0"/><circle cx="739.6" cy="1360.3" r="6.3" fill="#ffffff" stroke="#8c8c8c" stroke-width="1.0"/><circle cx="719.5" cy="1372.4" r="6.3" fill="#ffffff" stroke="#8c8c8c" stroke-width="1.0"/><circle cx="733.1" cy="1374.6" r="4.9" fill="#ffffff" stroke="#8c8c8c" stroke-width="1.0"/><circle cx="746.6" cy="1374.6" r="4.4" fill="#ffffff" stroke="#8c8c8c" stroke-width="1.0"/><circle cx="724.3" cy="1385.6" r="4.6" fill="#ffffff" stroke="#8c8c8c" stroke-width="1.0"/><circle cx="741.0" cy="1387.7" r="4.5" fill="#ffffff" stroke="#8c8c8c" stroke-width="1.0"/>
</g>
<g id="labels">
<text textLength="162.37" lengthAdjust="spacingAndGlyphs" font-family="Carlito, 'Liberation Sans', sans-serif" font-weight="bold" x="5.33" y="77.90" font-size="27.20" fill="#000" transform="matrix(1 0 0 0.950 0 3.90)" >strength(MPa)</text>
<text textLength="262.81" lengthAdjust="spacingAndGlyphs" font-family="Carlito, 'Liberation Sans', sans-serif" font-weight="bold" x="224.87" y="104.10" font-size="27.09" fill="#595959" transform="matrix(1 0 0 0.950 0 5.21)" >High strength &gt;100MPa</text>
<text textLength="81.67" lengthAdjust="spacingAndGlyphs" font-family="Carlito, 'Liberation Sans', sans-serif" font-weight="bold" x="789.07" y="159.70" font-size="27.18" fill="#595959" transform="matrix(1 0 0 0.950 0 7.99)" >Point A</text>
<text textLength="214.45" lengthAdjust="spacingAndGlyphs" font-family="Carlito, 'Liberation Sans', sans-serif" font-weight="bold" x="227.86" y="460.80" font-size="27.17" fill="#000" transform="matrix(1 0 0 0.950 0 23.04)" >Structural concrete</text>
<text textLength="87.84" lengthAdjust="spacingAndGlyphs" font-family="Carlito, 'Liberation Sans', sans-serif" font-weight="bold" x="406.13" y="496.20" font-size="27.80" fill="#595959" transform="matrix(1 0 0 0.950 0 24.81)" >Point A&#x27;</text>
<text textLength="78.74" lengthAdjust="spacingAndGlyphs" font-family="Carlito, 'Liberation Sans', sans-serif" font-weight="bold" x="100.98" y="531.90" font-size="27.22" fill="#000" transform="matrix(1 0 0 0.950 0 26.60)" >21MPa</text>
<text textLength="80.34" lengthAdjust="spacingAndGlyphs" font-family="Carlito, 'Liberation Sans', sans-serif" font-weight="bold" x="821.77" y="501.20" font-size="27.14" fill="#595959" transform="matrix(1 0 0 0.950 0 25.06)" >Point B</text>
<text textLength="78.93" lengthAdjust="spacingAndGlyphs" font-family="Carlito, 'Liberation Sans', sans-serif" font-weight="bold" x="498.48" y="551.50" font-size="26.96" fill="#595959" transform="matrix(1 0 0 0.950 0 27.58)" >Point C</text>
<text textLength="87.44" lengthAdjust="spacingAndGlyphs" font-family="Carlito, 'Liberation Sans', sans-serif" font-weight="bold" x="493.16" y="626.90" font-size="27.39" fill="#595959" transform="matrix(1 0 0 0.950 0 31.35)" >Point B&#x27;</text>
<text textLength="25.86" lengthAdjust="spacingAndGlyphs" font-family="Carlito, 'Liberation Sans', sans-serif" font-weight="bold" x="298.62" y="692.40" font-size="20.20" fill="#000" transform="matrix(1 0 0 0.950 0 34.62)" >1.6</text>
<text textLength="25.86" lengthAdjust="spacingAndGlyphs" font-family="Carlito, 'Liberation Sans', sans-serif" font-weight="bold" x="383.42" y="693.50" font-size="20.20" fill="#000" transform="matrix(1 0 0 0.950 0 34.68)" >1.7</text>
<text textLength="25.86" lengthAdjust="spacingAndGlyphs" font-family="Carlito, 'Liberation Sans', sans-serif" font-weight="bold" x="471.12" y="692.40" font-size="20.20" fill="#000" transform="matrix(1 0 0 0.950 0 34.62)" >1.8</text>
<text textLength="25.86" lengthAdjust="spacingAndGlyphs" font-family="Carlito, 'Liberation Sans', sans-serif" font-weight="bold" x="558.37" y="693.50" font-size="20.20" fill="#000" transform="matrix(1 0 0 0.950 0 34.68)" >1.9</text>
<text textLength="25.86" lengthAdjust="spacingAndGlyphs" font-family="Carlito, 'Liberation Sans', sans-serif" font-weight="bold" x="640.62" y="693.50" font-size="20.20" fill="#000" transform="matrix(1 0 0 0.950 0 34.68)" >2.0</text>
<text textLength="25.86" lengthAdjust="spacingAndGlyphs" font-family="Carlito, 'Liberation Sans', sans-serif" font-weight="bold" x="725.92" y="693.50" font-size="20.20" fill="#000" transform="matrix(1 0 0 0.950 0 34.68)" >2.1</text>
<text textLength="25.86" lengthAdjust="spacingAndGlyphs" font-family="Carlito, 'Liberation Sans', sans-serif" font-weight="bold" x="813.42" y="690.80" font-size="20.20" fill="#000" transform="matrix(1 0 0 0.950 0 34.54)" >2.2</text>
<text textLength="25.86" lengthAdjust="spacingAndGlyphs" font-family="Carlito, 'Liberation Sans', sans-serif" font-weight="bold" x="899.12" y="690.80" font-size="20.20" fill="#000" transform="matrix(1 0 0 0.950 0 34.54)" >2.3</text>
<text textLength="25.86" lengthAdjust="spacingAndGlyphs" font-family="Carlito, 'Liberation Sans', sans-serif" font-weight="bold" x="981.32" y="690.80" font-size="20.20" fill="#000" transform="matrix(1 0 0 0.950 0 34.54)" >2.4</text>
<text textLength="296.73" lengthAdjust="spacingAndGlyphs" font-family="Carlito, 'Liberation Sans', sans-serif" font-weight="bold" x="7.80" y="1000.30" font-size="28.27" fill="#000" transform="matrix(1 0 0 0.950 0 50.02)" >A. High strength concrete</text>
<text textLength="229.11" lengthAdjust="spacingAndGlyphs" font-family="Carlito, 'Liberation Sans', sans-serif" font-weight="bold" x="400.50" y="1000.60" font-size="28.37" fill="#000" transform="matrix(1 0 0 0.950 0 50.03)" xml:space="preserve">B. Normal  strength</text>
<text textLength="101.20" lengthAdjust="spacingAndGlyphs" font-family="Carlito, 'Liberation Sans', sans-serif" font-weight="bold" x="401.35" y="1034.60" font-size="28.24" fill="#000" transform="matrix(1 0 0 0.950 0 51.73)" >concrete</text>
<text textLength="275.02" lengthAdjust="spacingAndGlyphs" font-family="Carlito, 'Liberation Sans', sans-serif" font-weight="bold" x="707.33" y="996.90" font-size="28.39" fill="#000" transform="matrix(1 0 0 0.950 0 49.85)" >C: Lightweight concrete</text>
<text textLength="314.11" lengthAdjust="spacingAndGlyphs" font-family="Carlito, 'Liberation Sans', sans-serif" font-weight="bold" x="707.62" y="1031.00" font-size="28.38" fill="#000" transform="matrix(1 0 0 0.950 0 51.55)" >with lightweight aggregate</text>
<text textLength="290.42" lengthAdjust="spacingAndGlyphs" font-family="Carlito, 'Liberation Sans', sans-serif" font-weight="bold" x="6.25" y="1362.50" font-size="28.60" fill="#000" transform="matrix(1 0 0 0.950 0 68.13)" >A&#x27;. Structural lightweight</text>
<text textLength="299.73" lengthAdjust="spacingAndGlyphs" font-family="Carlito, 'Liberation Sans', sans-serif" font-weight="bold" x="2.25" y="1396.60" font-size="28.24" fill="#000" transform="matrix(1 0 0 0.950 0 69.83)" >concrete with foam agent</text>
<text textLength="136.73" lengthAdjust="spacingAndGlyphs" font-family="Carlito, 'Liberation Sans', sans-serif" font-weight="bold" x="83.19" y="1431.30" font-size="28.48" fill="#000" transform="matrix(1 0 0 0.950 0 71.57)" >(this paper)</text>
<text textLength="206.15" lengthAdjust="spacingAndGlyphs" font-family="Carlito, 'Liberation Sans', sans-serif" font-weight="bold" x="405.47" y="1360.00" font-size="28.77" fill="#000" transform="matrix(1 0 0 0.950 0 68.00)" >B&#x27;. Non structural</text>
<text textLength="302.53" lengthAdjust="spacingAndGlyphs" font-family="Carlito, 'Liberation Sans', sans-serif" font-weight="bold" x="357.68" y="1393.75" font-size="28.59" fill="#000" transform="matrix(1 0 0 0.950 0 69.69)" >lightweight concrete with</text>
<text textLength="134.44" lengthAdjust="spacingAndGlyphs" font-family="Carlito, 'Liberation Sans', sans-serif" font-weight="bold" x="359.71" y="1423.40" font-size="28.58" fill="#000" transform="matrix(1 0 0 0.950 0 71.17)" >foam agent</text>
<text textLength="129.28" lengthAdjust="spacingAndGlyphs" font-family="Carlito, 'Liberation Sans', sans-serif" font-weight="bold" x="764.72" y="1130.30" font-size="28.32" fill="#000" transform="matrix(1 0 0 0.950 0 56.52)" >Micro pore</text>
<text textLength="166.71" lengthAdjust="spacingAndGlyphs" font-family="Carlito, 'Liberation Sans', sans-serif" font-weight="bold" x="766.02" y="1189.50" font-size="28.24" fill="#000" transform="matrix(1 0 0 0.950 0 59.48)" >fine aggregate</text>
<text textLength="198.76" lengthAdjust="spacingAndGlyphs" font-family="Carlito, 'Liberation Sans', sans-serif" font-weight="bold" x="763.35" y="1270.20" font-size="28.43" fill="#000" transform="matrix(1 0 0 0.950 0 63.51)" >coarse aggregate</text>
<text textLength="255.86" lengthAdjust="spacingAndGlyphs" font-family="Carlito, 'Liberation Sans', sans-serif" font-weight="bold" x="766.39" y="1376.10" font-size="28.52" fill="#000" transform="matrix(1 0 0 0.950 0 68.81)" >lightweight aggregate</text>
<text textLength="135.24" lengthAdjust="spacingAndGlyphs" font-family="Carlito, 'Liberation Sans', sans-serif" font-weight="bold" x="564.20" y="728.70" font-size="26.87" fill="#000" transform="matrix(1 0 0 0.950 0 36.44)" >Density(t/m</text>
<text textLength="9.28" lengthAdjust="spacingAndGlyphs" font-family="Carlito, 'Liberation Sans', sans-serif" font-weight="bold" x="699.60" y="721.10" font-size="18.30" fill="#000" transform="matrix(1 0 0 0.950 0 36.06)" >3</text>
<text textLength="8.38" lengthAdjust="spacingAndGlyphs" font-family="Carlito, 'Liberation Sans', sans-serif" font-weight="bold" x="709.20" y="728.70" font-size="26.87" fill="#000" transform="matrix(1 0 0 0.950 0 36.44)" >)</text>
</g>
</svg>
</body></html>
